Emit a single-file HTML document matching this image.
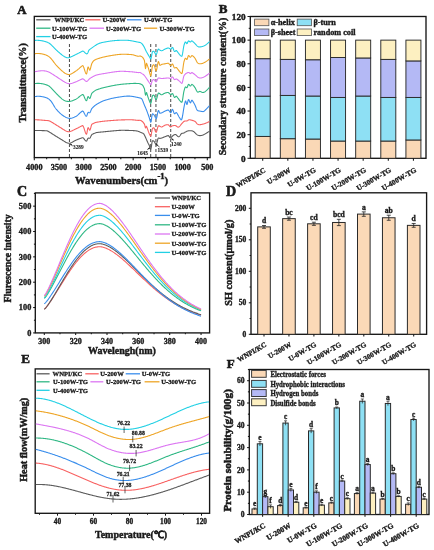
<!DOCTYPE html><html><head><meta charset="utf-8"><style>html,body{margin:0;padding:0;background:#fff;overflow:hidden}svg{display:block;filter:blur(0.4px)}</style></head><body><svg width="434" height="550" viewBox="0 0 434 550" font-family="Liberation Serif" font-weight="bold">
<rect width="434" height="550" fill="#fff"/>
<rect x="34.30" y="16.40" width="175.80" height="141.20" fill="none" stroke="#161616" stroke-width="1.35"/>
<line x1="34.30" y1="157.60" x2="34.30" y2="160.20" stroke="#161616" stroke-width="1.05"/>
<text x="34.30" y="170.00" font-size="8.2" text-anchor="middle" fill="#1a1a1a" stroke="#1a1a1a" stroke-width="0.369">4000</text>
<line x1="46.66" y1="157.60" x2="46.66" y2="159.20" stroke="#161616" stroke-width="1.05"/>
<line x1="59.02" y1="157.60" x2="59.02" y2="160.20" stroke="#161616" stroke-width="1.05"/>
<text x="59.02" y="170.00" font-size="8.2" text-anchor="middle" fill="#1a1a1a" stroke="#1a1a1a" stroke-width="0.369">3500</text>
<line x1="71.37" y1="157.60" x2="71.37" y2="159.20" stroke="#161616" stroke-width="1.05"/>
<line x1="83.73" y1="157.60" x2="83.73" y2="160.20" stroke="#161616" stroke-width="1.05"/>
<text x="83.73" y="170.00" font-size="8.2" text-anchor="middle" fill="#1a1a1a" stroke="#1a1a1a" stroke-width="0.369">3000</text>
<line x1="96.09" y1="157.60" x2="96.09" y2="159.20" stroke="#161616" stroke-width="1.05"/>
<line x1="108.44" y1="157.60" x2="108.44" y2="160.20" stroke="#161616" stroke-width="1.05"/>
<text x="108.44" y="170.00" font-size="8.2" text-anchor="middle" fill="#1a1a1a" stroke="#1a1a1a" stroke-width="0.369">2500</text>
<line x1="120.80" y1="157.60" x2="120.80" y2="159.20" stroke="#161616" stroke-width="1.05"/>
<line x1="133.16" y1="157.60" x2="133.16" y2="160.20" stroke="#161616" stroke-width="1.05"/>
<text x="133.16" y="170.00" font-size="8.2" text-anchor="middle" fill="#1a1a1a" stroke="#1a1a1a" stroke-width="0.369">2000</text>
<line x1="145.52" y1="157.60" x2="145.52" y2="159.20" stroke="#161616" stroke-width="1.05"/>
<line x1="157.88" y1="157.60" x2="157.88" y2="160.20" stroke="#161616" stroke-width="1.05"/>
<text x="157.88" y="170.00" font-size="8.2" text-anchor="middle" fill="#1a1a1a" stroke="#1a1a1a" stroke-width="0.369">1500</text>
<line x1="170.23" y1="157.60" x2="170.23" y2="159.20" stroke="#161616" stroke-width="1.05"/>
<line x1="182.59" y1="157.60" x2="182.59" y2="160.20" stroke="#161616" stroke-width="1.05"/>
<text x="182.59" y="170.00" font-size="8.2" text-anchor="middle" fill="#1a1a1a" stroke="#1a1a1a" stroke-width="0.369">1000</text>
<line x1="194.95" y1="157.60" x2="194.95" y2="159.20" stroke="#161616" stroke-width="1.05"/>
<line x1="207.31" y1="157.60" x2="207.31" y2="160.20" stroke="#161616" stroke-width="1.05"/>
<text x="207.31" y="170.00" font-size="8.2" text-anchor="middle" fill="#1a1a1a" stroke="#1a1a1a" stroke-width="0.369">500</text>
<text x="17.30" y="13.60" font-size="12.8" text-anchor="start" fill="#1a1a1a" stroke="#1a1a1a" stroke-width="0.576">A</text>
<text x="121.60" y="184.00" font-size="10.6" text-anchor="middle" fill="#1a1a1a" stroke="#1a1a1a" stroke-width="0.477">Wavenumbers(cm<tspan dy="-4.6" font-size="8.6">-1</tspan><tspan dy="4.6">)</tspan></text>
<text x="26.50" y="82.90" font-size="10.1" text-anchor="middle" fill="#1a1a1a" stroke="#1a1a1a" stroke-width="0.454" transform="rotate(-90 26.50 82.90)">Transmittnace(%)</text>
<line x1="36.20" y1="19.80" x2="50.50" y2="19.80" stroke="#5c5c5c" stroke-width="1.3"/>
<text x="54.60" y="22.10" font-size="6.6" text-anchor="start" fill="#1a1a1a" stroke="#1a1a1a" stroke-width="0.297">WNPI/KC</text>
<line x1="85.30" y1="19.80" x2="100.50" y2="19.80" stroke="#f86262" stroke-width="1.3"/>
<text x="102.50" y="22.10" font-size="6.6" text-anchor="start" fill="#1a1a1a" stroke="#1a1a1a" stroke-width="0.297">U-200W</text>
<line x1="127.00" y1="19.80" x2="141.50" y2="19.80" stroke="#3a8eec" stroke-width="1.3"/>
<text x="144.00" y="22.10" font-size="6.6" text-anchor="start" fill="#1a1a1a" stroke="#1a1a1a" stroke-width="0.297">U-0W-TG</text>
<line x1="36.20" y1="28.20" x2="50.50" y2="28.20" stroke="#30b885" stroke-width="1.3"/>
<text x="52.10" y="30.50" font-size="6.6" text-anchor="start" fill="#1a1a1a" stroke="#1a1a1a" stroke-width="0.297">U-100W-TG</text>
<line x1="89.50" y1="28.20" x2="104.00" y2="28.20" stroke="#dc76f2" stroke-width="1.3"/>
<text x="106.10" y="30.50" font-size="6.6" text-anchor="start" fill="#1a1a1a" stroke="#1a1a1a" stroke-width="0.297">U-200W-TG</text>
<line x1="144.00" y1="28.20" x2="157.20" y2="28.20" stroke="#eea526" stroke-width="1.3"/>
<text x="159.60" y="30.50" font-size="6.6" text-anchor="start" fill="#1a1a1a" stroke="#1a1a1a" stroke-width="0.297">U-300W-TG</text>
<line x1="36.20" y1="36.60" x2="50.50" y2="36.60" stroke="#22d0e4" stroke-width="1.3"/>
<text x="52.10" y="38.90" font-size="6.6" text-anchor="start" fill="#1a1a1a" stroke="#1a1a1a" stroke-width="0.297">U-400W-TG</text>
<line x1="69.44" y1="44.00" x2="69.44" y2="157.60" stroke="#333" stroke-width="0.9" stroke-dasharray="3,2"/>
<line x1="150.71" y1="44.00" x2="150.71" y2="157.60" stroke="#333" stroke-width="0.9" stroke-dasharray="3,2"/>
<line x1="155.95" y1="44.00" x2="155.95" y2="157.60" stroke="#333" stroke-width="0.9" stroke-dasharray="3,2"/>
<line x1="170.73" y1="44.00" x2="170.73" y2="157.60" stroke="#333" stroke-width="0.9" stroke-dasharray="3,2"/>
<path d="M34.90,130.50 L35.25,130.49 L35.60,130.48 L35.95,130.48 L36.30,130.47 L36.65,130.47 L37.00,130.47 L37.35,130.47 L37.70,130.47 L38.05,130.48 L38.40,130.48 L38.75,130.49 L39.10,130.49 L39.45,130.50 L39.80,130.51 L40.15,130.52 L40.50,130.53 L40.85,130.54 L41.20,130.55 L41.55,130.57 L41.90,130.58 L42.25,130.59 L42.60,130.61 L42.95,130.62 L43.30,130.63 L43.65,130.65 L44.00,130.66 L44.35,130.67 L44.70,130.69 L45.05,130.70 L45.40,130.71 L45.75,130.71 L46.10,130.72 L46.45,130.75 L46.80,130.80 L47.15,130.88 L47.50,131.00 L47.85,131.15 L48.20,131.33 L48.55,131.52 L48.90,131.72 L49.25,131.94 L49.60,132.16 L49.95,132.38 L50.30,132.61 L50.65,132.83 L51.00,133.05 L51.35,133.27 L51.70,133.50 L52.05,133.72 L52.39,133.94 L52.74,134.17 L53.09,134.39 L53.44,134.61 L53.79,134.84 L54.14,135.06 L54.49,135.28 L54.84,135.51 L55.19,135.73 L55.54,135.95 L55.89,136.17 L56.24,136.39 L56.59,136.61 L56.94,136.83 L57.29,137.04 L57.64,137.26 L57.99,137.47 L58.34,137.68 L58.69,137.89 L59.04,138.11 L59.39,138.32 L59.74,138.53 L60.09,138.74 L60.44,138.95 L60.79,139.16 L61.14,139.36 L61.49,139.58 L61.84,139.79 L62.19,140.00 L62.54,140.23 L62.89,140.45 L63.24,140.68 L63.59,140.91 L63.94,141.14 L64.29,141.37 L64.64,141.59 L64.99,141.80 L65.34,142.01 L65.69,142.21 L66.04,142.39 L66.39,142.56 L66.74,142.72 L67.09,142.86 L67.44,142.98 L67.79,143.08 L68.14,143.16 L68.49,143.22 L68.84,143.25 L69.19,143.25 L69.54,143.22 L69.89,143.17 L70.24,143.08 L70.59,142.97 L70.94,142.84 L71.29,142.69 L71.64,142.52 L71.99,142.34 L72.34,142.15 L72.69,141.95 L73.04,141.75 L73.39,141.54 L73.74,141.34 L74.09,141.13 L74.44,140.94 L74.79,140.75 L75.14,140.57 L75.49,140.41 L75.84,140.25 L76.19,140.10 L76.54,139.95 L76.89,139.80 L77.24,139.66 L77.59,139.51 L77.94,139.37 L78.29,139.23 L78.64,139.09 L78.99,138.96 L79.34,138.82 L79.69,138.69 L80.04,138.56 L80.39,138.43 L80.74,138.30 L81.09,138.17 L81.44,138.04 L81.79,137.92 L82.14,137.79 L82.49,137.68 L82.84,137.70 L83.19,137.88 L83.54,138.20 L83.89,138.60 L84.24,139.07 L84.59,139.56 L84.94,140.04 L85.29,140.47 L85.64,140.82 L85.99,141.05 L86.34,141.13 L86.69,140.96 L87.04,140.32 L87.38,139.45 L87.73,138.66 L88.08,138.24 L88.43,138.13 L88.78,138.17 L89.13,138.25 L89.48,138.28 L89.83,138.15 L90.18,137.76 L90.53,137.14 L90.88,136.39 L91.23,135.63 L91.58,134.98 L91.93,134.55 L92.28,134.33 L92.63,134.13 L92.98,133.95 L93.33,133.78 L93.68,133.62 L94.03,133.49 L94.38,133.35 L94.73,133.20 L95.08,133.06 L95.43,132.91 L95.78,132.78 L96.13,132.66 L96.48,132.57 L96.83,132.51 L97.18,132.47 L97.53,132.43 L97.88,132.39 L98.23,132.35 L98.58,132.32 L98.93,132.28 L99.28,132.24 L99.63,132.21 L99.98,132.17 L100.33,132.14 L100.68,132.10 L101.03,132.07 L101.38,132.03 L101.73,132.00 L102.08,131.97 L102.43,131.93 L102.78,131.90 L103.13,131.86 L103.48,131.83 L103.83,131.80 L104.18,131.76 L104.53,131.73 L104.88,131.70 L105.23,131.66 L105.58,131.63 L105.93,131.59 L106.28,131.56 L106.63,131.53 L106.98,131.49 L107.33,131.46 L107.68,131.42 L108.03,131.39 L108.38,131.36 L108.73,131.32 L109.08,131.29 L109.43,131.26 L109.78,131.22 L110.13,131.19 L110.48,131.15 L110.83,131.12 L111.18,131.09 L111.53,131.05 L111.88,131.02 L112.23,130.99 L112.58,130.95 L112.93,130.92 L113.28,130.89 L113.63,130.86 L113.98,130.82 L114.33,130.79 L114.68,130.76 L115.03,130.73 L115.38,130.70 L115.73,130.67 L116.08,130.63 L116.43,130.60 L116.78,130.57 L117.13,130.54 L117.48,130.51 L117.83,130.48 L118.18,130.45 L118.53,130.43 L118.88,130.41 L119.23,130.39 L119.58,130.37 L119.93,130.35 L120.28,130.34 L120.63,130.33 L120.98,130.32 L121.33,130.31 L121.68,130.31 L122.03,130.30 L122.37,130.30 L122.72,130.30 L123.07,130.30 L123.42,130.30 L123.77,130.30 L124.12,130.31 L124.47,130.31 L124.82,130.32 L125.17,130.33 L125.52,130.33 L125.87,130.34 L126.22,130.35 L126.57,130.36 L126.92,130.37 L127.27,130.38 L127.62,130.39 L127.97,130.40 L128.32,130.41 L128.67,130.42 L129.02,130.43 L129.37,130.45 L129.72,130.46 L130.07,130.47 L130.42,130.47 L130.77,130.48 L131.12,130.49 L131.47,130.50 L131.82,130.51 L132.17,130.52 L132.52,130.54 L132.87,130.55 L133.22,130.58 L133.57,130.60 L133.92,130.63 L134.27,130.66 L134.62,130.69 L134.97,130.73 L135.32,130.76 L135.67,130.80 L136.02,130.84 L136.37,130.88 L136.72,130.93 L137.07,131.00 L137.42,131.08 L137.77,131.17 L138.12,131.28 L138.47,131.40 L138.82,131.54 L139.17,131.68 L139.52,131.82 L139.87,131.97 L140.22,132.13 L140.57,132.29 L140.92,132.44 L141.27,132.60 L141.62,132.75 L141.97,132.88 L142.32,133.00 L142.67,133.14 L143.02,133.33 L143.37,133.59 L143.72,133.94 L144.07,134.42 L144.42,135.04 L144.77,135.75 L145.12,136.50 L145.47,137.27 L145.82,138.06 L146.17,138.85 L146.52,139.64 L146.87,140.43 L147.22,141.23 L147.57,142.03 L147.92,142.82 L148.27,143.54 L148.62,144.14 L148.97,144.74 L149.32,145.56 L149.67,146.66 L150.02,147.83 L150.37,148.83 L150.72,149.37 L151.07,148.43 L151.42,146.36 L151.77,143.89 L152.12,141.76 L152.47,140.72 L152.82,140.67 L153.17,140.74 L153.52,140.91 L153.87,141.17 L154.22,141.55 L154.57,142.11 L154.92,142.75 L155.27,143.40 L155.62,143.96 L155.97,144.33 L156.32,144.32 L156.67,143.62 L157.02,142.43 L157.36,141.01 L157.71,139.61 L158.06,138.50 L158.41,137.93 L158.76,137.94 L159.11,138.11 L159.46,138.30 L159.81,138.41 L160.16,138.36 L160.51,138.29 L160.86,138.22 L161.21,138.14 L161.56,138.05 L161.91,137.93 L162.26,137.80 L162.61,137.66 L162.96,137.52 L163.31,137.38 L163.66,137.24 L164.01,137.09 L164.36,136.95 L164.71,136.81 L165.06,136.68 L165.41,136.54 L165.76,136.40 L166.11,136.27 L166.46,136.14 L166.81,136.02 L167.16,135.89 L167.51,135.77 L167.86,135.65 L168.21,135.59 L168.56,135.78 L168.91,136.17 L169.26,136.67 L169.61,137.18 L169.96,137.62 L170.31,137.90 L170.66,137.92 L171.01,137.69 L171.36,137.37 L171.71,136.98 L172.06,136.56 L172.41,136.15 L172.76,135.80 L173.11,135.52 L173.46,135.28 L173.81,135.06 L174.16,134.86 L174.51,134.69 L174.86,134.55 L175.21,134.46 L175.56,134.51 L175.91,134.67 L176.26,134.93 L176.61,135.24 L176.96,135.59 L177.31,135.93 L177.66,136.25 L178.01,136.51 L178.36,136.69 L178.71,136.75 L179.06,136.67 L179.41,136.42 L179.76,136.01 L180.11,135.51 L180.46,134.96 L180.81,134.42 L181.16,133.94 L181.51,133.58 L181.86,133.38 L182.21,133.28 L182.56,133.22 L182.91,133.17 L183.26,133.12 L183.61,133.04 L183.96,132.92 L184.31,132.75 L184.66,132.55 L185.01,132.33 L185.36,132.10 L185.71,131.88 L186.06,131.67 L186.41,131.47 L186.76,131.30 L187.11,131.16 L187.46,131.05 L187.81,130.96 L188.16,130.89 L188.51,130.83 L188.86,130.78 L189.21,130.75 L189.56,130.72 L189.91,130.70 L190.26,130.69 L190.61,130.70 L190.96,130.72 L191.31,130.75 L191.66,130.81 L192.01,130.88 L192.35,130.97 L192.70,131.09 L193.05,131.22 L193.40,131.41 L193.75,131.65 L194.10,131.93 L194.45,132.25 L194.80,132.60 L195.15,132.96 L195.50,133.33 L195.85,133.69 L196.20,134.03 L196.55,134.35 L196.90,134.63 L197.25,134.87 L197.60,135.05 L197.95,135.20 L198.30,135.33 L198.65,135.44 L199.00,135.52 L199.35,135.58 L199.70,135.60 L200.05,135.60 L200.40,135.58 L200.75,135.55 L201.10,135.52 L201.45,135.47 L201.80,135.40 L202.15,135.32 L202.50,135.21 L202.85,135.07 L203.20,134.90 L203.55,134.73 L203.90,134.56 L204.25,134.38 L204.60,134.20 L204.95,134.01 L205.30,133.81 L205.65,133.61 L206.00,133.40 L206.35,133.19 L206.70,132.97 L207.05,132.76 L207.40,132.55 L207.75,132.33 L208.10,132.11 L208.45,131.89 L208.80,131.66 L209.15,131.43 L209.50,131.20" fill="none" stroke="#5c5c5c" stroke-width="1.1" stroke-linejoin="round"/>
<path d="M34.90,119.80 L35.25,119.80 L35.60,119.80 L35.95,119.80 L36.30,119.81 L36.65,119.81 L37.00,119.82 L37.35,119.83 L37.70,119.85 L38.05,119.86 L38.40,119.88 L38.75,119.90 L39.10,119.92 L39.45,119.94 L39.80,119.96 L40.15,119.98 L40.50,120.01 L40.85,120.04 L41.20,120.06 L41.55,120.09 L41.90,120.12 L42.25,120.15 L42.60,120.18 L42.95,120.21 L43.30,120.24 L43.65,120.27 L44.00,120.31 L44.35,120.34 L44.70,120.37 L45.05,120.40 L45.40,120.43 L45.75,120.45 L46.10,120.47 L46.45,120.49 L46.80,120.51 L47.15,120.53 L47.50,120.56 L47.85,120.60 L48.20,120.65 L48.55,120.72 L48.90,120.80 L49.25,120.90 L49.60,121.02 L49.95,121.16 L50.30,121.33 L50.65,121.53 L51.00,121.74 L51.35,121.95 L51.70,122.16 L52.05,122.38 L52.39,122.59 L52.74,122.81 L53.09,123.02 L53.44,123.24 L53.79,123.46 L54.14,123.68 L54.49,123.90 L54.84,124.12 L55.19,124.33 L55.54,124.55 L55.89,124.77 L56.24,124.99 L56.59,125.21 L56.94,125.43 L57.29,125.64 L57.64,125.86 L57.99,126.08 L58.34,126.30 L58.69,126.52 L59.04,126.74 L59.39,126.96 L59.74,127.18 L60.09,127.40 L60.44,127.62 L60.79,127.83 L61.14,128.05 L61.49,128.27 L61.84,128.49 L62.19,128.71 L62.54,128.94 L62.89,129.16 L63.24,129.39 L63.59,129.61 L63.94,129.84 L64.29,130.05 L64.64,130.26 L64.99,130.47 L65.34,130.66 L65.69,130.84 L66.04,131.01 L66.39,131.16 L66.74,131.30 L67.09,131.42 L67.44,131.52 L67.79,131.60 L68.14,131.66 L68.49,131.69 L68.84,131.70 L69.19,131.68 L69.54,131.63 L69.89,131.56 L70.24,131.46 L70.59,131.35 L70.94,131.23 L71.29,131.10 L71.64,130.95 L71.99,130.80 L72.34,130.64 L72.69,130.47 L73.04,130.30 L73.39,130.13 L73.74,129.95 L74.09,129.78 L74.44,129.60 L74.79,129.43 L75.14,129.27 L75.49,129.11 L75.84,128.95 L76.19,128.78 L76.54,128.61 L76.89,128.44 L77.24,128.26 L77.59,128.09 L77.94,127.91 L78.29,127.72 L78.64,127.54 L78.99,127.35 L79.34,127.17 L79.69,126.98 L80.04,126.80 L80.39,126.61 L80.74,126.43 L81.09,126.25 L81.44,126.07 L81.79,125.90 L82.14,125.73 L82.49,125.57 L82.84,125.70 L83.19,126.18 L83.54,126.93 L83.89,127.87 L84.24,128.95 L84.59,130.09 L84.94,131.21 L85.29,132.25 L85.64,133.13 L85.99,133.79 L86.34,134.15 L86.69,133.95 L87.04,132.43 L87.38,130.29 L87.73,128.41 L88.08,127.64 L88.43,127.84 L88.78,128.51 L89.13,129.33 L89.48,129.99 L89.83,130.17 L90.18,129.62 L90.53,128.57 L90.88,127.27 L91.23,125.97 L91.58,124.88 L91.93,124.25 L92.28,124.04 L92.63,123.85 L92.98,123.66 L93.33,123.48 L93.68,123.31 L94.03,123.14 L94.38,122.98 L94.73,122.83 L95.08,122.69 L95.43,122.57 L95.78,122.46 L96.13,122.36 L96.48,122.28 L96.83,122.21 L97.18,122.16 L97.53,122.10 L97.88,122.05 L98.23,121.99 L98.58,121.93 L98.93,121.88 L99.28,121.82 L99.63,121.76 L99.98,121.71 L100.33,121.65 L100.68,121.60 L101.03,121.54 L101.38,121.49 L101.73,121.44 L102.08,121.40 L102.43,121.35 L102.78,121.31 L103.13,121.27 L103.48,121.23 L103.83,121.20 L104.18,121.17 L104.53,121.13 L104.88,121.10 L105.23,121.07 L105.58,121.04 L105.93,121.01 L106.28,120.97 L106.63,120.94 L106.98,120.91 L107.33,120.88 L107.68,120.85 L108.03,120.82 L108.38,120.79 L108.73,120.76 L109.08,120.73 L109.43,120.70 L109.78,120.67 L110.13,120.64 L110.48,120.61 L110.83,120.58 L111.18,120.55 L111.53,120.52 L111.88,120.50 L112.23,120.47 L112.58,120.44 L112.93,120.42 L113.28,120.39 L113.63,120.36 L113.98,120.34 L114.33,120.31 L114.68,120.29 L115.03,120.26 L115.38,120.24 L115.73,120.22 L116.08,120.19 L116.43,120.17 L116.78,120.15 L117.13,120.13 L117.48,120.11 L117.83,120.09 L118.18,120.07 L118.53,120.05 L118.88,120.03 L119.23,120.01 L119.58,120.00 L119.93,119.98 L120.28,119.97 L120.63,119.95 L120.98,119.94 L121.33,119.92 L121.68,119.91 L122.03,119.90 L122.37,119.89 L122.72,119.88 L123.07,119.87 L123.42,119.86 L123.77,119.85 L124.12,119.84 L124.47,119.84 L124.82,119.83 L125.17,119.82 L125.52,119.82 L125.87,119.81 L126.22,119.81 L126.57,119.80 L126.92,119.80 L127.27,119.80 L127.62,119.79 L127.97,119.79 L128.32,119.79 L128.67,119.79 L129.02,119.79 L129.37,119.79 L129.72,119.79 L130.07,119.79 L130.42,119.79 L130.77,119.79 L131.12,119.80 L131.47,119.80 L131.82,119.81 L132.17,119.82 L132.52,119.83 L132.87,119.86 L133.22,119.88 L133.57,119.91 L133.92,119.94 L134.27,119.98 L134.62,120.02 L134.97,120.06 L135.32,120.10 L135.67,120.14 L136.02,120.18 L136.37,120.22 L136.72,120.25 L137.07,120.29 L137.42,120.32 L137.77,120.35 L138.12,120.38 L138.47,120.40 L138.82,120.39 L139.17,120.36 L139.52,120.32 L139.87,120.30 L140.22,120.32 L140.57,120.42 L140.92,120.58 L141.27,120.78 L141.62,121.01 L141.97,121.25 L142.32,121.48 L142.67,121.78 L143.02,122.16 L143.37,122.60 L143.72,123.09 L144.07,123.60 L144.42,124.13 L144.77,125.22 L145.12,126.76 L145.47,127.94 L145.82,127.70 L146.17,126.54 L146.52,126.34 L146.87,127.18 L147.22,128.13 L147.57,129.14 L147.92,130.17 L148.27,131.17 L148.62,132.10 L148.97,132.95 L149.32,133.79 L149.67,134.57 L150.02,135.26 L150.37,135.82 L150.72,136.13 L151.07,135.34 L151.42,133.64 L151.77,131.58 L152.12,129.70 L152.47,128.55 L152.82,128.13 L153.17,127.89 L153.52,127.82 L153.87,127.92 L154.22,128.25 L154.57,128.99 L154.92,129.96 L155.27,130.96 L155.62,131.79 L155.97,132.26 L156.32,132.15 L156.67,131.39 L157.02,130.20 L157.36,128.82 L157.71,127.48 L158.06,126.41 L158.41,125.84 L158.76,125.79 L159.11,125.87 L159.46,126.01 L159.81,126.21 L160.16,126.43 L160.51,126.64 L160.86,126.83 L161.21,126.96 L161.56,127.00 L161.91,126.94 L162.26,126.77 L162.61,126.57 L162.96,126.36 L163.31,126.14 L163.66,125.91 L164.01,125.70 L164.36,125.50 L164.71,125.32 L165.06,125.18 L165.41,125.06 L165.76,124.95 L166.11,124.87 L166.46,124.80 L166.81,124.74 L167.16,124.71 L167.51,124.69 L167.86,124.69 L168.21,124.75 L168.56,124.98 L168.91,125.33 L169.26,125.75 L169.61,126.18 L169.96,126.56 L170.31,126.82 L170.66,126.90 L171.01,126.79 L171.36,126.57 L171.71,126.28 L172.06,126.01 L172.41,125.83 L172.76,125.74 L173.11,125.67 L173.46,125.61 L173.81,125.57 L174.16,125.54 L174.51,125.51 L174.86,125.50 L175.21,125.52 L175.56,125.62 L175.91,125.80 L176.26,126.03 L176.61,126.29 L176.96,126.55 L177.31,126.79 L177.66,126.98 L178.01,127.11 L178.36,127.15 L178.71,127.07 L179.06,126.85 L179.41,126.54 L179.76,126.16 L180.11,125.73 L180.46,125.28 L180.81,124.82 L181.16,124.36 L181.51,123.93 L181.86,123.54 L182.21,123.16 L182.56,122.78 L182.91,122.40 L183.26,122.05 L183.61,121.72 L183.96,121.43 L184.31,121.21 L184.66,121.09 L185.01,121.03 L185.36,121.01 L185.71,121.02 L186.06,121.03 L186.41,121.02 L186.76,120.97 L187.11,120.86 L187.46,120.66 L187.81,120.42 L188.16,120.17 L188.51,119.96 L188.86,119.82 L189.21,119.79 L189.56,119.79 L189.91,119.82 L190.26,119.87 L190.61,119.94 L190.96,120.02 L191.31,120.11 L191.66,120.21 L192.01,120.30 L192.35,120.40 L192.70,120.50 L193.05,120.61 L193.40,120.73 L193.75,120.85 L194.10,120.99 L194.45,121.14 L194.80,121.30 L195.15,121.49 L195.50,121.80 L195.85,122.21 L196.20,122.67 L196.55,123.14 L196.90,123.57 L197.25,123.93 L197.60,124.16 L197.95,124.33 L198.30,124.48 L198.65,124.59 L199.00,124.67 L199.35,124.72 L199.70,124.73 L200.05,124.69 L200.40,124.64 L200.75,124.59 L201.10,124.53 L201.45,124.47 L201.80,124.40 L202.15,124.32 L202.50,124.24 L202.85,124.14 L203.20,124.04 L203.55,123.93 L203.90,123.83 L204.25,123.72 L204.60,123.61 L204.95,123.49 L205.30,123.37 L205.65,123.24 L206.00,123.10 L206.35,122.96 L206.70,122.80 L207.05,122.65 L207.40,122.49 L207.75,122.32 L208.10,122.15 L208.45,121.97 L208.80,121.78 L209.15,121.59 L209.50,121.40" fill="none" stroke="#f86262" stroke-width="1.1" stroke-linejoin="round"/>
<path d="M34.90,96.60 L35.25,96.53 L35.60,96.48 L35.95,96.43 L36.30,96.38 L36.65,96.35 L37.00,96.32 L37.35,96.30 L37.70,96.29 L38.05,96.28 L38.40,96.28 L38.75,96.29 L39.10,96.30 L39.45,96.32 L39.80,96.34 L40.15,96.37 L40.50,96.41 L40.85,96.45 L41.20,96.50 L41.55,96.55 L41.90,96.61 L42.25,96.67 L42.60,96.74 L42.95,96.81 L43.30,96.88 L43.65,96.96 L44.00,97.04 L44.35,97.13 L44.70,97.22 L45.05,97.31 L45.40,97.41 L45.75,97.52 L46.10,97.65 L46.45,97.78 L46.80,97.93 L47.15,98.09 L47.50,98.27 L47.85,98.47 L48.20,98.68 L48.55,98.91 L48.90,99.16 L49.25,99.43 L49.60,99.73 L49.95,100.04 L50.30,100.38 L50.65,100.75 L51.00,101.16 L51.35,101.61 L51.70,102.10 L52.05,102.63 L52.39,103.18 L52.74,103.75 L53.09,104.34 L53.44,104.93 L53.79,105.53 L54.14,106.11 L54.49,106.69 L54.84,107.25 L55.19,107.78 L55.54,108.28 L55.89,108.75 L56.24,109.17 L56.59,109.58 L56.94,109.98 L57.29,110.37 L57.64,110.76 L57.99,111.14 L58.34,111.51 L58.69,111.87 L59.04,112.22 L59.39,112.56 L59.74,112.90 L60.09,113.22 L60.44,113.54 L60.79,113.85 L61.14,114.15 L61.49,114.43 L61.84,114.71 L62.19,114.98 L62.54,115.25 L62.89,115.50 L63.24,115.75 L63.59,115.99 L63.94,116.22 L64.29,116.44 L64.64,116.65 L64.99,116.85 L65.34,117.04 L65.69,117.22 L66.04,117.39 L66.39,117.55 L66.74,117.69 L67.09,117.83 L67.44,117.95 L67.79,118.05 L68.14,118.15 L68.49,118.23 L68.84,118.30 L69.19,118.35 L69.54,118.39 L69.89,118.41 L70.24,118.41 L70.59,118.38 L70.94,118.33 L71.29,118.27 L71.64,118.18 L71.99,118.08 L72.34,117.97 L72.69,117.84 L73.04,117.70 L73.39,117.56 L73.74,117.40 L74.09,117.25 L74.44,117.09 L74.79,116.92 L75.14,116.76 L75.49,116.61 L75.84,116.43 L76.19,116.23 L76.54,116.00 L76.89,115.75 L77.24,115.48 L77.59,115.19 L77.94,114.88 L78.29,114.57 L78.64,114.24 L78.99,113.91 L79.34,113.58 L79.69,113.25 L80.04,112.93 L80.39,112.61 L80.74,112.31 L81.09,112.01 L81.44,111.74 L81.79,111.49 L82.14,111.26 L82.49,111.06 L82.84,111.08 L83.19,111.36 L83.54,111.82 L83.89,112.44 L84.24,113.14 L84.59,113.87 L84.94,114.59 L85.29,115.24 L85.64,115.77 L85.99,116.12 L86.34,116.24 L86.69,116.00 L87.04,115.14 L87.38,113.98 L87.73,112.95 L88.08,112.44 L88.43,112.37 L88.78,112.50 L89.13,112.70 L89.48,112.81 L89.83,112.68 L90.18,112.20 L90.53,111.47 L90.88,110.60 L91.23,109.72 L91.58,108.94 L91.93,108.37 L92.28,108.02 L92.63,107.67 L92.98,107.33 L93.33,106.99 L93.68,106.66 L94.03,106.34 L94.38,106.04 L94.73,105.74 L95.08,105.45 L95.43,105.18 L95.78,104.92 L96.13,104.68 L96.48,104.45 L96.83,104.24 L97.18,104.04 L97.53,103.84 L97.88,103.64 L98.23,103.44 L98.58,103.24 L98.93,103.04 L99.28,102.84 L99.63,102.65 L99.98,102.45 L100.33,102.26 L100.68,102.08 L101.03,101.90 L101.38,101.72 L101.73,101.55 L102.08,101.39 L102.43,101.23 L102.78,101.08 L103.13,100.94 L103.48,100.81 L103.83,100.69 L104.18,100.57 L104.53,100.46 L104.88,100.34 L105.23,100.23 L105.58,100.12 L105.93,100.01 L106.28,99.91 L106.63,99.80 L106.98,99.70 L107.33,99.60 L107.68,99.49 L108.03,99.40 L108.38,99.30 L108.73,99.20 L109.08,99.11 L109.43,99.02 L109.78,98.93 L110.13,98.84 L110.48,98.75 L110.83,98.66 L111.18,98.58 L111.53,98.49 L111.88,98.41 L112.23,98.33 L112.58,98.25 L112.93,98.18 L113.28,98.10 L113.63,98.03 L113.98,97.96 L114.33,97.89 L114.68,97.82 L115.03,97.75 L115.38,97.68 L115.73,97.62 L116.08,97.56 L116.43,97.50 L116.78,97.44 L117.13,97.38 L117.48,97.32 L117.83,97.26 L118.18,97.21 L118.53,97.15 L118.88,97.10 L119.23,97.04 L119.58,96.98 L119.93,96.93 L120.28,96.88 L120.63,96.82 L120.98,96.77 L121.33,96.72 L121.68,96.67 L122.03,96.62 L122.37,96.57 L122.72,96.52 L123.07,96.48 L123.42,96.44 L123.77,96.40 L124.12,96.36 L124.47,96.32 L124.82,96.29 L125.17,96.26 L125.52,96.23 L125.87,96.20 L126.22,96.18 L126.57,96.16 L126.92,96.15 L127.27,96.13 L127.62,96.12 L127.97,96.12 L128.32,96.12 L128.67,96.12 L129.02,96.12 L129.37,96.14 L129.72,96.15 L130.07,96.17 L130.42,96.19 L130.77,96.22 L131.12,96.26 L131.47,96.30 L131.82,96.34 L132.17,96.39 L132.52,96.44 L132.87,96.49 L133.22,96.55 L133.57,96.61 L133.92,96.67 L134.27,96.74 L134.62,96.81 L134.97,96.88 L135.32,96.95 L135.67,97.02 L136.02,97.09 L136.37,97.17 L136.72,97.24 L137.07,97.32 L137.42,97.39 L137.77,97.47 L138.12,97.54 L138.47,97.61 L138.82,97.69 L139.17,97.78 L139.52,97.87 L139.87,97.97 L140.22,98.05 L140.57,98.13 L140.92,98.23 L141.27,98.41 L141.62,98.71 L141.97,99.18 L142.32,99.85 L142.67,100.65 L143.02,101.53 L143.37,102.44 L143.72,103.37 L144.07,104.28 L144.42,105.14 L144.77,105.96 L145.12,106.77 L145.47,107.57 L145.82,108.38 L146.17,109.20 L146.52,110.04 L146.87,110.93 L147.22,111.86 L147.57,112.83 L147.92,113.81 L148.27,114.80 L148.62,115.77 L148.97,116.78 L149.32,117.91 L149.67,119.10 L150.02,120.27 L150.37,121.36 L150.72,122.17 L151.07,121.43 L151.42,119.42 L151.77,116.94 L152.12,114.80 L152.47,113.81 L152.82,113.88 L153.17,114.07 L153.52,114.36 L153.87,114.74 L154.22,115.21 L154.57,115.86 L154.92,116.60 L155.27,117.35 L155.62,118.03 L155.97,118.56 L156.32,118.67 L156.67,117.82 L157.02,116.28 L157.36,114.42 L157.71,112.60 L158.06,111.17 L158.41,110.51 L158.76,110.79 L159.11,111.58 L159.46,112.49 L159.81,113.11 L160.16,113.18 L160.51,113.13 L160.86,113.07 L161.21,112.99 L161.56,112.89 L161.91,112.74 L162.26,112.56 L162.61,112.38 L162.96,112.19 L163.31,112.00 L163.66,111.81 L164.01,111.62 L164.36,111.43 L164.71,111.25 L165.06,111.07 L165.41,110.90 L165.76,110.75 L166.11,110.61 L166.46,110.48 L166.81,110.36 L167.16,110.25 L167.51,110.14 L167.86,110.04 L168.21,109.99 L168.56,110.17 L168.91,110.54 L169.26,111.02 L169.61,111.55 L169.96,112.05 L170.31,112.45 L170.66,112.69 L171.01,112.49 L171.36,111.73 L171.71,110.75 L172.06,109.86 L172.41,109.41 L172.76,109.63 L173.11,110.39 L173.46,111.42 L173.81,112.50 L174.16,113.37 L174.51,113.80 L174.86,113.75 L175.21,113.43 L175.56,113.01 L175.91,112.67 L176.26,112.55 L176.61,112.82 L176.96,113.28 L177.31,113.82 L177.66,114.42 L178.01,115.05 L178.36,115.69 L178.71,116.33 L179.06,116.93 L179.41,117.47 L179.76,118.00 L180.11,118.62 L180.46,119.22 L180.81,119.68 L181.16,119.88 L181.51,119.71 L181.86,119.05 L182.21,117.77 L182.56,115.98 L182.91,113.86 L183.26,111.61 L183.61,109.40 L183.96,107.42 L184.31,105.67 L184.66,103.98 L185.01,102.44 L185.36,101.12 L185.71,101.00 L186.06,102.00 L186.41,103.38 L186.76,104.40 L187.11,104.34 L187.46,103.22 L187.81,101.66 L188.16,100.26 L188.51,99.60 L188.86,99.82 L189.21,100.51 L189.56,101.41 L189.91,102.27 L190.26,102.83 L190.61,102.82 L190.96,102.11 L191.31,101.10 L191.66,100.30 L192.01,100.21 L192.35,100.64 L192.70,101.12 L193.05,101.64 L193.40,102.20 L193.75,102.78 L194.10,103.40 L194.45,104.05 L194.80,104.72 L195.15,105.42 L195.50,106.26 L195.85,107.20 L196.20,108.15 L196.55,109.03 L196.90,109.77 L197.25,110.30 L197.60,110.55 L197.95,110.68 L198.30,110.79 L198.65,110.87 L199.00,110.93 L199.35,110.99 L199.70,111.05 L200.05,111.11 L200.40,111.18 L200.75,111.26 L201.10,111.33 L201.45,111.41 L201.80,111.47 L202.15,111.53 L202.50,111.57 L202.85,111.60 L203.20,111.59 L203.55,111.49 L203.90,111.32 L204.25,111.08 L204.60,110.79 L204.95,110.46 L205.30,110.11 L205.65,109.75 L206.00,109.40 L206.35,109.05 L206.70,108.70 L207.05,108.35 L207.40,107.99 L207.75,107.62 L208.10,107.24 L208.45,106.85 L208.80,106.45 L209.15,106.03 L209.50,105.60" fill="none" stroke="#3a8eec" stroke-width="1.1" stroke-linejoin="round"/>
<path d="M34.90,83.60 L35.25,83.55 L35.60,83.51 L35.95,83.47 L36.30,83.44 L36.65,83.41 L37.00,83.39 L37.35,83.38 L37.70,83.37 L38.05,83.37 L38.40,83.37 L38.75,83.38 L39.10,83.39 L39.45,83.41 L39.80,83.43 L40.15,83.46 L40.50,83.50 L40.85,83.54 L41.20,83.59 L41.55,83.64 L41.90,83.69 L42.25,83.75 L42.60,83.82 L42.95,83.89 L43.30,83.96 L43.65,84.04 L44.00,84.13 L44.35,84.22 L44.70,84.31 L45.05,84.41 L45.40,84.52 L45.75,84.62 L46.10,84.74 L46.45,84.86 L46.80,84.99 L47.15,85.13 L47.50,85.28 L47.85,85.45 L48.20,85.63 L48.55,85.82 L48.90,86.04 L49.25,86.28 L49.60,86.53 L49.95,86.81 L50.30,87.11 L50.65,87.44 L51.00,87.79 L51.35,88.15 L51.70,88.51 L52.05,88.88 L52.39,89.26 L52.74,89.64 L53.09,90.03 L53.44,90.42 L53.79,90.81 L54.14,91.20 L54.49,91.58 L54.84,91.97 L55.19,92.35 L55.54,92.72 L55.89,93.09 L56.24,93.45 L56.59,93.80 L56.94,94.16 L57.29,94.51 L57.64,94.86 L57.99,95.21 L58.34,95.56 L58.69,95.90 L59.04,96.24 L59.39,96.58 L59.74,96.91 L60.09,97.24 L60.44,97.57 L60.79,97.89 L61.14,98.20 L61.49,98.52 L61.84,98.82 L62.19,99.11 L62.54,99.38 L62.89,99.63 L63.24,99.87 L63.59,100.08 L63.94,100.28 L64.29,100.46 L64.64,100.62 L64.99,100.77 L65.34,100.90 L65.69,101.02 L66.04,101.12 L66.39,101.21 L66.74,101.28 L67.09,101.34 L67.44,101.39 L67.79,101.42 L68.14,101.44 L68.49,101.45 L68.84,101.45 L69.19,101.44 L69.54,101.41 L69.89,101.38 L70.24,101.33 L70.59,101.26 L70.94,101.18 L71.29,101.09 L71.64,100.98 L71.99,100.87 L72.34,100.74 L72.69,100.61 L73.04,100.47 L73.39,100.32 L73.74,100.17 L74.09,100.02 L74.44,99.87 L74.79,99.71 L75.14,99.56 L75.49,99.41 L75.84,99.24 L76.19,99.06 L76.54,98.85 L76.89,98.62 L77.24,98.38 L77.59,98.12 L77.94,97.86 L78.29,97.58 L78.64,97.30 L78.99,97.01 L79.34,96.72 L79.69,96.43 L80.04,96.15 L80.39,95.87 L80.74,95.60 L81.09,95.34 L81.44,95.09 L81.79,94.86 L82.14,94.65 L82.49,94.46 L82.84,94.51 L83.19,94.84 L83.54,95.37 L83.89,96.07 L84.24,96.87 L84.59,97.71 L84.94,98.55 L85.29,99.32 L85.64,99.97 L85.99,100.45 L86.34,100.68 L86.69,100.53 L87.04,99.57 L87.38,98.25 L87.73,97.07 L88.08,96.55 L88.43,96.71 L88.78,97.22 L89.13,97.85 L89.48,98.34 L89.83,98.45 L90.18,97.98 L90.53,97.08 L90.88,95.96 L91.23,94.81 L91.58,93.82 L91.93,93.17 L92.28,92.85 L92.63,92.54 L92.98,92.24 L93.33,91.94 L93.68,91.65 L94.03,91.37 L94.38,91.10 L94.73,90.85 L95.08,90.61 L95.43,90.39 L95.78,90.19 L96.13,90.01 L96.48,89.85 L96.83,89.72 L97.18,89.61 L97.53,89.49 L97.88,89.38 L98.23,89.26 L98.58,89.14 L98.93,89.03 L99.28,88.91 L99.63,88.80 L99.98,88.68 L100.33,88.57 L100.68,88.46 L101.03,88.35 L101.38,88.24 L101.73,88.14 L102.08,88.04 L102.43,87.94 L102.78,87.85 L103.13,87.76 L103.48,87.67 L103.83,87.59 L104.18,87.51 L104.53,87.44 L104.88,87.36 L105.23,87.28 L105.58,87.20 L105.93,87.12 L106.28,87.04 L106.63,86.96 L106.98,86.88 L107.33,86.80 L107.68,86.72 L108.03,86.65 L108.38,86.57 L108.73,86.49 L109.08,86.41 L109.43,86.34 L109.78,86.26 L110.13,86.19 L110.48,86.11 L110.83,86.04 L111.18,85.96 L111.53,85.89 L111.88,85.82 L112.23,85.75 L112.58,85.68 L112.93,85.61 L113.28,85.54 L113.63,85.47 L113.98,85.41 L114.33,85.34 L114.68,85.28 L115.03,85.22 L115.38,85.16 L115.73,85.10 L116.08,85.04 L116.43,84.98 L116.78,84.92 L117.13,84.87 L117.48,84.82 L117.83,84.77 L118.18,84.72 L118.53,84.67 L118.88,84.62 L119.23,84.58 L119.58,84.53 L119.93,84.49 L120.28,84.44 L120.63,84.40 L120.98,84.36 L121.33,84.32 L121.68,84.28 L122.03,84.25 L122.37,84.21 L122.72,84.17 L123.07,84.14 L123.42,84.10 L123.77,84.07 L124.12,84.04 L124.47,84.01 L124.82,83.97 L125.17,83.94 L125.52,83.92 L125.87,83.89 L126.22,83.86 L126.57,83.83 L126.92,83.80 L127.27,83.78 L127.62,83.75 L127.97,83.73 L128.32,83.70 L128.67,83.68 L129.02,83.65 L129.37,83.63 L129.72,83.61 L130.07,83.59 L130.42,83.57 L130.77,83.54 L131.12,83.52 L131.47,83.50 L131.82,83.48 L132.17,83.47 L132.52,83.45 L132.87,83.44 L133.22,83.43 L133.57,83.42 L133.92,83.42 L134.27,83.41 L134.62,83.41 L134.97,83.41 L135.32,83.41 L135.67,83.42 L136.02,83.42 L136.37,83.43 L136.72,83.44 L137.07,83.45 L137.42,83.46 L137.77,83.47 L138.12,83.49 L138.47,83.50 L138.82,83.54 L139.17,83.61 L139.52,83.69 L139.87,83.77 L140.22,83.86 L140.57,83.99 L140.92,84.16 L141.27,84.35 L141.62,84.55 L141.97,84.76 L142.32,84.98 L142.67,85.34 L143.02,85.85 L143.37,86.47 L143.72,87.19 L144.07,87.95 L144.42,88.75 L144.77,90.61 L145.12,93.29 L145.47,95.22 L145.82,94.79 L146.17,93.01 L146.52,92.55 L146.87,93.51 L147.22,94.56 L147.57,95.67 L147.92,96.79 L148.27,97.87 L148.62,98.88 L148.97,99.81 L149.32,100.75 L149.67,101.63 L150.02,102.42 L150.37,103.07 L150.72,103.45 L151.07,102.69 L151.42,100.99 L151.77,98.91 L152.12,97.01 L152.47,95.85 L152.82,95.44 L153.17,95.20 L153.52,95.12 L153.87,95.22 L154.22,95.55 L154.57,96.28 L154.92,97.24 L155.27,98.24 L155.62,99.08 L155.97,99.55 L156.32,99.46 L156.67,98.70 L157.02,97.51 L157.36,96.12 L157.71,94.76 L158.06,93.69 L158.41,93.13 L158.76,93.11 L159.11,93.23 L159.46,93.44 L159.81,93.70 L160.16,93.98 L160.51,94.26 L160.86,94.51 L161.21,94.69 L161.56,94.77 L161.91,94.73 L162.26,94.58 L162.61,94.39 L162.96,94.19 L163.31,93.98 L163.66,93.77 L164.01,93.57 L164.36,93.38 L164.71,93.22 L165.06,93.08 L165.41,92.96 L165.76,92.85 L166.11,92.75 L166.46,92.67 L166.81,92.61 L167.16,92.55 L167.51,92.52 L167.86,92.50 L168.21,92.53 L168.56,92.69 L168.91,92.95 L169.26,93.28 L169.61,93.63 L169.96,93.98 L170.31,94.28 L170.66,94.48 L171.01,94.50 L171.36,94.28 L171.71,93.97 L172.06,93.69 L172.41,93.58 L172.76,93.82 L173.11,94.47 L173.46,95.34 L173.81,96.25 L174.16,97.00 L174.51,97.40 L174.86,97.38 L175.21,97.06 L175.56,96.65 L175.91,96.29 L176.26,96.16 L176.61,96.42 L176.96,96.82 L177.31,97.26 L177.66,97.72 L178.01,98.20 L178.36,98.69 L178.71,99.17 L179.06,99.64 L179.41,100.09 L179.76,100.52 L180.11,100.96 L180.46,101.38 L180.81,101.75 L181.16,102.05 L181.51,102.24 L181.86,102.28 L182.21,101.50 L182.56,99.82 L182.91,97.57 L183.26,95.13 L183.61,92.84 L183.96,91.06 L184.31,89.78 L184.66,88.60 L185.01,87.64 L185.36,87.03 L185.71,86.92 L186.06,87.17 L186.41,87.52 L186.76,87.71 L187.11,87.47 L187.46,86.72 L187.81,85.75 L188.16,84.87 L188.51,84.40 L188.86,84.43 L189.21,84.76 L189.56,85.23 L189.91,85.68 L190.26,85.97 L190.61,85.95 L190.96,85.54 L191.31,84.97 L191.66,84.50 L192.01,84.40 L192.35,84.61 L192.70,84.87 L193.05,85.18 L193.40,85.54 L193.75,85.94 L194.10,86.38 L194.45,86.84 L194.80,87.32 L195.15,87.84 L195.50,88.47 L195.85,89.18 L196.20,89.93 L196.55,90.65 L196.90,91.28 L197.25,91.77 L197.60,92.06 L197.95,92.15 L198.30,92.08 L198.65,91.92 L199.00,91.71 L199.35,91.52 L199.70,91.40 L200.05,91.41 L200.40,91.51 L200.75,91.66 L201.10,91.84 L201.45,92.03 L201.80,92.21 L202.15,92.36 L202.50,92.47 L202.85,92.51 L203.20,92.47 L203.55,92.39 L203.90,92.27 L204.25,92.12 L204.60,91.93 L204.95,91.71 L205.30,91.47 L205.65,91.19 L206.00,90.90 L206.35,90.59 L206.70,90.26 L207.05,89.93 L207.40,89.58 L207.75,89.21 L208.10,88.83 L208.45,88.43 L208.80,88.01 L209.15,87.56 L209.50,87.10" fill="none" stroke="#30b885" stroke-width="1.1" stroke-linejoin="round"/>
<path d="M34.90,71.70 L35.25,71.63 L35.60,71.57 L35.95,71.50 L36.30,71.43 L36.65,71.37 L37.00,71.31 L37.35,71.25 L37.70,71.19 L38.05,71.14 L38.40,71.08 L38.75,71.03 L39.10,70.99 L39.45,70.95 L39.80,70.91 L40.15,70.87 L40.50,70.84 L40.85,70.82 L41.20,70.79 L41.55,70.78 L41.90,70.77 L42.25,70.76 L42.60,70.76 L42.95,70.77 L43.30,70.78 L43.65,70.81 L44.00,70.83 L44.35,70.87 L44.70,70.91 L45.05,70.96 L45.40,71.02 L45.75,71.08 L46.10,71.16 L46.45,71.24 L46.80,71.33 L47.15,71.44 L47.50,71.55 L47.85,71.67 L48.20,71.80 L48.55,71.94 L48.90,72.10 L49.25,72.26 L49.60,72.43 L49.95,72.62 L50.30,72.82 L50.65,73.03 L51.00,73.24 L51.35,73.46 L51.70,73.68 L52.05,73.90 L52.39,74.12 L52.74,74.34 L53.09,74.56 L53.44,74.78 L53.79,75.01 L54.14,75.23 L54.49,75.46 L54.84,75.68 L55.19,75.91 L55.54,76.14 L55.89,76.37 L56.24,76.59 L56.59,76.82 L56.94,77.05 L57.29,77.28 L57.64,77.52 L57.99,77.75 L58.34,77.98 L58.69,78.21 L59.04,78.45 L59.39,78.68 L59.74,78.91 L60.09,79.14 L60.44,79.37 L60.79,79.60 L61.14,79.83 L61.49,80.06 L61.84,80.29 L62.19,80.52 L62.54,80.75 L62.89,80.97 L63.24,81.19 L63.59,81.41 L63.94,81.63 L64.29,81.83 L64.64,82.03 L64.99,82.23 L65.34,82.41 L65.69,82.59 L66.04,82.76 L66.39,82.91 L66.74,83.06 L67.09,83.19 L67.44,83.31 L67.79,83.42 L68.14,83.51 L68.49,83.58 L68.84,83.64 L69.19,83.68 L69.54,83.70 L69.89,83.70 L70.24,83.68 L70.59,83.64 L70.94,83.58 L71.29,83.51 L71.64,83.42 L71.99,83.32 L72.34,83.21 L72.69,83.09 L73.04,82.96 L73.39,82.82 L73.74,82.69 L74.09,82.55 L74.44,82.41 L74.79,82.27 L75.14,82.13 L75.49,82.00 L75.84,81.87 L76.19,81.73 L76.54,81.59 L76.89,81.43 L77.24,81.28 L77.59,81.11 L77.94,80.94 L78.29,80.77 L78.64,80.60 L78.99,80.43 L79.34,80.26 L79.69,80.08 L80.04,79.91 L80.39,79.75 L80.74,79.59 L81.09,79.43 L81.44,79.28 L81.79,79.13 L82.14,79.00 L82.49,78.87 L82.84,78.85 L83.19,78.95 L83.54,79.15 L83.89,79.42 L84.24,79.74 L84.59,80.09 L84.94,80.44 L85.29,80.77 L85.64,81.05 L85.99,81.27 L86.34,81.40 L86.69,81.41 L87.04,81.28 L87.38,81.04 L87.73,80.72 L88.08,80.35 L88.43,79.95 L88.78,79.55 L89.13,79.16 L89.48,78.80 L89.83,78.51 L90.18,78.29 L90.53,78.07 L90.88,77.86 L91.23,77.64 L91.58,77.43 L91.93,77.22 L92.28,77.01 L92.63,76.81 L92.98,76.62 L93.33,76.43 L93.68,76.25 L94.03,76.08 L94.38,75.92 L94.73,75.75 L95.08,75.58 L95.43,75.42 L95.78,75.27 L96.13,75.13 L96.48,75.01 L96.83,74.92 L97.18,74.84 L97.53,74.76 L97.88,74.68 L98.23,74.61 L98.58,74.54 L98.93,74.47 L99.28,74.40 L99.63,74.33 L99.98,74.26 L100.33,74.20 L100.68,74.14 L101.03,74.07 L101.38,74.01 L101.73,73.95 L102.08,73.89 L102.43,73.83 L102.78,73.77 L103.13,73.71 L103.48,73.65 L103.83,73.59 L104.18,73.54 L104.53,73.48 L104.88,73.42 L105.23,73.36 L105.58,73.30 L105.93,73.24 L106.28,73.18 L106.63,73.12 L106.98,73.06 L107.33,73.00 L107.68,72.94 L108.03,72.88 L108.38,72.82 L108.73,72.76 L109.08,72.70 L109.43,72.65 L109.78,72.59 L110.13,72.53 L110.48,72.48 L110.83,72.42 L111.18,72.36 L111.53,72.31 L111.88,72.25 L112.23,72.20 L112.58,72.15 L112.93,72.10 L113.28,72.04 L113.63,71.99 L113.98,71.95 L114.33,71.90 L114.68,71.85 L115.03,71.80 L115.38,71.76 L115.73,71.71 L116.08,71.67 L116.43,71.63 L116.78,71.59 L117.13,71.55 L117.48,71.51 L117.83,71.48 L118.18,71.44 L118.53,71.42 L118.88,71.39 L119.23,71.37 L119.58,71.35 L119.93,71.33 L120.28,71.32 L120.63,71.31 L120.98,71.30 L121.33,71.30 L121.68,71.29 L122.03,71.29 L122.37,71.29 L122.72,71.30 L123.07,71.30 L123.42,71.31 L123.77,71.32 L124.12,71.33 L124.47,71.35 L124.82,71.36 L125.17,71.38 L125.52,71.40 L125.87,71.42 L126.22,71.44 L126.57,71.46 L126.92,71.48 L127.27,71.50 L127.62,71.52 L127.97,71.55 L128.32,71.57 L128.67,71.60 L129.02,71.62 L129.37,71.65 L129.72,71.67 L130.07,71.70 L130.42,71.72 L130.77,71.75 L131.12,71.77 L131.47,71.80 L131.82,71.82 L132.17,71.85 L132.52,71.89 L132.87,71.92 L133.22,71.96 L133.57,72.00 L133.92,72.04 L134.27,72.09 L134.62,72.13 L134.97,72.18 L135.32,72.23 L135.67,72.27 L136.02,72.32 L136.37,72.37 L136.72,72.41 L137.07,72.46 L137.42,72.50 L137.77,72.54 L138.12,72.57 L138.47,72.60 L138.82,72.58 L139.17,72.52 L139.52,72.47 L139.87,72.47 L140.22,72.57 L140.57,72.72 L140.92,72.92 L141.27,73.15 L141.62,73.39 L141.97,73.64 L142.32,73.88 L142.67,74.10 L143.02,74.31 L143.37,74.54 L143.72,74.81 L144.07,75.13 L144.42,75.52 L144.77,75.98 L145.12,76.46 L145.47,76.96 L145.82,77.48 L146.17,78.00 L146.52,78.53 L146.87,79.05 L147.22,79.57 L147.57,80.10 L147.92,80.63 L148.27,81.15 L148.62,81.68 L148.97,82.20 L149.32,82.72 L149.67,83.23 L150.02,83.72 L150.37,84.20 L150.72,84.59 L151.07,84.25 L151.42,83.27 L151.77,82.02 L152.12,80.86 L152.47,80.13 L152.82,79.86 L153.17,79.67 L153.52,79.57 L153.87,79.57 L154.22,79.71 L154.57,80.09 L154.92,80.59 L155.27,81.12 L155.62,81.56 L155.97,81.79 L156.32,81.69 L156.67,81.23 L157.02,80.52 L157.36,79.71 L157.71,78.93 L158.06,78.32 L158.41,78.01 L158.76,78.01 L159.11,78.05 L159.46,78.11 L159.81,78.18 L160.16,78.26 L160.51,78.33 L160.86,78.41 L161.21,78.46 L161.56,78.50 L161.91,78.50 L162.26,78.48 L162.61,78.46 L162.96,78.43 L163.31,78.40 L163.66,78.37 L164.01,78.34 L164.36,78.30 L164.71,78.27 L165.06,78.23 L165.41,78.20 L165.76,78.16 L166.11,78.13 L166.46,78.10 L166.81,78.07 L167.16,78.04 L167.51,78.02 L167.86,78.01 L168.21,78.00 L168.56,78.04 L168.91,78.10 L169.26,78.19 L169.61,78.28 L169.96,78.38 L170.31,78.45 L170.66,78.50 L171.01,78.39 L171.36,78.03 L171.71,77.57 L172.06,77.15 L172.41,76.91 L172.76,77.02 L173.11,77.47 L173.46,78.12 L173.81,78.79 L174.16,79.34 L174.51,79.60 L174.86,79.57 L175.21,79.39 L175.56,79.16 L175.91,78.97 L176.26,78.92 L176.61,79.07 L176.96,79.29 L177.31,79.53 L177.66,79.78 L178.01,80.04 L178.36,80.31 L178.71,80.58 L179.06,80.86 L179.41,81.13 L179.76,81.42 L180.11,81.77 L180.46,82.15 L180.81,82.54 L181.16,82.90 L181.51,83.21 L181.86,83.42 L182.21,82.96 L182.56,81.77 L182.91,80.16 L183.26,78.44 L183.61,76.91 L183.96,75.88 L184.31,75.31 L184.66,74.80 L185.01,74.37 L185.36,74.06 L185.71,73.80 L186.06,73.55 L186.41,73.32 L186.76,73.11 L187.11,72.93 L187.46,72.77 L187.81,72.64 L188.16,72.55 L188.51,72.50 L188.86,72.57 L189.21,72.78 L189.56,73.07 L189.91,73.35 L190.26,73.55 L190.61,73.58 L190.96,73.30 L191.31,72.88 L191.66,72.53 L192.01,72.50 L192.35,72.71 L192.70,72.94 L193.05,73.18 L193.40,73.43 L193.75,73.69 L194.10,73.97 L194.45,74.25 L194.80,74.54 L195.15,74.83 L195.50,75.14 L195.85,75.45 L196.20,75.77 L196.55,76.09 L196.90,76.40 L197.25,76.70 L197.60,76.98 L197.95,77.23 L198.30,77.45 L198.65,77.63 L199.00,77.78 L199.35,77.89 L199.70,77.96 L200.05,78.00 L200.40,78.01 L200.75,78.00 L201.10,77.96 L201.45,77.90 L201.80,77.82 L202.15,77.72 L202.50,77.60 L202.85,77.46 L203.20,77.31 L203.55,77.15 L203.90,76.99 L204.25,76.82 L204.60,76.64 L204.95,76.45 L205.30,76.25 L205.65,76.03 L206.00,75.80 L206.35,75.56 L206.70,75.31 L207.05,75.05 L207.40,74.78 L207.75,74.51 L208.10,74.23 L208.45,73.93 L208.80,73.63 L209.15,73.32 L209.50,73.00" fill="none" stroke="#dc76f2" stroke-width="1.1" stroke-linejoin="round"/>
<path d="M34.90,53.70 L35.25,53.65 L35.60,53.61 L35.95,53.57 L36.30,53.54 L36.65,53.51 L37.00,53.50 L37.35,53.48 L37.70,53.48 L38.05,53.48 L38.40,53.49 L38.75,53.50 L39.10,53.52 L39.45,53.55 L39.80,53.58 L40.15,53.62 L40.50,53.66 L40.85,53.71 L41.20,53.77 L41.55,53.83 L41.90,53.89 L42.25,53.96 L42.60,54.04 L42.95,54.12 L43.30,54.21 L43.65,54.30 L44.00,54.40 L44.35,54.50 L44.70,54.60 L45.05,54.72 L45.40,54.83 L45.75,54.96 L46.10,55.09 L46.45,55.23 L46.80,55.39 L47.15,55.55 L47.50,55.73 L47.85,55.93 L48.20,56.14 L48.55,56.36 L48.90,56.61 L49.25,56.87 L49.60,57.16 L49.95,57.46 L50.30,57.79 L50.65,58.15 L51.00,58.53 L51.35,58.93 L51.70,59.35 L52.05,59.78 L52.39,60.23 L52.74,60.69 L53.09,61.16 L53.44,61.63 L53.79,62.10 L54.14,62.56 L54.49,63.03 L54.84,63.48 L55.19,63.93 L55.54,64.35 L55.89,64.77 L56.24,65.16 L56.59,65.54 L56.94,65.92 L57.29,66.30 L57.64,66.67 L57.99,67.03 L58.34,67.39 L58.69,67.75 L59.04,68.10 L59.39,68.44 L59.74,68.78 L60.09,69.12 L60.44,69.45 L60.79,69.77 L61.14,70.10 L61.49,70.41 L61.84,70.73 L62.19,71.03 L62.54,71.34 L62.89,71.63 L63.24,71.91 L63.59,72.19 L63.94,72.45 L64.29,72.70 L64.64,72.94 L64.99,73.17 L65.34,73.38 L65.69,73.58 L66.04,73.75 L66.39,73.92 L66.74,74.06 L67.09,74.18 L67.44,74.29 L67.79,74.37 L68.14,74.43 L68.49,74.47 L68.84,74.48 L69.19,74.47 L69.54,74.43 L69.89,74.36 L70.24,74.27 L70.59,74.16 L70.94,74.02 L71.29,73.87 L71.64,73.69 L71.99,73.51 L72.34,73.31 L72.69,73.10 L73.04,72.88 L73.39,72.66 L73.74,72.43 L74.09,72.20 L74.44,71.97 L74.79,71.75 L75.14,71.52 L75.49,71.31 L75.84,71.09 L76.19,70.85 L76.54,70.60 L76.89,70.33 L77.24,70.05 L77.59,69.76 L77.94,69.47 L78.29,69.16 L78.64,68.86 L78.99,68.54 L79.34,68.23 L79.69,67.92 L80.04,67.61 L80.39,67.30 L80.74,67.00 L81.09,66.71 L81.44,66.42 L81.79,66.15 L82.14,65.89 L82.49,65.65 L82.84,65.72 L83.19,66.15 L83.54,66.87 L83.89,67.79 L84.24,68.86 L84.59,69.98 L84.94,71.10 L85.29,72.13 L85.64,73.00 L85.99,73.64 L86.34,73.97 L86.69,73.72 L87.04,72.11 L87.38,69.85 L87.73,67.87 L88.08,67.04 L88.43,67.30 L88.78,68.14 L89.13,69.15 L89.48,69.94 L89.83,70.13 L90.18,69.44 L90.53,68.27 L90.88,66.89 L91.23,65.49 L91.58,64.23 L91.93,63.32 L92.28,62.73 L92.63,62.15 L92.98,61.61 L93.33,61.13 L93.68,60.75 L94.03,60.48 L94.38,60.27 L94.73,60.06 L95.08,59.85 L95.43,59.66 L95.78,59.47 L96.13,59.30 L96.48,59.15 L96.83,59.02 L97.18,58.91 L97.53,58.80 L97.88,58.69 L98.23,58.58 L98.58,58.47 L98.93,58.36 L99.28,58.25 L99.63,58.14 L99.98,58.03 L100.33,57.92 L100.68,57.82 L101.03,57.72 L101.38,57.62 L101.73,57.52 L102.08,57.43 L102.43,57.33 L102.78,57.24 L103.13,57.16 L103.48,57.07 L103.83,56.99 L104.18,56.92 L104.53,56.84 L104.88,56.76 L105.23,56.69 L105.58,56.61 L105.93,56.54 L106.28,56.46 L106.63,56.39 L106.98,56.32 L107.33,56.25 L107.68,56.18 L108.03,56.11 L108.38,56.04 L108.73,55.98 L109.08,55.91 L109.43,55.85 L109.78,55.78 L110.13,55.72 L110.48,55.66 L110.83,55.59 L111.18,55.53 L111.53,55.47 L111.88,55.42 L112.23,55.36 L112.58,55.30 L112.93,55.25 L113.28,55.19 L113.63,55.14 L113.98,55.09 L114.33,55.03 L114.68,54.98 L115.03,54.93 L115.38,54.88 L115.73,54.84 L116.08,54.79 L116.43,54.74 L116.78,54.70 L117.13,54.66 L117.48,54.61 L117.83,54.57 L118.18,54.54 L118.53,54.50 L118.88,54.47 L119.23,54.44 L119.58,54.41 L119.93,54.39 L120.28,54.36 L120.63,54.34 L120.98,54.33 L121.33,54.31 L121.68,54.30 L122.03,54.29 L122.37,54.28 L122.72,54.27 L123.07,54.27 L123.42,54.27 L123.77,54.27 L124.12,54.27 L124.47,54.27 L124.82,54.28 L125.17,54.28 L125.52,54.29 L125.87,54.30 L126.22,54.31 L126.57,54.32 L126.92,54.34 L127.27,54.35 L127.62,54.37 L127.97,54.38 L128.32,54.40 L128.67,54.42 L129.02,54.44 L129.37,54.46 L129.72,54.48 L130.07,54.50 L130.42,54.53 L130.77,54.55 L131.12,54.57 L131.47,54.60 L131.82,54.63 L132.17,54.68 L132.52,54.74 L132.87,54.81 L133.22,54.89 L133.57,54.98 L133.92,55.08 L134.27,55.19 L134.62,55.30 L134.97,55.41 L135.32,55.52 L135.67,55.63 L136.02,55.74 L136.37,55.85 L136.72,55.95 L137.07,56.04 L137.42,56.12 L137.77,56.20 L138.12,56.26 L138.47,56.31 L138.82,56.28 L139.17,56.19 L139.52,56.08 L139.87,56.01 L140.22,56.01 L140.57,56.10 L140.92,56.25 L141.27,56.44 L141.62,56.65 L141.97,56.86 L142.32,57.08 L142.67,57.41 L143.02,57.88 L143.37,58.46 L143.72,59.11 L144.07,59.82 L144.42,60.54 L144.77,62.81 L145.12,66.27 L145.47,68.62 L145.82,67.53 L146.17,64.43 L146.52,63.24 L146.87,64.07 L147.22,64.95 L147.57,65.89 L147.92,66.87 L148.27,67.89 L148.62,68.95 L148.97,70.09 L149.32,71.41 L149.67,72.77 L150.02,74.08 L150.37,75.20 L150.72,75.94 L151.07,75.08 L151.42,72.92 L151.77,70.20 L152.12,67.67 L152.47,66.08 L152.82,65.44 L153.17,65.01 L153.52,64.80 L153.87,64.83 L154.22,65.19 L154.57,66.13 L154.92,67.43 L155.27,68.82 L155.62,70.02 L155.97,70.78 L156.32,70.76 L156.67,69.69 L157.02,67.92 L157.36,65.83 L157.71,63.83 L158.06,62.28 L158.41,61.59 L158.76,62.02 L159.11,63.16 L159.46,64.44 L159.81,65.30 L160.16,65.33 L160.51,65.13 L160.86,64.89 L161.21,64.66 L161.56,64.45 L161.91,64.32 L162.26,64.26 L162.61,64.20 L162.96,64.14 L163.31,64.08 L163.66,64.03 L164.01,63.97 L164.36,63.91 L164.71,63.85 L165.06,63.79 L165.41,63.72 L165.76,63.65 L166.11,63.58 L166.46,63.51 L166.81,63.44 L167.16,63.36 L167.51,63.29 L167.86,63.23 L168.21,63.20 L168.56,63.36 L168.91,63.66 L169.26,64.05 L169.61,64.48 L169.96,64.90 L170.31,65.25 L170.66,65.48 L171.01,65.45 L171.36,65.09 L171.71,64.59 L172.06,64.16 L172.41,63.98 L172.76,64.25 L173.11,64.94 L173.46,65.85 L173.81,66.80 L174.16,67.58 L174.51,68.01 L174.86,68.04 L175.21,67.87 L175.56,67.62 L175.91,67.43 L176.26,67.43 L176.61,67.72 L176.96,68.13 L177.31,68.56 L177.66,69.00 L178.01,69.47 L178.36,69.93 L178.71,70.39 L179.06,70.85 L179.41,71.29 L179.76,71.71 L180.11,72.14 L180.46,72.54 L180.81,72.91 L181.16,73.22 L181.51,73.47 L181.86,73.60 L182.21,72.82 L182.56,71.02 L182.91,68.60 L183.26,65.98 L183.61,63.56 L183.96,61.76 L184.31,60.56 L184.66,59.53 L185.01,58.73 L185.36,58.25 L185.71,58.29 L186.06,58.69 L186.41,59.18 L186.76,59.47 L187.11,59.27 L187.46,58.40 L187.81,57.22 L188.16,56.14 L188.51,55.60 L188.86,55.65 L189.21,55.99 L189.56,56.46 L189.91,56.92 L190.26,57.19 L190.61,57.14 L190.96,56.74 L191.31,56.19 L191.66,55.73 L192.01,55.60 L192.35,55.73 L192.70,55.91 L193.05,56.15 L193.40,56.44 L193.75,56.77 L194.10,57.15 L194.45,57.57 L194.80,58.03 L195.15,58.53 L195.50,59.14 L195.85,59.82 L196.20,60.53 L196.55,61.23 L196.90,61.87 L197.25,62.41 L197.60,62.80 L197.95,63.10 L198.30,63.35 L198.65,63.54 L199.00,63.68 L199.35,63.77 L199.70,63.80 L200.05,63.80 L200.40,63.77 L200.75,63.74 L201.10,63.70 L201.45,63.65 L201.80,63.58 L202.15,63.50 L202.50,63.39 L202.85,63.26 L203.20,63.11 L203.55,62.95 L203.90,62.79 L204.25,62.61 L204.60,62.43 L204.95,62.24 L205.30,62.04 L205.65,61.83 L206.00,61.60 L206.35,61.36 L206.70,61.12 L207.05,60.87 L207.40,60.61 L207.75,60.35 L208.10,60.07 L208.45,59.79 L208.80,59.50 L209.15,59.21 L209.50,58.90" fill="none" stroke="#eea526" stroke-width="1.1" stroke-linejoin="round"/>
<path d="M34.90,40.40 L35.25,40.37 L35.60,40.35 L35.95,40.33 L36.30,40.32 L36.65,40.31 L37.00,40.31 L37.35,40.31 L37.70,40.32 L38.05,40.34 L38.40,40.35 L38.75,40.38 L39.10,40.40 L39.45,40.43 L39.80,40.47 L40.15,40.51 L40.50,40.55 L40.85,40.60 L41.20,40.66 L41.55,40.72 L41.90,40.78 L42.25,40.84 L42.60,40.91 L42.95,40.99 L43.30,41.07 L43.65,41.15 L44.00,41.23 L44.35,41.32 L44.70,41.42 L45.05,41.51 L45.40,41.61 L45.75,41.72 L46.10,41.83 L46.45,41.94 L46.80,42.07 L47.15,42.20 L47.50,42.35 L47.85,42.50 L48.20,42.67 L48.55,42.86 L48.90,43.06 L49.25,43.27 L49.60,43.51 L49.95,43.76 L50.30,44.04 L50.65,44.34 L51.00,44.66 L51.35,44.98 L51.70,45.32 L52.05,45.67 L52.39,46.02 L52.74,46.38 L53.09,46.74 L53.44,47.11 L53.79,47.47 L54.14,47.84 L54.49,48.20 L54.84,48.56 L55.19,48.92 L55.54,49.27 L55.89,49.60 L56.24,49.94 L56.59,50.26 L56.94,50.59 L57.29,50.91 L57.64,51.23 L57.99,51.54 L58.34,51.85 L58.69,52.16 L59.04,52.47 L59.39,52.78 L59.74,53.08 L60.09,53.37 L60.44,53.67 L60.79,53.96 L61.14,54.25 L61.49,54.53 L61.84,54.81 L62.19,55.09 L62.54,55.36 L62.89,55.62 L63.24,55.87 L63.59,56.11 L63.94,56.33 L64.29,56.55 L64.64,56.75 L64.99,56.94 L65.34,57.10 L65.69,57.26 L66.04,57.39 L66.39,57.50 L66.74,57.60 L67.09,57.67 L67.44,57.72 L67.79,57.74 L68.14,57.74 L68.49,57.71 L68.84,57.66 L69.19,57.58 L69.54,57.46 L69.89,57.32 L70.24,57.18 L70.59,57.02 L70.94,56.87 L71.29,56.71 L71.64,56.55 L71.99,56.39 L72.34,56.23 L72.69,56.06 L73.04,55.90 L73.39,55.73 L73.74,55.56 L74.09,55.39 L74.44,55.22 L74.79,55.05 L75.14,54.88 L75.49,54.71 L75.84,54.54 L76.19,54.36 L76.54,54.19 L76.89,54.01 L77.24,53.84 L77.59,53.66 L77.94,53.48 L78.29,53.30 L78.64,53.12 L78.99,52.94 L79.34,52.75 L79.69,52.57 L80.04,52.39 L80.39,52.21 L80.74,52.03 L81.09,51.86 L81.44,51.68 L81.79,51.50 L82.14,51.33 L82.49,51.16 L82.84,51.10 L83.19,51.18 L83.54,51.36 L83.89,51.62 L84.24,51.94 L84.59,52.30 L84.94,52.67 L85.29,53.02 L85.64,53.34 L85.99,53.60 L86.34,53.78 L86.69,53.85 L87.04,53.78 L87.38,53.53 L87.73,52.97 L88.08,52.19 L88.43,51.34 L88.78,50.55 L89.13,49.97 L89.48,49.66 L89.83,49.40 L90.18,49.13 L90.53,48.87 L90.88,48.61 L91.23,48.35 L91.58,48.10 L91.93,47.84 L92.28,47.59 L92.63,47.34 L92.98,47.10 L93.33,46.85 L93.68,46.61 L94.03,46.38 L94.38,46.14 L94.73,45.90 L95.08,45.66 L95.43,45.43 L95.78,45.19 L96.13,44.97 L96.48,44.75 L96.83,44.54 L97.18,44.34 L97.53,44.16 L97.88,43.98 L98.23,43.82 L98.58,43.67 L98.93,43.52 L99.28,43.39 L99.63,43.26 L99.98,43.14 L100.33,43.03 L100.68,42.93 L101.03,42.83 L101.38,42.74 L101.73,42.65 L102.08,42.56 L102.43,42.48 L102.78,42.41 L103.13,42.33 L103.48,42.26 L103.83,42.19 L104.18,42.13 L104.53,42.06 L104.88,41.99 L105.23,41.92 L105.58,41.86 L105.93,41.80 L106.28,41.73 L106.63,41.67 L106.98,41.61 L107.33,41.55 L107.68,41.49 L108.03,41.43 L108.38,41.38 L108.73,41.32 L109.08,41.27 L109.43,41.22 L109.78,41.17 L110.13,41.12 L110.48,41.07 L110.83,41.02 L111.18,40.97 L111.53,40.93 L111.88,40.89 L112.23,40.84 L112.58,40.80 L112.93,40.76 L113.28,40.73 L113.63,40.69 L113.98,40.66 L114.33,40.62 L114.68,40.59 L115.03,40.56 L115.38,40.54 L115.73,40.51 L116.08,40.49 L116.43,40.46 L116.78,40.44 L117.13,40.42 L117.48,40.41 L117.83,40.39 L118.18,40.37 L118.53,40.36 L118.88,40.34 L119.23,40.33 L119.58,40.31 L119.93,40.30 L120.28,40.28 L120.63,40.27 L120.98,40.26 L121.33,40.24 L121.68,40.23 L122.03,40.22 L122.37,40.22 L122.72,40.21 L123.07,40.20 L123.42,40.20 L123.77,40.20 L124.12,40.19 L124.47,40.20 L124.82,40.20 L125.17,40.20 L125.52,40.21 L125.87,40.22 L126.22,40.23 L126.57,40.25 L126.92,40.27 L127.27,40.29 L127.62,40.31 L127.97,40.34 L128.32,40.37 L128.67,40.40 L129.02,40.44 L129.37,40.48 L129.72,40.52 L130.07,40.57 L130.42,40.62 L130.77,40.67 L131.12,40.73 L131.47,40.79 L131.82,40.86 L132.17,40.93 L132.52,41.00 L132.87,41.07 L133.22,41.14 L133.57,41.21 L133.92,41.28 L134.27,41.35 L134.62,41.42 L134.97,41.49 L135.32,41.57 L135.67,41.64 L136.02,41.71 L136.37,41.79 L136.72,41.86 L137.07,41.93 L137.42,42.00 L137.77,42.07 L138.12,42.14 L138.47,42.21 L138.82,42.28 L139.17,42.35 L139.52,42.41 L139.87,42.47 L140.22,42.55 L140.57,42.68 L140.92,42.87 L141.27,43.11 L141.62,43.40 L141.97,43.74 L142.32,44.14 L142.67,44.59 L143.02,45.10 L143.37,45.65 L143.72,46.24 L144.07,46.87 L144.42,47.54 L144.77,48.24 L145.12,48.98 L145.47,49.74 L145.82,50.48 L146.17,51.19 L146.52,51.83 L146.87,52.44 L147.22,53.04 L147.57,53.65 L147.92,54.25 L148.27,54.85 L148.62,55.46 L148.97,56.06 L149.32,56.67 L149.67,57.28 L150.02,57.89 L150.37,58.50 L150.72,59.01 L151.07,58.39 L151.42,56.79 L151.77,54.79 L152.12,52.95 L152.47,51.85 L152.82,51.48 L153.17,51.27 L153.52,51.22 L153.87,51.34 L154.22,51.70 L154.57,52.28 L154.92,52.96 L155.27,53.62 L155.62,54.16 L155.97,54.47 L156.32,54.38 L156.67,53.71 L157.02,52.67 L157.36,51.47 L157.71,50.32 L158.06,49.46 L158.41,49.09 L158.76,49.25 L159.11,49.53 L159.46,49.85 L159.81,50.11 L160.16,50.26 L160.51,50.41 L160.86,50.57 L161.21,50.69 L161.56,50.75 L161.91,50.72 L162.26,50.60 L162.61,50.44 L162.96,50.26 L163.31,50.06 L163.66,49.84 L164.01,49.63 L164.36,49.43 L164.71,49.24 L165.06,49.07 L165.41,48.92 L165.76,48.77 L166.11,48.63 L166.46,48.50 L166.81,48.38 L167.16,48.26 L167.51,48.14 L167.86,48.04 L168.21,47.97 L168.56,48.01 L168.91,48.15 L169.26,48.35 L169.61,48.58 L169.96,48.81 L170.31,48.99 L170.66,49.09 L171.01,48.99 L171.36,48.60 L171.71,48.09 L172.06,47.63 L172.41,47.40 L172.76,47.60 L173.11,48.29 L173.46,49.25 L173.81,50.25 L174.16,51.08 L174.51,51.50 L174.86,51.50 L175.21,51.25 L175.56,50.92 L175.91,50.64 L176.26,50.56 L176.61,50.81 L176.96,51.19 L177.31,51.62 L177.66,52.07 L178.01,52.55 L178.36,53.03 L178.71,53.50 L179.06,53.96 L179.41,54.39 L179.76,54.80 L180.11,55.20 L180.46,55.58 L180.81,55.89 L181.16,56.12 L181.51,56.22 L181.86,56.17 L182.21,55.35 L182.56,53.71 L182.91,51.57 L183.26,49.27 L183.61,47.12 L183.96,45.45 L184.31,44.27 L184.66,43.22 L185.01,42.41 L185.36,41.96 L185.71,42.07 L186.06,42.59 L186.41,43.20 L186.76,43.61 L187.11,43.50 L187.46,42.87 L187.81,42.02 L188.16,41.26 L188.51,40.90 L188.86,40.95 L189.21,41.19 L189.56,41.50 L189.91,41.80 L190.26,41.99 L190.61,41.96 L190.96,41.64 L191.31,41.21 L191.66,40.89 L192.01,40.90 L192.35,41.16 L192.70,41.44 L193.05,41.73 L193.40,42.04 L193.75,42.37 L194.10,42.70 L194.45,43.05 L194.80,43.40 L195.15,43.76 L195.50,44.14 L195.85,44.55 L196.20,44.95 L196.55,45.35 L196.90,45.73 L197.25,46.08 L197.60,46.38 L197.95,46.61 L198.30,46.77 L198.65,46.87 L199.00,46.92 L199.35,46.93 L199.70,46.92 L200.05,46.90 L200.40,46.87 L200.75,46.83 L201.10,46.78 L201.45,46.72 L201.80,46.65 L202.15,46.57 L202.50,46.47 L202.85,46.35 L203.20,46.22 L203.55,46.08 L203.90,45.92 L204.25,45.76 L204.60,45.58 L204.95,45.38 L205.30,45.17 L205.65,44.94 L206.00,44.70 L206.35,44.44 L206.70,44.16 L207.05,43.87 L207.40,43.56 L207.75,43.24 L208.10,42.90 L208.45,42.54 L208.80,42.18 L209.15,41.80 L209.50,41.40" fill="none" stroke="#22d0e4" stroke-width="1.1" stroke-linejoin="round"/>
<line x1="70.00" y1="143.80" x2="72.80" y2="146.00" stroke="#222" stroke-width="0.7"/>
<path d="M70.00,143.80 L71.02,145.74 L72.13,144.33Z" fill="#222"/>
<text x="73.00" y="148.60" font-size="5.3" text-anchor="start" fill="#1a1a1a" stroke="#1a1a1a" stroke-width="0.1">3289</text>
<line x1="150.10" y1="147.70" x2="147.20" y2="149.60" stroke="#222" stroke-width="0.7"/>
<path d="M150.10,147.70 L147.93,148.04 L148.92,149.55Z" fill="#222"/>
<text x="142.60" y="154.80" font-size="5.3" text-anchor="middle" fill="#1a1a1a" stroke="#1a1a1a" stroke-width="0.1">1645</text>
<line x1="156.00" y1="144.20" x2="159.60" y2="147.00" stroke="#222" stroke-width="0.7"/>
<path d="M156.00,144.20 L157.03,146.14 L158.13,144.72Z" fill="#222"/>
<text x="162.80" y="151.90" font-size="5.3" text-anchor="middle" fill="#1a1a1a" stroke="#1a1a1a" stroke-width="0.1">1539</text>
<line x1="171.30" y1="138.50" x2="174.00" y2="140.40" stroke="#222" stroke-width="0.7"/>
<path d="M171.30,138.50 L172.42,140.39 L173.45,138.91Z" fill="#222"/>
<text x="176.30" y="145.50" font-size="5.3" text-anchor="middle" fill="#1a1a1a" stroke="#1a1a1a" stroke-width="0.1">1240</text>
<rect x="250.30" y="16.50" width="175.70" height="141.80" fill="none" stroke="#161616" stroke-width="1.35"/>
<line x1="250.30" y1="158.30" x2="247.50" y2="158.30" stroke="#161616" stroke-width="1.05"/>
<text x="245.60" y="161.50" font-size="9.2" text-anchor="end" fill="#1a1a1a" stroke="#1a1a1a" stroke-width="0.414">0</text>
<line x1="250.30" y1="146.48" x2="248.70" y2="146.48" stroke="#161616" stroke-width="1.05"/>
<line x1="250.30" y1="134.67" x2="247.50" y2="134.67" stroke="#161616" stroke-width="1.05"/>
<text x="245.60" y="137.87" font-size="9.2" text-anchor="end" fill="#1a1a1a" stroke="#1a1a1a" stroke-width="0.414">20</text>
<line x1="250.30" y1="122.85" x2="248.70" y2="122.85" stroke="#161616" stroke-width="1.05"/>
<line x1="250.30" y1="111.03" x2="247.50" y2="111.03" stroke="#161616" stroke-width="1.05"/>
<text x="245.60" y="114.23" font-size="9.2" text-anchor="end" fill="#1a1a1a" stroke="#1a1a1a" stroke-width="0.414">40</text>
<line x1="250.30" y1="99.22" x2="248.70" y2="99.22" stroke="#161616" stroke-width="1.05"/>
<line x1="250.30" y1="87.40" x2="247.50" y2="87.40" stroke="#161616" stroke-width="1.05"/>
<text x="245.60" y="90.60" font-size="9.2" text-anchor="end" fill="#1a1a1a" stroke="#1a1a1a" stroke-width="0.414">60</text>
<line x1="250.30" y1="75.58" x2="248.70" y2="75.58" stroke="#161616" stroke-width="1.05"/>
<line x1="250.30" y1="63.77" x2="247.50" y2="63.77" stroke="#161616" stroke-width="1.05"/>
<text x="245.60" y="66.97" font-size="9.2" text-anchor="end" fill="#1a1a1a" stroke="#1a1a1a" stroke-width="0.414">80</text>
<line x1="250.30" y1="51.95" x2="248.70" y2="51.95" stroke="#161616" stroke-width="1.05"/>
<line x1="250.30" y1="40.13" x2="247.50" y2="40.13" stroke="#161616" stroke-width="1.05"/>
<text x="245.60" y="43.33" font-size="9.2" text-anchor="end" fill="#1a1a1a" stroke="#1a1a1a" stroke-width="0.414">100</text>
<line x1="250.30" y1="28.32" x2="248.70" y2="28.32" stroke="#161616" stroke-width="1.05"/>
<line x1="250.30" y1="16.50" x2="247.50" y2="16.50" stroke="#161616" stroke-width="1.05"/>
<text x="245.60" y="19.70" font-size="9.2" text-anchor="end" fill="#1a1a1a" stroke="#1a1a1a" stroke-width="0.414">120</text>
<text x="226.50" y="86.40" font-size="10.0" text-anchor="middle" fill="#1a1a1a" stroke="#1a1a1a" stroke-width="0.45" transform="rotate(-90 226.50 86.40)">Secondary structure content(%)</text>
<text x="218.70" y="13.20" font-size="13" text-anchor="start" fill="#1a1a1a" stroke="#1a1a1a" stroke-width="0.585">B</text>
<rect x="255.20" y="136.44" width="15" height="21.86" fill="#fad8b6" stroke="#2a2a2a" stroke-width="0.95"/>
<rect x="255.20" y="96.14" width="15" height="40.29" fill="#8ee0f4" stroke="#2a2a2a" stroke-width="0.95"/>
<rect x="255.20" y="58.69" width="15" height="37.46" fill="#b4b9f5" stroke="#2a2a2a" stroke-width="0.95"/>
<rect x="255.20" y="40.13" width="15" height="18.55" fill="#fdf0c1" stroke="#2a2a2a" stroke-width="0.95"/>
<line x1="262.70" y1="158.30" x2="262.70" y2="160.80" stroke="#161616" stroke-width="1.05"/>
<text x="266.20" y="171.50" font-size="7.3" text-anchor="end" fill="#1a1a1a" stroke="#1a1a1a" stroke-width="0.328" transform="rotate(-30 266.20 171.50)">WNPI/KC</text>
<rect x="280.32" y="138.68" width="15" height="19.62" fill="#fad8b6" stroke="#2a2a2a" stroke-width="0.95"/>
<rect x="280.32" y="95.44" width="15" height="43.25" fill="#8ee0f4" stroke="#2a2a2a" stroke-width="0.95"/>
<rect x="280.32" y="59.39" width="15" height="36.04" fill="#b4b9f5" stroke="#2a2a2a" stroke-width="0.95"/>
<rect x="280.32" y="40.13" width="15" height="19.26" fill="#fdf0c1" stroke="#2a2a2a" stroke-width="0.95"/>
<line x1="287.82" y1="158.30" x2="287.82" y2="160.80" stroke="#161616" stroke-width="1.05"/>
<text x="291.32" y="171.50" font-size="7.3" text-anchor="end" fill="#1a1a1a" stroke="#1a1a1a" stroke-width="0.328" transform="rotate(-30 291.32 171.50)">U-200W</text>
<rect x="305.44" y="139.04" width="15" height="19.26" fill="#fad8b6" stroke="#2a2a2a" stroke-width="0.95"/>
<rect x="305.44" y="96.03" width="15" height="43.01" fill="#8ee0f4" stroke="#2a2a2a" stroke-width="0.95"/>
<rect x="305.44" y="59.75" width="15" height="36.28" fill="#b4b9f5" stroke="#2a2a2a" stroke-width="0.95"/>
<rect x="305.44" y="40.13" width="15" height="19.62" fill="#fdf0c1" stroke="#2a2a2a" stroke-width="0.95"/>
<line x1="312.94" y1="158.30" x2="312.94" y2="160.80" stroke="#161616" stroke-width="1.05"/>
<text x="316.44" y="171.50" font-size="7.3" text-anchor="end" fill="#1a1a1a" stroke="#1a1a1a" stroke-width="0.328" transform="rotate(-30 316.44 171.50)">U-0W-TG</text>
<rect x="330.56" y="141.05" width="15" height="17.25" fill="#fad8b6" stroke="#2a2a2a" stroke-width="0.95"/>
<rect x="330.56" y="97.44" width="15" height="43.60" fill="#8ee0f4" stroke="#2a2a2a" stroke-width="0.95"/>
<rect x="330.56" y="57.50" width="15" height="39.94" fill="#b4b9f5" stroke="#2a2a2a" stroke-width="0.95"/>
<rect x="330.56" y="40.13" width="15" height="17.37" fill="#fdf0c1" stroke="#2a2a2a" stroke-width="0.95"/>
<line x1="338.06" y1="158.30" x2="338.06" y2="160.80" stroke="#161616" stroke-width="1.05"/>
<text x="341.56" y="171.50" font-size="7.3" text-anchor="end" fill="#1a1a1a" stroke="#1a1a1a" stroke-width="0.328" transform="rotate(-30 341.56 171.50)">U-100W-TG</text>
<rect x="355.68" y="141.05" width="15" height="17.25" fill="#fad8b6" stroke="#2a2a2a" stroke-width="0.95"/>
<rect x="355.68" y="96.03" width="15" height="45.02" fill="#8ee0f4" stroke="#2a2a2a" stroke-width="0.95"/>
<rect x="355.68" y="57.98" width="15" height="38.05" fill="#b4b9f5" stroke="#2a2a2a" stroke-width="0.95"/>
<rect x="355.68" y="40.13" width="15" height="17.84" fill="#fdf0c1" stroke="#2a2a2a" stroke-width="0.95"/>
<line x1="363.18" y1="158.30" x2="363.18" y2="160.80" stroke="#161616" stroke-width="1.05"/>
<text x="366.68" y="171.50" font-size="7.3" text-anchor="end" fill="#1a1a1a" stroke="#1a1a1a" stroke-width="0.328" transform="rotate(-30 366.68 171.50)">U-200W-TG</text>
<rect x="380.80" y="141.05" width="15" height="17.25" fill="#fad8b6" stroke="#2a2a2a" stroke-width="0.95"/>
<rect x="380.80" y="97.44" width="15" height="43.60" fill="#8ee0f4" stroke="#2a2a2a" stroke-width="0.95"/>
<rect x="380.80" y="59.39" width="15" height="38.05" fill="#b4b9f5" stroke="#2a2a2a" stroke-width="0.95"/>
<rect x="380.80" y="40.13" width="15" height="19.26" fill="#fdf0c1" stroke="#2a2a2a" stroke-width="0.95"/>
<line x1="388.30" y1="158.30" x2="388.30" y2="160.80" stroke="#161616" stroke-width="1.05"/>
<text x="391.80" y="171.50" font-size="7.3" text-anchor="end" fill="#1a1a1a" stroke="#1a1a1a" stroke-width="0.328" transform="rotate(-30 391.80 171.50)">U-300W-TG</text>
<rect x="405.92" y="139.98" width="15" height="18.32" fill="#fad8b6" stroke="#2a2a2a" stroke-width="0.95"/>
<rect x="405.92" y="97.44" width="15" height="42.54" fill="#8ee0f4" stroke="#2a2a2a" stroke-width="0.95"/>
<rect x="405.92" y="60.93" width="15" height="36.51" fill="#b4b9f5" stroke="#2a2a2a" stroke-width="0.95"/>
<rect x="405.92" y="40.13" width="15" height="20.80" fill="#fdf0c1" stroke="#2a2a2a" stroke-width="0.95"/>
<line x1="413.42" y1="158.30" x2="413.42" y2="160.80" stroke="#161616" stroke-width="1.05"/>
<text x="416.92" y="171.50" font-size="7.3" text-anchor="end" fill="#1a1a1a" stroke="#1a1a1a" stroke-width="0.328" transform="rotate(-30 416.92 171.50)">U-400W-TG</text>
<rect x="254.6" y="19.1" width="14.3" height="6.6" fill="#fad8b6" stroke="#555" stroke-width="0.8"/>
<text x="270.70" y="24.90" font-size="8.2" text-anchor="start" fill="#1a1a1a" stroke="#1a1a1a" stroke-width="0.369">α-helix</text>
<rect x="297.2" y="19.1" width="14.3" height="6.6" fill="#8ee0f4" stroke="#555" stroke-width="0.8"/>
<text x="313.40" y="24.90" font-size="8.2" text-anchor="start" fill="#1a1a1a" stroke="#1a1a1a" stroke-width="0.369">β-turn</text>
<rect x="254.6" y="29.0" width="14.3" height="6.6" fill="#b4b9f5" stroke="#555" stroke-width="0.8"/>
<text x="270.70" y="34.80" font-size="8.2" text-anchor="start" fill="#1a1a1a" stroke="#1a1a1a" stroke-width="0.369">β-sheet</text>
<rect x="297.2" y="29.0" width="14.3" height="6.6" fill="#fdf0c1" stroke="#555" stroke-width="0.8"/>
<text x="313.40" y="34.80" font-size="8.2" text-anchor="start" fill="#1a1a1a" stroke="#1a1a1a" stroke-width="0.369">random coil</text>
<rect x="35.30" y="192.90" width="174.30" height="140.00" fill="none" stroke="#161616" stroke-width="1.35"/>
<line x1="35.30" y1="332.90" x2="33.10" y2="332.90" stroke="#161616" stroke-width="1.05"/>
<text x="31.30" y="335.80" font-size="8.3" text-anchor="end" fill="#1a1a1a" stroke="#1a1a1a" stroke-width="0.373">0</text>
<line x1="35.30" y1="320.22" x2="33.90" y2="320.22" stroke="#161616" stroke-width="1.05"/>
<line x1="35.30" y1="307.55" x2="33.10" y2="307.55" stroke="#161616" stroke-width="1.05"/>
<text x="31.30" y="310.45" font-size="8.3" text-anchor="end" fill="#1a1a1a" stroke="#1a1a1a" stroke-width="0.373">100</text>
<line x1="35.30" y1="294.88" x2="33.90" y2="294.88" stroke="#161616" stroke-width="1.05"/>
<line x1="35.30" y1="282.20" x2="33.10" y2="282.20" stroke="#161616" stroke-width="1.05"/>
<text x="31.30" y="285.10" font-size="8.3" text-anchor="end" fill="#1a1a1a" stroke="#1a1a1a" stroke-width="0.373">200</text>
<line x1="35.30" y1="269.52" x2="33.90" y2="269.52" stroke="#161616" stroke-width="1.05"/>
<line x1="35.30" y1="256.85" x2="33.10" y2="256.85" stroke="#161616" stroke-width="1.05"/>
<text x="31.30" y="259.75" font-size="8.3" text-anchor="end" fill="#1a1a1a" stroke="#1a1a1a" stroke-width="0.373">300</text>
<line x1="35.30" y1="244.17" x2="33.90" y2="244.17" stroke="#161616" stroke-width="1.05"/>
<line x1="35.30" y1="231.50" x2="33.10" y2="231.50" stroke="#161616" stroke-width="1.05"/>
<text x="31.30" y="234.40" font-size="8.3" text-anchor="end" fill="#1a1a1a" stroke="#1a1a1a" stroke-width="0.373">400</text>
<line x1="35.30" y1="218.82" x2="33.90" y2="218.82" stroke="#161616" stroke-width="1.05"/>
<line x1="35.30" y1="206.15" x2="33.10" y2="206.15" stroke="#161616" stroke-width="1.05"/>
<text x="31.30" y="209.05" font-size="8.3" text-anchor="end" fill="#1a1a1a" stroke="#1a1a1a" stroke-width="0.373">500</text>
<line x1="35.30" y1="193.47" x2="33.90" y2="193.47" stroke="#161616" stroke-width="1.05"/>
<line x1="44.30" y1="332.90" x2="44.30" y2="335.10" stroke="#161616" stroke-width="1.05"/>
<text x="44.30" y="343.90" font-size="8.0" text-anchor="middle" fill="#1a1a1a" stroke="#1a1a1a" stroke-width="0.36">300</text>
<line x1="59.97" y1="332.90" x2="59.97" y2="334.30" stroke="#161616" stroke-width="1.05"/>
<line x1="75.65" y1="332.90" x2="75.65" y2="335.10" stroke="#161616" stroke-width="1.05"/>
<text x="75.65" y="343.90" font-size="8.0" text-anchor="middle" fill="#1a1a1a" stroke="#1a1a1a" stroke-width="0.36">320</text>
<line x1="91.32" y1="332.90" x2="91.32" y2="334.30" stroke="#161616" stroke-width="1.05"/>
<line x1="107.00" y1="332.90" x2="107.00" y2="335.10" stroke="#161616" stroke-width="1.05"/>
<text x="107.00" y="343.90" font-size="8.0" text-anchor="middle" fill="#1a1a1a" stroke="#1a1a1a" stroke-width="0.36">340</text>
<line x1="122.67" y1="332.90" x2="122.67" y2="334.30" stroke="#161616" stroke-width="1.05"/>
<line x1="138.35" y1="332.90" x2="138.35" y2="335.10" stroke="#161616" stroke-width="1.05"/>
<text x="138.35" y="343.90" font-size="8.0" text-anchor="middle" fill="#1a1a1a" stroke="#1a1a1a" stroke-width="0.36">360</text>
<line x1="154.02" y1="332.90" x2="154.02" y2="334.30" stroke="#161616" stroke-width="1.05"/>
<line x1="169.70" y1="332.90" x2="169.70" y2="335.10" stroke="#161616" stroke-width="1.05"/>
<text x="169.70" y="343.90" font-size="8.0" text-anchor="middle" fill="#1a1a1a" stroke="#1a1a1a" stroke-width="0.36">380</text>
<line x1="185.38" y1="332.90" x2="185.38" y2="334.30" stroke="#161616" stroke-width="1.05"/>
<line x1="201.05" y1="332.90" x2="201.05" y2="335.10" stroke="#161616" stroke-width="1.05"/>
<text x="201.05" y="343.90" font-size="8.0" text-anchor="middle" fill="#1a1a1a" stroke="#1a1a1a" stroke-width="0.36">400</text>
<text x="17.00" y="195.60" font-size="14" text-anchor="start" fill="#1a1a1a" stroke="#1a1a1a" stroke-width="0.63">C</text>
<text x="122.00" y="354.00" font-size="10.0" text-anchor="middle" fill="#1a1a1a" stroke="#1a1a1a" stroke-width="0.45">Wavelengh(nm)</text>
<text x="10.90" y="258.40" font-size="9.9" text-anchor="middle" fill="#1a1a1a" stroke="#1a1a1a" stroke-width="0.446" transform="rotate(-90 10.90 258.40)">Flurescence intensity</text>
<path d="M44.30,309.07 L45.08,308.42 L45.87,307.58 L46.65,306.65 L47.43,305.66 L48.22,304.61 L49.00,303.53 L49.79,302.41 L50.57,301.26 L51.35,300.09 L52.14,298.90 L52.92,297.69 L53.70,296.47 L54.49,295.23 L55.27,293.98 L56.06,292.73 L56.84,291.47 L57.62,290.20 L58.41,288.93 L59.19,287.66 L59.97,286.39 L60.76,285.12 L61.54,283.86 L62.33,282.60 L63.11,281.34 L63.89,280.09 L64.68,278.85 L65.46,277.62 L66.25,276.40 L67.03,275.19 L67.81,274.00 L68.60,272.82 L69.38,271.65 L70.16,270.50 L70.95,269.37 L71.73,268.26 L72.51,267.16 L73.30,266.09 L74.08,265.04 L74.87,264.01 L75.65,263.00 L76.43,262.01 L77.22,261.05 L78.00,260.12 L78.78,259.21 L79.57,258.33 L80.35,257.48 L81.14,256.65 L81.92,255.85 L82.70,255.09 L83.49,254.35 L84.27,253.65 L85.05,252.97 L85.84,252.33 L86.62,251.72 L87.41,251.15 L88.19,250.60 L88.97,250.09 L89.76,249.62 L90.54,249.18 L91.32,248.78 L92.11,248.41 L92.89,248.07 L93.68,247.78 L94.46,247.51 L95.24,247.29 L96.03,247.10 L96.81,246.95 L97.59,246.84 L98.38,246.76 L99.16,246.72 L99.95,246.72 L100.73,246.78 L101.51,246.90 L102.30,247.05 L103.08,247.24 L103.86,247.46 L104.65,247.71 L105.43,247.99 L106.22,248.30 L107.00,248.63 L107.78,248.99 L108.57,249.38 L109.35,249.78 L110.13,250.21 L110.92,250.66 L111.70,251.13 L112.49,251.62 L113.27,252.13 L114.05,252.65 L114.84,253.19 L115.62,253.75 L116.40,254.32 L117.19,254.91 L117.97,255.51 L118.76,256.13 L119.54,256.75 L120.32,257.39 L121.11,258.04 L121.89,258.70 L122.67,259.37 L123.46,260.05 L124.24,260.74 L125.03,261.44 L125.81,262.14 L126.59,262.85 L127.38,263.57 L128.16,264.29 L128.94,265.02 L129.73,265.75 L130.51,266.49 L131.30,267.23 L132.08,267.98 L132.86,268.72 L133.65,269.47 L134.43,270.22 L135.21,270.98 L136.00,271.73 L136.78,272.48 L137.57,273.24 L138.35,273.99 L139.13,274.74 L139.92,275.50 L140.70,276.25 L141.48,277.00 L142.27,277.74 L143.05,278.49 L143.84,279.23 L144.62,279.96 L145.40,280.70 L146.19,281.43 L146.97,282.16 L147.75,282.88 L148.54,283.59 L149.32,284.31 L150.11,285.01 L150.89,285.72 L151.67,286.41 L152.46,287.10 L153.24,287.79 L154.02,288.47 L154.81,289.14 L155.59,289.80 L156.38,290.46 L157.16,291.11 L157.94,291.76 L158.73,292.39 L159.51,293.02 L160.29,293.65 L161.08,294.26 L161.86,294.87 L162.65,295.47 L163.43,296.06 L164.21,296.64 L165.00,297.22 L165.78,297.79 L166.56,298.35 L167.35,298.90 L168.13,299.44 L168.92,299.98 L169.70,300.51 L170.48,301.03 L171.27,301.54 L172.05,302.04 L172.83,302.53 L173.62,303.02 L174.40,303.50 L175.19,303.96 L175.97,304.43 L176.75,304.88 L177.54,305.32 L178.32,305.76 L179.10,306.19 L179.89,306.61 L180.67,307.02 L181.46,307.43 L182.24,307.82 L183.02,308.21 L183.81,308.59 L184.59,308.96 L185.38,309.33 L186.16,309.69 L186.94,310.04 L187.73,310.38 L188.51,310.72 L189.29,311.04 L190.08,311.37 L190.86,311.68 L191.64,311.99 L192.43,312.29 L193.21,312.58 L194.00,312.87 L194.78,313.15 L195.56,313.42 L196.35,313.69 L197.13,313.95 L197.91,314.20 L198.70,314.45 L199.48,314.69 L200.27,314.93 L201.05,315.15" fill="none" stroke="#f86262" stroke-width="1.1" stroke-linejoin="round"/>
<path d="M44.30,309.32 L45.08,308.64 L45.87,307.76 L46.65,306.78 L47.43,305.73 L48.22,304.63 L49.00,303.49 L49.79,302.31 L50.57,301.10 L51.35,299.87 L52.14,298.62 L52.92,297.34 L53.70,296.05 L54.49,294.75 L55.27,293.44 L56.06,292.12 L56.84,290.79 L57.62,289.46 L58.41,288.12 L59.19,286.78 L59.97,285.45 L60.76,284.11 L61.54,282.78 L62.33,281.45 L63.11,280.13 L63.89,278.82 L64.68,277.51 L65.46,276.21 L66.25,274.93 L67.03,273.66 L67.81,272.40 L68.60,271.16 L69.38,269.93 L70.16,268.72 L70.95,267.53 L71.73,266.36 L72.51,265.20 L73.30,264.07 L74.08,262.96 L74.87,261.88 L75.65,260.82 L76.43,259.78 L77.22,258.77 L78.00,257.79 L78.78,256.83 L79.57,255.90 L80.35,255.00 L81.14,254.13 L81.92,253.30 L82.70,252.49 L83.49,251.71 L84.27,250.97 L85.05,250.26 L85.84,249.59 L86.62,248.94 L87.41,248.34 L88.19,247.77 L88.97,247.23 L89.76,246.73 L90.54,246.27 L91.32,245.84 L92.11,245.45 L92.89,245.10 L93.68,244.79 L94.46,244.52 L95.24,244.28 L96.03,244.08 L96.81,243.92 L97.59,243.80 L98.38,243.72 L99.16,243.68 L99.95,243.68 L100.73,243.74 L101.51,243.86 L102.30,244.02 L103.08,244.21 L103.86,244.44 L104.65,244.70 L105.43,245.00 L106.22,245.32 L107.00,245.66 L107.78,246.04 L108.57,246.43 L109.35,246.86 L110.13,247.30 L110.92,247.77 L111.70,248.25 L112.49,248.76 L113.27,249.29 L114.05,249.83 L114.84,250.39 L115.62,250.97 L116.40,251.56 L117.19,252.17 L117.97,252.80 L118.76,253.43 L119.54,254.08 L120.32,254.74 L121.11,255.42 L121.89,256.10 L122.67,256.80 L123.46,257.50 L124.24,258.22 L125.03,258.94 L125.81,259.67 L126.59,260.41 L127.38,261.15 L128.16,261.90 L128.94,262.66 L129.73,263.42 L130.51,264.18 L131.30,264.95 L132.08,265.72 L132.86,266.50 L133.65,267.27 L134.43,268.05 L135.21,268.83 L136.00,269.61 L136.78,270.40 L137.57,271.18 L138.35,271.96 L139.13,272.74 L139.92,273.52 L140.70,274.30 L141.48,275.08 L142.27,275.85 L143.05,276.62 L143.84,277.39 L144.62,278.15 L145.40,278.92 L146.19,279.67 L146.97,280.43 L147.75,281.17 L148.54,281.92 L149.32,282.66 L150.11,283.39 L150.89,284.12 L151.67,284.84 L152.46,285.56 L153.24,286.27 L154.02,286.97 L154.81,287.67 L155.59,288.36 L156.38,289.04 L157.16,289.71 L157.94,290.38 L158.73,291.04 L159.51,291.70 L160.29,292.34 L161.08,292.98 L161.86,293.61 L162.65,294.23 L163.43,294.85 L164.21,295.45 L165.00,296.05 L165.78,296.64 L166.56,297.22 L167.35,297.79 L168.13,298.35 L168.92,298.91 L169.70,299.46 L170.48,299.99 L171.27,300.52 L172.05,301.05 L172.83,301.56 L173.62,302.06 L174.40,302.56 L175.19,303.04 L175.97,303.52 L176.75,303.99 L177.54,304.45 L178.32,304.90 L179.10,305.35 L179.89,305.79 L180.67,306.21 L181.46,306.63 L182.24,307.04 L183.02,307.45 L183.81,307.84 L184.59,308.23 L185.38,308.61 L186.16,308.98 L186.94,309.34 L187.73,309.70 L188.51,310.05 L189.29,310.39 L190.08,310.72 L190.86,311.04 L191.64,311.36 L192.43,311.67 L193.21,311.98 L194.00,312.27 L194.78,312.56 L195.56,312.85 L196.35,313.12 L197.13,313.39 L197.91,313.66 L198.70,313.91 L199.48,314.17 L200.27,314.41 L201.05,314.65" fill="none" stroke="#5c5c5c" stroke-width="1.1" stroke-linejoin="round"/>
<path d="M44.30,303.75 L45.08,303.10 L45.87,302.27 L46.65,301.34 L47.43,300.35 L48.22,299.31 L49.00,298.22 L49.79,297.11 L50.57,295.97 L51.35,294.80 L52.14,293.62 L52.92,292.41 L53.70,291.19 L54.49,289.96 L55.27,288.72 L56.06,287.47 L56.84,286.22 L57.62,284.96 L58.41,283.69 L59.19,282.43 L59.97,281.16 L60.76,279.90 L61.54,278.64 L62.33,277.38 L63.11,276.13 L63.89,274.89 L64.68,273.65 L65.46,272.43 L66.25,271.21 L67.03,270.01 L67.81,268.82 L68.60,267.64 L69.38,266.48 L70.16,265.34 L70.95,264.21 L71.73,263.10 L72.51,262.01 L73.30,260.94 L74.08,259.89 L74.87,258.87 L75.65,257.86 L76.43,256.88 L77.22,255.92 L78.00,254.99 L78.78,254.09 L79.57,253.21 L80.35,252.36 L81.14,251.54 L81.92,250.75 L82.70,249.98 L83.49,249.25 L84.27,248.55 L85.05,247.88 L85.84,247.24 L86.62,246.63 L87.41,246.06 L88.19,245.52 L88.97,245.01 L89.76,244.54 L90.54,244.10 L91.32,243.70 L92.11,243.33 L92.89,243.00 L93.68,242.70 L94.46,242.44 L95.24,242.22 L96.03,242.03 L96.81,241.88 L97.59,241.76 L98.38,241.69 L99.16,241.65 L99.95,241.65 L100.73,241.72 L101.51,241.84 L102.30,242.01 L103.08,242.21 L103.86,242.45 L104.65,242.73 L105.43,243.03 L106.22,243.37 L107.00,243.74 L107.78,244.13 L108.57,244.54 L109.35,244.99 L110.13,245.45 L110.92,245.94 L111.70,246.45 L112.49,246.99 L113.27,247.54 L114.05,248.11 L114.84,248.70 L115.62,249.31 L116.40,249.93 L117.19,250.57 L117.97,251.22 L118.76,251.89 L119.54,252.57 L120.32,253.27 L121.11,253.98 L121.89,254.70 L122.67,255.43 L123.46,256.17 L124.24,256.92 L125.03,257.67 L125.81,258.44 L126.59,259.21 L127.38,260.00 L128.16,260.78 L128.94,261.58 L129.73,262.37 L130.51,263.18 L131.30,263.98 L132.08,264.80 L132.86,265.61 L133.65,266.43 L134.43,267.24 L135.21,268.06 L136.00,268.88 L136.78,269.70 L137.57,270.53 L138.35,271.35 L139.13,272.17 L139.92,272.99 L140.70,273.80 L141.48,274.62 L142.27,275.43 L143.05,276.24 L143.84,277.05 L144.62,277.85 L145.40,278.65 L146.19,279.45 L146.97,280.24 L147.75,281.02 L148.54,281.80 L149.32,282.58 L150.11,283.35 L150.89,284.11 L151.67,284.87 L152.46,285.62 L153.24,286.37 L154.02,287.11 L154.81,287.84 L155.59,288.56 L156.38,289.28 L157.16,289.99 L157.94,290.69 L158.73,291.38 L159.51,292.07 L160.29,292.75 L161.08,293.42 L161.86,294.08 L162.65,294.73 L163.43,295.38 L164.21,296.01 L165.00,296.64 L165.78,297.26 L166.56,297.87 L167.35,298.47 L168.13,299.06 L168.92,299.64 L169.70,300.22 L170.48,300.78 L171.27,301.34 L172.05,301.89 L172.83,302.42 L173.62,302.95 L174.40,303.47 L175.19,303.98 L175.97,304.49 L176.75,304.98 L177.54,305.46 L178.32,305.94 L179.10,306.41 L179.89,306.86 L180.67,307.31 L181.46,307.75 L182.24,308.18 L183.02,308.61 L183.81,309.02 L184.59,309.43 L185.38,309.83 L186.16,310.22 L186.94,310.60 L187.73,310.97 L188.51,311.34 L189.29,311.69 L190.08,312.04 L190.86,312.38 L191.64,312.72 L192.43,313.05 L193.21,313.36 L194.00,313.68 L194.78,313.98 L195.56,314.28 L196.35,314.57 L197.13,314.85 L197.91,315.13 L198.70,315.40 L199.48,315.66 L200.27,315.92 L201.05,316.17" fill="none" stroke="#3a8eec" stroke-width="1.1" stroke-linejoin="round"/>
<path d="M44.30,298.42 L45.08,297.65 L45.87,296.64 L46.65,295.52 L47.43,294.33 L48.22,293.08 L49.00,291.77 L49.79,290.43 L50.57,289.06 L51.35,287.65 L52.14,286.23 L52.92,284.78 L53.70,283.31 L54.49,281.83 L55.27,280.33 L56.06,278.83 L56.84,277.31 L57.62,275.80 L58.41,274.28 L59.19,272.75 L59.97,271.23 L60.76,269.71 L61.54,268.19 L62.33,266.68 L63.11,265.17 L63.89,263.67 L64.68,262.19 L65.46,260.71 L66.25,259.25 L67.03,257.80 L67.81,256.37 L68.60,254.95 L69.38,253.55 L70.16,252.18 L70.95,250.82 L71.73,249.48 L72.51,248.17 L73.30,246.88 L74.08,245.62 L74.87,244.38 L75.65,243.17 L76.43,241.99 L77.22,240.84 L78.00,239.72 L78.78,238.63 L79.57,237.58 L80.35,236.55 L81.14,235.56 L81.92,234.61 L82.70,233.69 L83.49,232.81 L84.27,231.96 L85.05,231.15 L85.84,230.38 L86.62,229.65 L87.41,228.96 L88.19,228.31 L88.97,227.70 L89.76,227.13 L90.54,226.60 L91.32,226.12 L92.11,225.68 L92.89,225.28 L93.68,224.92 L94.46,224.61 L95.24,224.34 L96.03,224.11 L96.81,223.93 L97.59,223.79 L98.38,223.70 L99.16,223.65 L99.95,223.65 L100.73,223.74 L101.51,223.88 L102.30,224.07 L103.08,224.31 L103.86,224.59 L104.65,224.91 L105.43,225.27 L106.22,225.67 L107.00,226.09 L107.78,226.55 L108.57,227.04 L109.35,227.56 L110.13,228.10 L110.92,228.68 L111.70,229.27 L112.49,229.90 L113.27,230.54 L114.05,231.21 L114.84,231.90 L115.62,232.61 L116.40,233.34 L117.19,234.09 L117.97,234.85 L118.76,235.64 L119.54,236.44 L120.32,237.25 L121.11,238.08 L121.89,238.92 L122.67,239.77 L123.46,240.64 L124.24,241.52 L125.03,242.40 L125.81,243.30 L126.59,244.21 L127.38,245.12 L128.16,246.04 L128.94,246.97 L129.73,247.90 L130.51,248.84 L131.30,249.79 L132.08,250.74 L132.86,251.69 L133.65,252.64 L134.43,253.60 L135.21,254.56 L136.00,255.52 L136.78,256.48 L137.57,257.44 L138.35,258.40 L139.13,259.36 L139.92,260.32 L140.70,261.27 L141.48,262.23 L142.27,263.18 L143.05,264.13 L143.84,265.07 L144.62,266.01 L145.40,266.95 L146.19,267.88 L146.97,268.80 L147.75,269.72 L148.54,270.64 L149.32,271.54 L150.11,272.44 L150.89,273.34 L151.67,274.23 L152.46,275.10 L153.24,275.98 L154.02,276.84 L154.81,277.70 L155.59,278.54 L156.38,279.38 L157.16,280.21 L157.94,281.03 L158.73,281.85 L159.51,282.65 L160.29,283.44 L161.08,284.23 L161.86,285.00 L162.65,285.76 L163.43,286.52 L164.21,287.26 L165.00,288.00 L165.78,288.72 L166.56,289.43 L167.35,290.14 L168.13,290.83 L168.92,291.51 L169.70,292.18 L170.48,292.84 L171.27,293.49 L172.05,294.13 L172.83,294.76 L173.62,295.38 L174.40,295.99 L175.19,296.59 L175.97,297.18 L176.75,297.75 L177.54,298.32 L178.32,298.88 L179.10,299.42 L179.89,299.96 L180.67,300.48 L181.46,301.00 L182.24,301.50 L183.02,302.00 L183.81,302.48 L184.59,302.96 L185.38,303.42 L186.16,303.88 L186.94,304.33 L187.73,304.76 L188.51,305.19 L189.29,305.61 L190.08,306.02 L190.86,306.42 L191.64,306.81 L192.43,307.19 L193.21,307.56 L194.00,307.93 L194.78,308.29 L195.56,308.63 L196.35,308.97 L197.13,309.31 L197.91,309.63 L198.70,309.94 L199.48,310.25 L200.27,310.55 L201.05,310.85" fill="none" stroke="#30b885" stroke-width="1.1" stroke-linejoin="round"/>
<path d="M44.30,297.92 L45.08,297.06 L45.87,295.94 L46.65,294.71 L47.43,293.39 L48.22,292.01 L49.00,290.57 L49.79,289.09 L50.57,287.57 L51.35,286.02 L52.14,284.44 L52.92,282.84 L53.70,281.21 L54.49,279.58 L55.27,277.92 L56.06,276.26 L56.84,274.59 L57.62,272.91 L58.41,271.23 L59.19,269.55 L59.97,267.86 L60.76,266.18 L61.54,264.51 L62.33,262.83 L63.11,261.17 L63.89,259.52 L64.68,257.87 L65.46,256.24 L66.25,254.63 L67.03,253.02 L67.81,251.44 L68.60,249.88 L69.38,248.33 L70.16,246.81 L70.95,245.31 L71.73,243.83 L72.51,242.38 L73.30,240.96 L74.08,239.56 L74.87,238.20 L75.65,236.86 L76.43,235.56 L77.22,234.28 L78.00,233.05 L78.78,231.84 L79.57,230.67 L80.35,229.54 L81.14,228.45 L81.92,227.39 L82.70,226.38 L83.49,225.40 L84.27,224.47 L85.05,223.58 L85.84,222.72 L86.62,221.92 L87.41,221.15 L88.19,220.43 L88.97,219.76 L89.76,219.13 L90.54,218.55 L91.32,218.01 L92.11,217.52 L92.89,217.08 L93.68,216.69 L94.46,216.34 L95.24,216.04 L96.03,215.79 L96.81,215.59 L97.59,215.44 L98.38,215.34 L99.16,215.28 L99.95,215.29 L100.73,215.38 L101.51,215.53 L102.30,215.74 L103.08,216.01 L103.86,216.31 L104.65,216.66 L105.43,217.05 L106.22,217.48 L107.00,217.94 L107.78,218.44 L108.57,218.97 L109.35,219.53 L110.13,220.13 L110.92,220.75 L111.70,221.40 L112.49,222.08 L113.27,222.78 L114.05,223.51 L114.84,224.26 L115.62,225.03 L116.40,225.82 L117.19,226.63 L117.97,227.47 L118.76,228.32 L119.54,229.19 L120.32,230.07 L121.11,230.97 L121.89,231.89 L122.67,232.81 L123.46,233.76 L124.24,234.71 L125.03,235.67 L125.81,236.65 L126.59,237.63 L127.38,238.63 L128.16,239.63 L128.94,240.64 L129.73,241.65 L130.51,242.67 L131.30,243.70 L132.08,244.73 L132.86,245.77 L133.65,246.81 L134.43,247.85 L135.21,248.89 L136.00,249.93 L136.78,250.98 L137.57,252.02 L138.35,253.07 L139.13,254.11 L139.92,255.15 L140.70,256.19 L141.48,257.23 L142.27,258.26 L143.05,259.29 L143.84,260.32 L144.62,261.34 L145.40,262.36 L146.19,263.37 L146.97,264.37 L147.75,265.37 L148.54,266.37 L149.32,267.35 L150.11,268.33 L150.89,269.31 L151.67,270.27 L152.46,271.23 L153.24,272.18 L154.02,273.11 L154.81,274.05 L155.59,274.97 L156.38,275.88 L157.16,276.78 L157.94,277.67 L158.73,278.56 L159.51,279.43 L160.29,280.29 L161.08,281.14 L161.86,281.99 L162.65,282.82 L163.43,283.64 L164.21,284.44 L165.00,285.24 L165.78,286.03 L166.56,286.80 L167.35,287.57 L168.13,288.32 L168.92,289.06 L169.70,289.79 L170.48,290.51 L171.27,291.22 L172.05,291.92 L172.83,292.60 L173.62,293.27 L174.40,293.93 L175.19,294.58 L175.97,295.22 L176.75,295.85 L177.54,296.47 L178.32,297.07 L179.10,297.66 L179.89,298.25 L180.67,298.82 L181.46,299.38 L182.24,299.93 L183.02,300.47 L183.81,300.99 L184.59,301.51 L185.38,302.02 L186.16,302.51 L186.94,303.00 L187.73,303.47 L188.51,303.94 L189.29,304.39 L190.08,304.84 L190.86,305.27 L191.64,305.70 L192.43,306.11 L193.21,306.52 L194.00,306.91 L194.78,307.30 L195.56,307.68 L196.35,308.05 L197.13,308.41 L197.91,308.76 L198.70,309.11 L199.48,309.44 L200.27,309.77 L201.05,310.08" fill="none" stroke="#22d0e4" stroke-width="1.1" stroke-linejoin="round"/>
<path d="M44.30,296.40 L45.08,295.48 L45.87,294.29 L46.65,292.97 L47.43,291.56 L48.22,290.09 L49.00,288.55 L49.79,286.97 L50.57,285.35 L51.35,283.69 L52.14,282.01 L52.92,280.30 L53.70,278.57 L54.49,276.82 L55.27,275.05 L56.06,273.28 L56.84,271.49 L57.62,269.70 L58.41,267.91 L59.19,266.11 L59.97,264.31 L60.76,262.52 L61.54,260.73 L62.33,258.95 L63.11,257.17 L63.89,255.40 L64.68,253.65 L65.46,251.91 L66.25,250.18 L67.03,248.47 L67.81,246.78 L68.60,245.11 L69.38,243.46 L70.16,241.84 L70.95,240.24 L71.73,238.66 L72.51,237.11 L73.30,235.59 L74.08,234.10 L74.87,232.64 L75.65,231.22 L76.43,229.83 L77.22,228.47 L78.00,227.15 L78.78,225.86 L79.57,224.61 L80.35,223.41 L81.14,222.24 L81.92,221.11 L82.70,220.03 L83.49,218.99 L84.27,217.99 L85.05,217.04 L85.84,216.13 L86.62,215.27 L87.41,214.45 L88.19,213.68 L88.97,212.97 L89.76,212.29 L90.54,211.67 L91.32,211.10 L92.11,210.58 L92.89,210.11 L93.68,209.69 L94.46,209.32 L95.24,209.00 L96.03,208.73 L96.81,208.52 L97.59,208.36 L98.38,208.25 L99.16,208.19 L99.95,208.19 L100.73,208.29 L101.51,208.45 L102.30,208.68 L103.08,208.96 L103.86,209.29 L104.65,209.66 L105.43,210.08 L106.22,210.53 L107.00,211.03 L107.78,211.56 L108.57,212.13 L109.35,212.73 L110.13,213.37 L110.92,214.03 L111.70,214.73 L112.49,215.45 L113.27,216.20 L114.05,216.98 L114.84,217.78 L115.62,218.61 L116.40,219.46 L117.19,220.33 L117.97,221.22 L118.76,222.13 L119.54,223.06 L120.32,224.00 L121.11,224.96 L121.89,225.94 L122.67,226.94 L123.46,227.94 L124.24,228.96 L125.03,229.99 L125.81,231.04 L126.59,232.09 L127.38,233.15 L128.16,234.22 L128.94,235.30 L129.73,236.39 L130.51,237.48 L131.30,238.58 L132.08,239.68 L132.86,240.79 L133.65,241.90 L134.43,243.01 L135.21,244.13 L136.00,245.24 L136.78,246.36 L137.57,247.48 L138.35,248.60 L139.13,249.71 L139.92,250.82 L140.70,251.94 L141.48,253.05 L142.27,254.15 L143.05,255.25 L143.84,256.35 L144.62,257.44 L145.40,258.53 L146.19,259.61 L146.97,260.69 L147.75,261.76 L148.54,262.82 L149.32,263.88 L150.11,264.92 L150.89,265.96 L151.67,267.00 L152.46,268.02 L153.24,269.03 L154.02,270.04 L154.81,271.03 L155.59,272.02 L156.38,272.99 L157.16,273.96 L157.94,274.91 L158.73,275.86 L159.51,276.79 L160.29,277.71 L161.08,278.62 L161.86,279.52 L162.65,280.41 L163.43,281.29 L164.21,282.16 L165.00,283.01 L165.78,283.85 L166.56,284.68 L167.35,285.50 L168.13,286.30 L168.92,287.10 L169.70,287.88 L170.48,288.64 L171.27,289.40 L172.05,290.15 L172.83,290.88 L173.62,291.60 L174.40,292.30 L175.19,293.00 L175.97,293.68 L176.75,294.35 L177.54,295.01 L178.32,295.66 L179.10,296.29 L179.89,296.92 L180.67,297.53 L181.46,298.13 L182.24,298.71 L183.02,299.29 L183.81,299.85 L184.59,300.41 L185.38,300.95 L186.16,301.48 L186.94,302.00 L187.73,302.51 L188.51,303.00 L189.29,303.49 L190.08,303.96 L190.86,304.43 L191.64,304.88 L192.43,305.33 L193.21,305.76 L194.00,306.19 L194.78,306.60 L195.56,307.01 L196.35,307.40 L197.13,307.79 L197.91,308.16 L198.70,308.53 L199.48,308.89 L200.27,309.24 L201.05,309.58" fill="none" stroke="#eea526" stroke-width="1.1" stroke-linejoin="round"/>
<path d="M44.30,295.64 L45.08,294.68 L45.87,293.43 L46.65,292.05 L47.43,290.58 L48.22,289.04 L49.00,287.43 L49.79,285.78 L50.57,284.08 L51.35,282.35 L52.14,280.59 L52.92,278.80 L53.70,276.99 L54.49,275.16 L55.27,273.31 L56.06,271.46 L56.84,269.59 L57.62,267.72 L58.41,265.84 L59.19,263.96 L59.97,262.08 L60.76,260.20 L61.54,258.33 L62.33,256.46 L63.11,254.61 L63.89,252.76 L64.68,250.92 L65.46,249.10 L66.25,247.30 L67.03,245.51 L67.81,243.74 L68.60,241.99 L69.38,240.27 L70.16,238.57 L70.95,236.89 L71.73,235.25 L72.51,233.63 L73.30,232.04 L74.08,230.48 L74.87,228.95 L75.65,227.46 L76.43,226.00 L77.22,224.58 L78.00,223.20 L78.78,221.86 L79.57,220.55 L80.35,219.29 L81.14,218.07 L81.92,216.89 L82.70,215.76 L83.49,214.67 L84.27,213.62 L85.05,212.63 L85.84,211.68 L86.62,210.78 L87.41,209.92 L88.19,209.12 L88.97,208.37 L89.76,207.67 L90.54,207.02 L91.32,206.42 L92.11,205.87 L92.89,205.38 L93.68,204.94 L94.46,204.55 L95.24,204.22 L96.03,203.94 L96.81,203.72 L97.59,203.55 L98.38,203.43 L99.16,203.37 L99.95,203.37 L100.73,203.48 L101.51,203.65 L102.30,203.88 L103.08,204.17 L103.86,204.52 L104.65,204.91 L105.43,205.34 L106.22,205.82 L107.00,206.33 L107.78,206.89 L108.57,207.48 L109.35,208.11 L110.13,208.77 L110.92,209.47 L111.70,210.19 L112.49,210.94 L113.27,211.73 L114.05,212.54 L114.84,213.37 L115.62,214.23 L116.40,215.12 L117.19,216.03 L117.97,216.95 L118.76,217.90 L119.54,218.87 L120.32,219.86 L121.11,220.86 L121.89,221.88 L122.67,222.92 L123.46,223.97 L124.24,225.03 L125.03,226.10 L125.81,227.19 L126.59,228.29 L127.38,229.40 L128.16,230.51 L128.94,231.64 L129.73,232.77 L130.51,233.91 L131.30,235.05 L132.08,236.20 L132.86,237.36 L133.65,238.52 L134.43,239.68 L135.21,240.84 L136.00,242.00 L136.78,243.17 L137.57,244.33 L138.35,245.50 L139.13,246.66 L139.92,247.82 L140.70,248.98 L141.48,250.14 L142.27,251.29 L143.05,252.44 L143.84,253.58 L144.62,254.72 L145.40,255.86 L146.19,256.98 L146.97,258.10 L147.75,259.22 L148.54,260.33 L149.32,261.43 L150.11,262.52 L150.89,263.60 L151.67,264.68 L152.46,265.75 L153.24,266.80 L154.02,267.85 L154.81,268.89 L155.59,269.91 L156.38,270.93 L157.16,271.94 L157.94,272.93 L158.73,273.92 L159.51,274.89 L160.29,275.85 L161.08,276.80 L161.86,277.74 L162.65,278.67 L163.43,279.58 L164.21,280.48 L165.00,281.37 L165.78,282.25 L166.56,283.11 L167.35,283.97 L168.13,284.81 L168.92,285.63 L169.70,286.45 L170.48,287.25 L171.27,288.04 L172.05,288.81 L172.83,289.58 L173.62,290.33 L174.40,291.06 L175.19,291.79 L175.97,292.50 L176.75,293.20 L177.54,293.89 L178.32,294.56 L179.10,295.22 L179.89,295.87 L180.67,296.51 L181.46,297.13 L182.24,297.75 L183.02,298.35 L183.81,298.93 L184.59,299.51 L185.38,300.07 L186.16,300.63 L186.94,301.17 L187.73,301.70 L188.51,302.22 L189.29,302.72 L190.08,303.22 L190.86,303.70 L191.64,304.18 L192.43,304.64 L193.21,305.09 L194.00,305.54 L194.78,305.97 L195.56,306.39 L196.35,306.80 L197.13,307.20 L197.91,307.60 L198.70,307.98 L199.48,308.35 L200.27,308.72 L201.05,309.07" fill="none" stroke="#dc76f2" stroke-width="1.1" stroke-linejoin="round"/>
<line x1="154.90" y1="198.00" x2="170.00" y2="198.00" stroke="#5c5c5c" stroke-width="1.3"/>
<text x="171.40" y="200.30" font-size="6.6" text-anchor="start" fill="#1a1a1a" stroke="#1a1a1a" stroke-width="0.297">WNPI/KC</text>
<line x1="154.90" y1="206.70" x2="170.00" y2="206.70" stroke="#f86262" stroke-width="1.3"/>
<text x="171.40" y="209.00" font-size="6.6" text-anchor="start" fill="#1a1a1a" stroke="#1a1a1a" stroke-width="0.297">U-200W</text>
<line x1="154.90" y1="215.40" x2="170.00" y2="215.40" stroke="#3a8eec" stroke-width="1.3"/>
<text x="171.40" y="217.70" font-size="6.6" text-anchor="start" fill="#1a1a1a" stroke="#1a1a1a" stroke-width="0.297">U-0W-TG</text>
<line x1="154.90" y1="224.80" x2="170.00" y2="224.80" stroke="#30b885" stroke-width="1.3"/>
<text x="171.40" y="227.10" font-size="6.6" text-anchor="start" fill="#1a1a1a" stroke="#1a1a1a" stroke-width="0.297">U-100W-TG</text>
<line x1="154.90" y1="234.00" x2="170.00" y2="234.00" stroke="#dc76f2" stroke-width="1.3"/>
<text x="171.40" y="236.30" font-size="6.6" text-anchor="start" fill="#1a1a1a" stroke="#1a1a1a" stroke-width="0.297">U-200W-TG</text>
<line x1="154.90" y1="243.20" x2="170.00" y2="243.20" stroke="#eea526" stroke-width="1.3"/>
<text x="171.40" y="245.50" font-size="6.6" text-anchor="start" fill="#1a1a1a" stroke="#1a1a1a" stroke-width="0.297">U-300W-TG</text>
<line x1="154.90" y1="252.40" x2="170.00" y2="252.40" stroke="#22d0e4" stroke-width="1.3"/>
<text x="171.40" y="254.70" font-size="6.6" text-anchor="start" fill="#1a1a1a" stroke="#1a1a1a" stroke-width="0.297">U-400W-TG</text>
<rect x="251.00" y="192.80" width="175.60" height="141.50" fill="none" stroke="#161616" stroke-width="1.35"/>
<line x1="251.00" y1="334.30" x2="248.80" y2="334.30" stroke="#161616" stroke-width="1.05"/>
<text x="246.30" y="336.90" font-size="7.5" text-anchor="end" fill="#1a1a1a" stroke="#1a1a1a" stroke-width="0.337">0</text>
<line x1="251.00" y1="318.55" x2="249.60" y2="318.55" stroke="#161616" stroke-width="1.05"/>
<line x1="251.00" y1="302.80" x2="248.80" y2="302.80" stroke="#161616" stroke-width="1.05"/>
<text x="246.30" y="305.40" font-size="7.5" text-anchor="end" fill="#1a1a1a" stroke="#1a1a1a" stroke-width="0.337">50</text>
<line x1="251.00" y1="287.05" x2="249.60" y2="287.05" stroke="#161616" stroke-width="1.05"/>
<line x1="251.00" y1="271.30" x2="248.80" y2="271.30" stroke="#161616" stroke-width="1.05"/>
<text x="246.30" y="273.90" font-size="7.5" text-anchor="end" fill="#1a1a1a" stroke="#1a1a1a" stroke-width="0.337">100</text>
<line x1="251.00" y1="255.55" x2="249.60" y2="255.55" stroke="#161616" stroke-width="1.05"/>
<line x1="251.00" y1="239.80" x2="248.80" y2="239.80" stroke="#161616" stroke-width="1.05"/>
<text x="246.30" y="242.40" font-size="7.5" text-anchor="end" fill="#1a1a1a" stroke="#1a1a1a" stroke-width="0.337">150</text>
<line x1="251.00" y1="224.05" x2="249.60" y2="224.05" stroke="#161616" stroke-width="1.05"/>
<line x1="251.00" y1="208.30" x2="248.80" y2="208.30" stroke="#161616" stroke-width="1.05"/>
<text x="246.30" y="210.90" font-size="7.5" text-anchor="end" fill="#1a1a1a" stroke="#1a1a1a" stroke-width="0.337">200</text>
<text x="231.80" y="262.70" font-size="10.3" text-anchor="middle" fill="#1a1a1a" stroke="#1a1a1a" stroke-width="0.464" transform="rotate(-90 231.80 262.70)">SH content(μmol/g)</text>
<text x="226.00" y="195.50" font-size="14" text-anchor="start" fill="#1a1a1a" stroke="#1a1a1a" stroke-width="0.63">D</text>
<rect x="257.70" y="226.88" width="12.6" height="107.42" fill="#fbd9b7" stroke="#2a2a2a" stroke-width="1.0"/>
<line x1="264.00" y1="225.50" x2="264.00" y2="228.27" stroke="#222" stroke-width="0.8"/>
<line x1="262.00" y1="225.50" x2="266.00" y2="225.50" stroke="#222" stroke-width="0.8"/>
<line x1="262.00" y1="228.27" x2="266.00" y2="228.27" stroke="#222" stroke-width="0.8"/>
<text x="264.00" y="223.30" font-size="7.6" text-anchor="middle" fill="#1a1a1a" stroke="#1a1a1a" stroke-width="0.342">d</text>
<line x1="264.00" y1="334.30" x2="264.00" y2="336.50" stroke="#161616" stroke-width="1.05"/>
<text x="267.00" y="346.00" font-size="7.2" text-anchor="end" fill="#1a1a1a" stroke="#1a1a1a" stroke-width="0.324" transform="rotate(-30 267.00 346.00)">WNPI/KC</text>
<rect x="282.65" y="218.63" width="12.6" height="115.67" fill="#fbd9b7" stroke="#2a2a2a" stroke-width="1.0"/>
<line x1="288.95" y1="217.06" x2="288.95" y2="220.21" stroke="#222" stroke-width="0.8"/>
<line x1="286.95" y1="217.06" x2="290.95" y2="217.06" stroke="#222" stroke-width="0.8"/>
<line x1="286.95" y1="220.21" x2="290.95" y2="220.21" stroke="#222" stroke-width="0.8"/>
<text x="288.95" y="214.86" font-size="7.6" text-anchor="middle" fill="#1a1a1a" stroke="#1a1a1a" stroke-width="0.342">bc</text>
<line x1="288.95" y1="334.30" x2="288.95" y2="336.50" stroke="#161616" stroke-width="1.05"/>
<text x="291.95" y="346.00" font-size="7.2" text-anchor="end" fill="#1a1a1a" stroke="#1a1a1a" stroke-width="0.324" transform="rotate(-30 291.95 346.00)">U-200W</text>
<rect x="307.60" y="223.80" width="12.6" height="110.50" fill="#fbd9b7" stroke="#2a2a2a" stroke-width="1.0"/>
<line x1="313.90" y1="222.22" x2="313.90" y2="225.37" stroke="#222" stroke-width="0.8"/>
<line x1="311.90" y1="222.22" x2="315.90" y2="222.22" stroke="#222" stroke-width="0.8"/>
<line x1="311.90" y1="225.37" x2="315.90" y2="225.37" stroke="#222" stroke-width="0.8"/>
<text x="313.90" y="220.02" font-size="7.6" text-anchor="middle" fill="#1a1a1a" stroke="#1a1a1a" stroke-width="0.342">cd</text>
<line x1="313.90" y1="334.30" x2="313.90" y2="336.50" stroke="#161616" stroke-width="1.05"/>
<text x="316.90" y="346.00" font-size="7.2" text-anchor="end" fill="#1a1a1a" stroke="#1a1a1a" stroke-width="0.324" transform="rotate(-30 316.90 346.00)">U-0W-TG</text>
<rect x="332.55" y="222.48" width="12.6" height="111.82" fill="#fbd9b7" stroke="#2a2a2a" stroke-width="1.0"/>
<line x1="338.85" y1="219.33" x2="338.85" y2="225.62" stroke="#222" stroke-width="0.8"/>
<line x1="336.85" y1="219.33" x2="340.85" y2="219.33" stroke="#222" stroke-width="0.8"/>
<line x1="336.85" y1="225.62" x2="340.85" y2="225.62" stroke="#222" stroke-width="0.8"/>
<text x="338.85" y="217.13" font-size="7.6" text-anchor="middle" fill="#1a1a1a" stroke="#1a1a1a" stroke-width="0.342">bcd</text>
<line x1="338.85" y1="334.30" x2="338.85" y2="336.50" stroke="#161616" stroke-width="1.05"/>
<text x="341.85" y="346.00" font-size="7.2" text-anchor="end" fill="#1a1a1a" stroke="#1a1a1a" stroke-width="0.324" transform="rotate(-30 341.85 346.00)">U-100W-TG</text>
<rect x="357.50" y="214.10" width="12.6" height="120.20" fill="#fbd9b7" stroke="#2a2a2a" stroke-width="1.0"/>
<line x1="363.80" y1="211.89" x2="363.80" y2="216.30" stroke="#222" stroke-width="0.8"/>
<line x1="361.80" y1="211.89" x2="365.80" y2="211.89" stroke="#222" stroke-width="0.8"/>
<line x1="361.80" y1="216.30" x2="365.80" y2="216.30" stroke="#222" stroke-width="0.8"/>
<text x="363.80" y="209.69" font-size="7.6" text-anchor="middle" fill="#1a1a1a" stroke="#1a1a1a" stroke-width="0.342">a</text>
<line x1="363.80" y1="334.30" x2="363.80" y2="336.50" stroke="#161616" stroke-width="1.05"/>
<text x="366.80" y="346.00" font-size="7.2" text-anchor="end" fill="#1a1a1a" stroke="#1a1a1a" stroke-width="0.324" transform="rotate(-30 366.80 346.00)">U-200W-TG</text>
<rect x="382.45" y="217.75" width="12.6" height="116.55" fill="#fbd9b7" stroke="#2a2a2a" stroke-width="1.0"/>
<line x1="388.75" y1="215.23" x2="388.75" y2="220.27" stroke="#222" stroke-width="0.8"/>
<line x1="386.75" y1="215.23" x2="390.75" y2="215.23" stroke="#222" stroke-width="0.8"/>
<line x1="386.75" y1="220.27" x2="390.75" y2="220.27" stroke="#222" stroke-width="0.8"/>
<text x="388.75" y="213.03" font-size="7.6" text-anchor="middle" fill="#1a1a1a" stroke="#1a1a1a" stroke-width="0.342">ab</text>
<line x1="388.75" y1="334.30" x2="388.75" y2="336.50" stroke="#161616" stroke-width="1.05"/>
<text x="391.75" y="346.00" font-size="7.2" text-anchor="end" fill="#1a1a1a" stroke="#1a1a1a" stroke-width="0.324" transform="rotate(-30 391.75 346.00)">U-300W-TG</text>
<rect x="407.40" y="225.37" width="12.6" height="108.93" fill="#fbd9b7" stroke="#2a2a2a" stroke-width="1.0"/>
<line x1="413.70" y1="223.48" x2="413.70" y2="227.26" stroke="#222" stroke-width="0.8"/>
<line x1="411.70" y1="223.48" x2="415.70" y2="223.48" stroke="#222" stroke-width="0.8"/>
<line x1="411.70" y1="227.26" x2="415.70" y2="227.26" stroke="#222" stroke-width="0.8"/>
<text x="413.70" y="221.28" font-size="7.6" text-anchor="middle" fill="#1a1a1a" stroke="#1a1a1a" stroke-width="0.342">d</text>
<line x1="413.70" y1="334.30" x2="413.70" y2="336.50" stroke="#161616" stroke-width="1.05"/>
<text x="416.70" y="346.00" font-size="7.2" text-anchor="end" fill="#1a1a1a" stroke="#1a1a1a" stroke-width="0.324" transform="rotate(-30 416.70 346.00)">U-400W-TG</text>
<rect x="35.20" y="368.90" width="174.40" height="144.40" fill="none" stroke="#161616" stroke-width="1.35"/>
<line x1="39.50" y1="513.30" x2="39.50" y2="514.80" stroke="#161616" stroke-width="1.05"/>
<line x1="57.50" y1="513.30" x2="57.50" y2="515.70" stroke="#161616" stroke-width="1.05"/>
<text x="57.50" y="523.60" font-size="7.4" text-anchor="middle" fill="#1a1a1a" stroke="#1a1a1a" stroke-width="0.333">40</text>
<line x1="75.50" y1="513.30" x2="75.50" y2="514.80" stroke="#161616" stroke-width="1.05"/>
<line x1="93.50" y1="513.30" x2="93.50" y2="515.70" stroke="#161616" stroke-width="1.05"/>
<text x="93.50" y="523.60" font-size="7.4" text-anchor="middle" fill="#1a1a1a" stroke="#1a1a1a" stroke-width="0.333">60</text>
<line x1="111.50" y1="513.30" x2="111.50" y2="514.80" stroke="#161616" stroke-width="1.05"/>
<line x1="129.50" y1="513.30" x2="129.50" y2="515.70" stroke="#161616" stroke-width="1.05"/>
<text x="129.50" y="523.60" font-size="7.4" text-anchor="middle" fill="#1a1a1a" stroke="#1a1a1a" stroke-width="0.333">80</text>
<line x1="147.50" y1="513.30" x2="147.50" y2="514.80" stroke="#161616" stroke-width="1.05"/>
<line x1="165.50" y1="513.30" x2="165.50" y2="515.70" stroke="#161616" stroke-width="1.05"/>
<text x="165.50" y="523.60" font-size="7.4" text-anchor="middle" fill="#1a1a1a" stroke="#1a1a1a" stroke-width="0.333">100</text>
<line x1="183.50" y1="513.30" x2="183.50" y2="514.80" stroke="#161616" stroke-width="1.05"/>
<line x1="201.50" y1="513.30" x2="201.50" y2="515.70" stroke="#161616" stroke-width="1.05"/>
<text x="201.50" y="523.60" font-size="7.4" text-anchor="middle" fill="#1a1a1a" stroke="#1a1a1a" stroke-width="0.333">120</text>
<text x="21.30" y="362.90" font-size="13" text-anchor="start" fill="#1a1a1a" stroke="#1a1a1a" stroke-width="0.585">E</text>
<text x="131.00" y="537.70" font-size="10.0" text-anchor="middle" fill="#1a1a1a" stroke="#1a1a1a" stroke-width="0.45">Temperature(℃)</text>
<text x="26.60" y="439.80" font-size="10.2" text-anchor="middle" fill="#1a1a1a" stroke="#1a1a1a" stroke-width="0.459" transform="rotate(-90 26.60 439.80)">Heat flow(mW/mg)</text>
<path d="M35.80,484.60 L36.38,484.57 L36.96,484.55 L37.54,484.53 L38.12,484.51 L38.70,484.51 L39.28,484.50 L39.85,484.50 L40.43,484.51 L41.01,484.52 L41.59,484.53 L42.17,484.55 L42.75,484.58 L43.33,484.60 L43.91,484.64 L44.49,484.67 L45.07,484.71 L45.65,484.76 L46.23,484.80 L46.81,484.86 L47.39,484.91 L47.96,484.97 L48.54,485.03 L49.12,485.10 L49.70,485.17 L50.28,485.24 L50.86,485.32 L51.44,485.40 L52.02,485.48 L52.60,485.57 L53.18,485.66 L53.76,485.75 L54.34,485.85 L54.92,485.95 L55.49,486.05 L56.07,486.15 L56.65,486.26 L57.23,486.37 L57.81,486.48 L58.39,486.59 L58.97,486.71 L59.55,486.83 L60.13,486.95 L60.71,487.08 L61.29,487.20 L61.87,487.33 L62.45,487.46 L63.03,487.59 L63.60,487.73 L64.18,487.86 L64.76,488.00 L65.34,488.14 L65.92,488.28 L66.50,488.42 L67.08,488.57 L67.66,488.71 L68.24,488.86 L68.82,489.01 L69.40,489.16 L69.98,489.31 L70.56,489.46 L71.14,489.61 L71.71,489.77 L72.29,489.92 L72.87,490.08 L73.45,490.23 L74.03,490.39 L74.61,490.55 L75.19,490.71 L75.77,490.86 L76.35,491.02 L76.93,491.18 L77.51,491.34 L78.09,491.50 L78.67,491.66 L79.24,491.82 L79.82,491.98 L80.40,492.14 L80.98,492.30 L81.56,492.46 L82.14,492.62 L82.72,492.78 L83.30,492.94 L83.88,493.10 L84.46,493.26 L85.04,493.42 L85.62,493.57 L86.20,493.73 L86.78,493.89 L87.35,494.04 L87.93,494.19 L88.51,494.35 L89.09,494.50 L89.67,494.65 L90.25,494.80 L90.83,494.95 L91.41,495.09 L91.99,495.24 L92.57,495.38 L93.15,495.53 L93.73,495.67 L94.31,495.81 L94.88,495.94 L95.46,496.08 L96.04,496.21 L96.62,496.35 L97.20,496.48 L97.78,496.61 L98.36,496.73 L98.94,496.86 L99.52,496.98 L100.10,497.10 L100.68,497.21 L101.26,497.33 L101.84,497.44 L102.42,497.55 L102.99,497.66 L103.57,497.76 L104.15,497.86 L104.73,497.96 L105.31,498.06 L105.89,498.15 L106.47,498.24 L107.05,498.32 L107.63,498.41 L108.21,498.49 L108.79,498.56 L109.37,498.64 L109.95,498.71 L110.53,498.77 L111.10,498.84 L111.68,498.90 L112.26,498.95 L112.84,499.00 L113.42,499.05 L114.00,499.10 L114.58,499.14 L115.16,499.17 L115.74,499.21 L116.32,499.23 L116.90,499.26 L117.48,499.28 L118.06,499.30 L118.63,499.31 L119.21,499.32 L119.79,499.33 L120.37,499.34 L120.95,499.34 L121.53,499.33 L122.11,499.32 L122.69,499.31 L123.27,499.30 L123.85,499.28 L124.43,499.26 L125.01,499.24 L125.59,499.21 L126.17,499.18 L126.74,499.15 L127.32,499.11 L127.90,499.07 L128.48,499.03 L129.06,498.98 L129.64,498.93 L130.22,498.88 L130.80,498.83 L131.38,498.77 L131.96,498.71 L132.54,498.64 L133.12,498.58 L133.70,498.51 L134.27,498.43 L134.85,498.36 L135.43,498.28 L136.01,498.20 L136.59,498.11 L137.17,498.03 L137.75,497.94 L138.33,497.85 L138.91,497.75 L139.49,497.65 L140.07,497.55 L140.65,497.45 L141.23,497.34 L141.81,497.24 L142.38,497.13 L142.96,497.01 L143.54,496.90 L144.12,496.78 L144.70,496.66 L145.28,496.54 L145.86,496.42 L146.44,496.29 L147.02,496.16 L147.60,496.03 L148.18,495.89 L148.76,495.76 L149.34,495.62 L149.92,495.48 L150.49,495.34 L151.07,495.20 L151.65,495.05 L152.23,494.90 L152.81,494.75 L153.39,494.60 L153.97,494.44 L154.55,494.29 L155.13,494.13 L155.71,493.97 L156.29,493.81 L156.87,493.65 L157.45,493.48 L158.02,493.32 L158.60,493.15 L159.18,492.98 L159.76,492.80 L160.34,492.63 L160.92,492.46 L161.50,492.28 L162.08,492.10 L162.66,491.92 L163.24,491.74 L163.82,491.56 L164.40,491.37 L164.98,491.19 L165.56,491.00 L166.13,490.81 L166.71,490.63 L167.29,490.43 L167.87,490.24 L168.45,490.05 L169.03,489.86 L169.61,489.66 L170.19,489.46 L170.77,489.27 L171.35,489.07 L171.93,488.87 L172.51,488.67 L173.09,488.46 L173.66,488.26 L174.24,488.06 L174.82,487.85 L175.40,487.65 L175.98,487.44 L176.56,487.23 L177.14,487.02 L177.72,486.81 L178.30,486.60 L178.88,486.39 L179.46,486.18 L180.04,485.97 L180.62,485.76 L181.20,485.54 L181.77,485.33 L182.35,485.12 L182.93,484.90 L183.51,484.69 L184.09,484.47 L184.67,484.25 L185.25,484.04 L185.83,483.82 L186.41,483.60 L186.99,483.38 L187.57,483.16 L188.15,482.95 L188.73,482.73 L189.31,482.51 L189.88,482.29 L190.46,482.07 L191.04,481.85 L191.62,481.63 L192.20,481.41 L192.78,481.19 L193.36,480.97 L193.94,480.75 L194.52,480.53 L195.10,480.31 L195.68,480.09 L196.26,479.87 L196.84,479.65 L197.41,479.43 L197.99,479.21 L198.57,478.99 L199.15,478.77 L199.73,478.56 L200.31,478.34 L200.89,478.12 L201.47,477.90 L202.05,477.68 L202.63,477.47 L203.21,477.25 L203.79,477.04 L204.37,476.82 L204.95,476.61 L205.52,476.39 L206.10,476.18 L206.68,475.96 L207.26,475.75 L207.84,475.54 L208.42,475.33 L209.00,475.12" fill="none" stroke="#5c5c5c" stroke-width="1.1" stroke-linejoin="round"/>
<line x1="113.00" y1="496.10" x2="113.00" y2="502.50" stroke="#222" stroke-width="0.7"/>
<path d="M35.80,463.06 L36.38,463.10 L36.96,463.14 L37.54,463.19 L38.12,463.25 L38.70,463.31 L39.28,463.37 L39.85,463.45 L40.43,463.52 L41.01,463.60 L41.59,463.69 L42.17,463.78 L42.75,463.88 L43.33,463.98 L43.91,464.09 L44.49,464.20 L45.07,464.31 L45.65,464.44 L46.23,464.56 L46.81,464.69 L47.39,464.83 L47.96,464.96 L48.54,465.11 L49.12,465.25 L49.70,465.40 L50.28,465.56 L50.86,465.72 L51.44,465.88 L52.02,466.05 L52.60,466.22 L53.18,466.39 L53.76,466.57 L54.34,466.75 L54.92,466.94 L55.49,467.12 L56.07,467.31 L56.65,467.51 L57.23,467.70 L57.81,467.91 L58.39,468.11 L58.97,468.31 L59.55,468.52 L60.13,468.73 L60.71,468.95 L61.29,469.16 L61.87,469.38 L62.45,469.60 L63.03,469.83 L63.60,470.05 L64.18,470.28 L64.76,470.51 L65.34,470.74 L65.92,470.98 L66.50,471.21 L67.08,471.45 L67.66,471.69 L68.24,471.93 L68.82,472.17 L69.40,472.42 L69.98,472.66 L70.56,472.91 L71.14,473.16 L71.71,473.41 L72.29,473.66 L72.87,473.91 L73.45,474.16 L74.03,474.41 L74.61,474.67 L75.19,474.92 L75.77,475.17 L76.35,475.43 L76.93,475.69 L77.51,475.94 L78.09,476.20 L78.67,476.45 L79.24,476.71 L79.82,476.97 L80.40,477.22 L80.98,477.48 L81.56,477.74 L82.14,477.99 L82.72,478.25 L83.30,478.51 L83.88,478.76 L84.46,479.01 L85.04,479.27 L85.62,479.52 L86.20,479.77 L86.78,480.03 L87.35,480.28 L87.93,480.52 L88.51,480.77 L89.09,481.02 L89.67,481.27 L90.25,481.51 L90.83,481.75 L91.41,481.99 L91.99,482.23 L92.57,482.47 L93.15,482.71 L93.73,482.94 L94.31,483.18 L94.88,483.41 L95.46,483.63 L96.04,483.86 L96.62,484.08 L97.20,484.30 L97.78,484.52 L98.36,484.74 L98.94,484.95 L99.52,485.16 L100.10,485.36 L100.68,485.57 L101.26,485.77 L101.84,485.96 L102.42,486.16 L102.99,486.35 L103.57,486.53 L104.15,486.71 L104.73,486.89 L105.31,487.07 L105.89,487.24 L106.47,487.40 L107.05,487.56 L107.63,487.72 L108.21,487.87 L108.79,488.02 L109.37,488.17 L109.95,488.31 L110.53,488.45 L111.10,488.58 L111.68,488.71 L112.26,488.83 L112.84,488.95 L113.42,489.06 L114.00,489.17 L114.58,489.27 L115.16,489.37 L115.74,489.47 L116.32,489.56 L116.90,489.65 L117.48,489.73 L118.06,489.80 L118.63,489.87 L119.21,489.94 L119.79,490.00 L120.37,490.05 L120.95,490.10 L121.53,490.15 L122.11,490.19 L122.69,490.23 L123.27,490.25 L123.85,490.28 L124.43,490.30 L125.01,490.31 L125.59,490.32 L126.17,490.32 L126.74,490.32 L127.32,490.31 L127.90,490.30 L128.48,490.28 L129.06,490.25 L129.64,490.23 L130.22,490.19 L130.80,490.15 L131.38,490.11 L131.96,490.06 L132.54,490.01 L133.12,489.95 L133.70,489.89 L134.27,489.83 L134.85,489.76 L135.43,489.68 L136.01,489.60 L136.59,489.52 L137.17,489.43 L137.75,489.34 L138.33,489.25 L138.91,489.15 L139.49,489.05 L140.07,488.94 L140.65,488.83 L141.23,488.72 L141.81,488.60 L142.38,488.48 L142.96,488.35 L143.54,488.23 L144.12,488.10 L144.70,487.96 L145.28,487.82 L145.86,487.68 L146.44,487.54 L147.02,487.40 L147.60,487.25 L148.18,487.10 L148.76,486.94 L149.34,486.78 L149.92,486.62 L150.49,486.46 L151.07,486.30 L151.65,486.13 L152.23,485.96 L152.81,485.79 L153.39,485.62 L153.97,485.44 L154.55,485.27 L155.13,485.09 L155.71,484.90 L156.29,484.72 L156.87,484.54 L157.45,484.35 L158.02,484.16 L158.60,483.97 L159.18,483.78 L159.76,483.59 L160.34,483.40 L160.92,483.20 L161.50,483.00 L162.08,482.81 L162.66,482.61 L163.24,482.41 L163.82,482.21 L164.40,482.01 L164.98,481.81 L165.56,481.60 L166.13,481.40 L166.71,481.20 L167.29,480.99 L167.87,480.79 L168.45,480.58 L169.03,480.38 L169.61,480.17 L170.19,479.97 L170.77,479.76 L171.35,479.56 L171.93,479.35 L172.51,479.15 L173.09,478.94 L173.66,478.74 L174.24,478.53 L174.82,478.33 L175.40,478.12 L175.98,477.92 L176.56,477.72 L177.14,477.51 L177.72,477.31 L178.30,477.11 L178.88,476.91 L179.46,476.71 L180.04,476.52 L180.62,476.32 L181.20,476.12 L181.77,475.93 L182.35,475.74 L182.93,475.54 L183.51,475.35 L184.09,475.16 L184.67,474.98 L185.25,474.79 L185.83,474.61 L186.41,474.42 L186.99,474.24 L187.57,474.06 L188.15,473.89 L188.73,473.71 L189.31,473.54 L189.88,473.37 L190.46,473.20 L191.04,473.03 L191.62,472.87 L192.20,472.70 L192.78,472.54 L193.36,472.39 L193.94,472.23 L194.52,472.08 L195.10,471.93 L195.68,471.78 L196.26,471.64 L196.84,471.50 L197.41,471.36 L197.99,471.22 L198.57,471.09 L199.15,470.96 L199.73,470.84 L200.31,470.71 L200.89,470.60 L201.47,470.48 L202.05,470.37 L202.63,470.26 L203.21,470.15 L203.79,470.05 L204.37,469.95 L204.95,469.86 L205.52,469.77 L206.10,469.68 L206.68,469.60 L207.26,469.52 L207.84,469.45 L208.42,469.38 L209.00,469.31" fill="none" stroke="#f86262" stroke-width="1.1" stroke-linejoin="round"/>
<line x1="125.00" y1="486.90" x2="125.00" y2="493.30" stroke="#222" stroke-width="0.7"/>
<path d="M35.80,449.34 L36.38,449.49 L36.96,449.63 L37.54,449.78 L38.12,449.93 L38.70,450.08 L39.28,450.23 L39.85,450.39 L40.43,450.54 L41.01,450.70 L41.59,450.86 L42.17,451.02 L42.75,451.19 L43.33,451.35 L43.91,451.52 L44.49,451.69 L45.07,451.86 L45.65,452.03 L46.23,452.20 L46.81,452.38 L47.39,452.55 L47.96,452.73 L48.54,452.91 L49.12,453.09 L49.70,453.28 L50.28,453.46 L50.86,453.65 L51.44,453.84 L52.02,454.03 L52.60,454.22 L53.18,454.41 L53.76,454.60 L54.34,454.80 L54.92,455.00 L55.49,455.20 L56.07,455.40 L56.65,455.60 L57.23,455.81 L57.81,456.01 L58.39,456.22 L58.97,456.43 L59.55,456.64 L60.13,456.85 L60.71,457.06 L61.29,457.28 L61.87,457.49 L62.45,457.71 L63.03,457.93 L63.60,458.15 L64.18,458.37 L64.76,458.60 L65.34,458.82 L65.92,459.05 L66.50,459.28 L67.08,459.51 L67.66,459.74 L68.24,459.97 L68.82,460.21 L69.40,460.44 L69.98,460.68 L70.56,460.92 L71.14,461.16 L71.71,461.40 L72.29,461.64 L72.87,461.89 L73.45,462.13 L74.03,462.38 L74.61,462.63 L75.19,462.88 L75.77,463.13 L76.35,463.38 L76.93,463.63 L77.51,463.89 L78.09,464.15 L78.67,464.40 L79.24,464.66 L79.82,464.92 L80.40,465.19 L80.98,465.45 L81.56,465.71 L82.14,465.98 L82.72,466.25 L83.30,466.51 L83.88,466.78 L84.46,467.05 L85.04,467.33 L85.62,467.60 L86.20,467.87 L86.78,468.15 L87.35,468.43 L87.93,468.71 L88.51,468.99 L89.09,469.27 L89.67,469.55 L90.25,469.83 L90.83,470.12 L91.41,470.40 L91.99,470.69 L92.57,470.97 L93.15,471.26 L93.73,471.55 L94.31,471.83 L94.88,472.12 L95.46,472.40 L96.04,472.68 L96.62,472.96 L97.20,473.24 L97.78,473.51 L98.36,473.79 L98.94,474.06 L99.52,474.33 L100.10,474.59 L100.68,474.85 L101.26,475.11 L101.84,475.36 L102.42,475.61 L102.99,475.85 L103.57,476.09 L104.15,476.32 L104.73,476.55 L105.31,476.77 L105.89,476.99 L106.47,477.20 L107.05,477.40 L107.63,477.60 L108.21,477.79 L108.79,477.97 L109.37,478.15 L109.95,478.33 L110.53,478.49 L111.10,478.65 L111.68,478.81 L112.26,478.96 L112.84,479.10 L113.42,479.23 L114.00,479.36 L114.58,479.48 L115.16,479.60 L115.74,479.71 L116.32,479.81 L116.90,479.91 L117.48,480.00 L118.06,480.08 L118.63,480.16 L119.21,480.23 L119.79,480.29 L120.37,480.35 L120.95,480.39 L121.53,480.44 L122.11,480.47 L122.69,480.50 L123.27,480.52 L123.85,480.53 L124.43,480.54 L125.01,480.54 L125.59,480.53 L126.17,480.52 L126.74,480.50 L127.32,480.47 L127.90,480.44 L128.48,480.40 L129.06,480.35 L129.64,480.30 L130.22,480.24 L130.80,480.18 L131.38,480.11 L131.96,480.03 L132.54,479.95 L133.12,479.86 L133.70,479.77 L134.27,479.67 L134.85,479.57 L135.43,479.46 L136.01,479.34 L136.59,479.22 L137.17,479.10 L137.75,478.97 L138.33,478.83 L138.91,478.70 L139.49,478.55 L140.07,478.40 L140.65,478.25 L141.23,478.09 L141.81,477.93 L142.38,477.76 L142.96,477.59 L143.54,477.42 L144.12,477.24 L144.70,477.06 L145.28,476.87 L145.86,476.68 L146.44,476.49 L147.02,476.29 L147.60,476.09 L148.18,475.89 L148.76,475.68 L149.34,475.47 L149.92,475.25 L150.49,475.04 L151.07,474.82 L151.65,474.60 L152.23,474.37 L152.81,474.14 L153.39,473.91 L153.97,473.68 L154.55,473.44 L155.13,473.21 L155.71,472.97 L156.29,472.72 L156.87,472.48 L157.45,472.23 L158.02,471.98 L158.60,471.73 L159.18,471.48 L159.76,471.23 L160.34,470.97 L160.92,470.72 L161.50,470.46 L162.08,470.20 L162.66,469.94 L163.24,469.68 L163.82,469.42 L164.40,469.16 L164.98,468.89 L165.56,468.63 L166.13,468.36 L166.71,468.10 L167.29,467.83 L167.87,467.56 L168.45,467.29 L169.03,467.03 L169.61,466.76 L170.19,466.49 L170.77,466.22 L171.35,465.96 L171.93,465.69 L172.51,465.42 L173.09,465.16 L173.66,464.89 L174.24,464.62 L174.82,464.36 L175.40,464.10 L175.98,463.83 L176.56,463.57 L177.14,463.31 L177.72,463.05 L178.30,462.79 L178.88,462.53 L179.46,462.28 L180.04,462.02 L180.62,461.77 L181.20,461.52 L181.77,461.27 L182.35,461.02 L182.93,460.77 L183.51,460.53 L184.09,460.28 L184.67,460.04 L185.25,459.81 L185.83,459.57 L186.41,459.34 L186.99,459.11 L187.57,458.88 L188.15,458.65 L188.73,458.43 L189.31,458.21 L189.88,457.99 L190.46,457.78 L191.04,457.57 L191.62,457.36 L192.20,457.15 L192.78,456.95 L193.36,456.76 L193.94,456.56 L194.52,456.37 L195.10,456.19 L195.68,456.00 L196.26,455.82 L196.84,455.65 L197.41,455.48 L197.99,455.31 L198.57,455.15 L199.15,454.99 L199.73,454.84 L200.31,454.69 L200.89,454.54 L201.47,454.40 L202.05,454.27 L202.63,454.14 L203.21,454.01 L203.79,453.89 L204.37,453.78 L204.95,453.67 L205.52,453.56 L206.10,453.46 L206.68,453.37 L207.26,453.28 L207.84,453.20 L208.42,453.12 L209.00,453.05" fill="none" stroke="#3a8eec" stroke-width="1.1" stroke-linejoin="round"/>
<line x1="123.20" y1="476.80" x2="123.20" y2="483.20" stroke="#222" stroke-width="0.7"/>
<path d="M35.80,438.07 L36.38,438.07 L36.96,438.07 L37.54,438.07 L38.12,438.08 L38.70,438.09 L39.28,438.11 L39.85,438.14 L40.43,438.16 L41.01,438.20 L41.59,438.23 L42.17,438.28 L42.75,438.32 L43.33,438.37 L43.91,438.43 L44.49,438.49 L45.07,438.56 L45.65,438.62 L46.23,438.70 L46.81,438.78 L47.39,438.86 L47.96,438.95 L48.54,439.04 L49.12,439.13 L49.70,439.23 L50.28,439.33 L50.86,439.44 L51.44,439.55 L52.02,439.67 L52.60,439.79 L53.18,439.91 L53.76,440.04 L54.34,440.18 L54.92,440.31 L55.49,440.45 L56.07,440.60 L56.65,440.74 L57.23,440.89 L57.81,441.05 L58.39,441.21 L58.97,441.37 L59.55,441.54 L60.13,441.71 L60.71,441.88 L61.29,442.06 L61.87,442.24 L62.45,442.43 L63.03,442.61 L63.60,442.81 L64.18,443.00 L64.76,443.20 L65.34,443.40 L65.92,443.61 L66.50,443.82 L67.08,444.03 L67.66,444.24 L68.24,444.46 L68.82,444.68 L69.40,444.91 L69.98,445.14 L70.56,445.37 L71.14,445.60 L71.71,445.84 L72.29,446.08 L72.87,446.32 L73.45,446.57 L74.03,446.82 L74.61,447.07 L75.19,447.33 L75.77,447.58 L76.35,447.85 L76.93,448.11 L77.51,448.38 L78.09,448.64 L78.67,448.92 L79.24,449.19 L79.82,449.47 L80.40,449.75 L80.98,450.03 L81.56,450.32 L82.14,450.60 L82.72,450.89 L83.30,451.18 L83.88,451.48 L84.46,451.78 L85.04,452.08 L85.62,452.38 L86.20,452.68 L86.78,452.99 L87.35,453.30 L87.93,453.61 L88.51,453.92 L89.09,454.24 L89.67,454.55 L90.25,454.87 L90.83,455.20 L91.41,455.52 L91.99,455.84 L92.57,456.17 L93.15,456.49 L93.73,456.82 L94.31,457.15 L94.88,457.47 L95.46,457.80 L96.04,458.12 L96.62,458.45 L97.20,458.77 L97.78,459.09 L98.36,459.41 L98.94,459.72 L99.52,460.03 L100.10,460.34 L100.68,460.65 L101.26,460.95 L101.84,461.25 L102.42,461.54 L102.99,461.83 L103.57,462.12 L104.15,462.39 L104.73,462.67 L105.31,462.93 L105.89,463.19 L106.47,463.45 L107.05,463.70 L107.63,463.94 L108.21,464.18 L108.79,464.41 L109.37,464.63 L109.95,464.85 L110.53,465.06 L111.10,465.27 L111.68,465.46 L112.26,465.66 L112.84,465.84 L113.42,466.02 L114.00,466.19 L114.58,466.36 L115.16,466.52 L115.74,466.67 L116.32,466.81 L116.90,466.95 L117.48,467.08 L118.06,467.21 L118.63,467.32 L119.21,467.43 L119.79,467.54 L120.37,467.63 L120.95,467.72 L121.53,467.80 L122.11,467.88 L122.69,467.94 L123.27,468.00 L123.85,468.06 L124.43,468.10 L125.01,468.14 L125.59,468.17 L126.17,468.19 L126.74,468.20 L127.32,468.21 L127.90,468.21 L128.48,468.20 L129.06,468.18 L129.64,468.16 L130.22,468.13 L130.80,468.09 L131.38,468.04 L131.96,467.98 L132.54,467.92 L133.12,467.85 L133.70,467.78 L134.27,467.69 L134.85,467.60 L135.43,467.50 L136.01,467.40 L136.59,467.29 L137.17,467.18 L137.75,467.05 L138.33,466.93 L138.91,466.79 L139.49,466.66 L140.07,466.51 L140.65,466.36 L141.23,466.21 L141.81,466.05 L142.38,465.88 L142.96,465.72 L143.54,465.54 L144.12,465.36 L144.70,465.18 L145.28,465.00 L145.86,464.81 L146.44,464.61 L147.02,464.42 L147.60,464.21 L148.18,464.01 L148.76,463.80 L149.34,463.59 L149.92,463.38 L150.49,463.16 L151.07,462.95 L151.65,462.72 L152.23,462.50 L152.81,462.28 L153.39,462.05 L153.97,461.82 L154.55,461.59 L155.13,461.36 L155.71,461.12 L156.29,460.89 L156.87,460.65 L157.45,460.41 L158.02,460.18 L158.60,459.94 L159.18,459.70 L159.76,459.46 L160.34,459.22 L160.92,458.98 L161.50,458.74 L162.08,458.50 L162.66,458.26 L163.24,458.02 L163.82,457.78 L164.40,457.55 L164.98,457.31 L165.56,457.07 L166.13,456.84 L166.71,456.61 L167.29,456.38 L167.87,456.15 L168.45,455.92 L169.03,455.69 L169.61,455.47 L170.19,455.25 L170.77,455.03 L171.35,454.81 L171.93,454.60 L172.51,454.39 L173.09,454.18 L173.66,453.97 L174.24,453.76 L174.82,453.56 L175.40,453.36 L175.98,453.16 L176.56,452.96 L177.14,452.76 L177.72,452.56 L178.30,452.37 L178.88,452.17 L179.46,451.98 L180.04,451.79 L180.62,451.60 L181.20,451.41 L181.77,451.22 L182.35,451.03 L182.93,450.84 L183.51,450.66 L184.09,450.47 L184.67,450.29 L185.25,450.10 L185.83,449.92 L186.41,449.73 L186.99,449.55 L187.57,449.37 L188.15,449.18 L188.73,449.00 L189.31,448.81 L189.88,448.63 L190.46,448.44 L191.04,448.26 L191.62,448.07 L192.20,447.89 L192.78,447.70 L193.36,447.52 L193.94,447.33 L194.52,447.14 L195.10,446.95 L195.68,446.76 L196.26,446.57 L196.84,446.38 L197.41,446.18 L197.99,445.99 L198.57,445.79 L199.15,445.59 L199.73,445.39 L200.31,445.19 L200.89,444.99 L201.47,444.79 L202.05,444.58 L202.63,444.37 L203.21,444.16 L203.79,443.95 L204.37,443.74 L204.95,443.52 L205.52,443.30 L206.10,443.08 L206.68,442.86 L207.26,442.63 L207.84,442.40 L208.42,442.17 L209.00,441.94" fill="none" stroke="#30b885" stroke-width="1.1" stroke-linejoin="round"/>
<line x1="129.60" y1="464.80" x2="129.60" y2="471.20" stroke="#222" stroke-width="0.7"/>
<path d="M35.80,423.87 L36.38,423.98 L36.96,424.09 L37.54,424.19 L38.12,424.30 L38.70,424.40 L39.28,424.51 L39.85,424.61 L40.43,424.72 L41.01,424.82 L41.59,424.93 L42.17,425.03 L42.75,425.14 L43.33,425.25 L43.91,425.35 L44.49,425.46 L45.07,425.57 L45.65,425.68 L46.23,425.78 L46.81,425.89 L47.39,426.00 L47.96,426.11 L48.54,426.23 L49.12,426.34 L49.70,426.45 L50.28,426.57 L50.86,426.68 L51.44,426.80 L52.02,426.91 L52.60,427.03 L53.18,427.15 L53.76,427.27 L54.34,427.40 L54.92,427.52 L55.49,427.64 L56.07,427.77 L56.65,427.90 L57.23,428.03 L57.81,428.16 L58.39,428.29 L58.97,428.42 L59.55,428.56 L60.13,428.69 L60.71,428.83 L61.29,428.97 L61.87,429.12 L62.45,429.26 L63.03,429.41 L63.60,429.56 L64.18,429.71 L64.76,429.86 L65.34,430.02 L65.92,430.17 L66.50,430.33 L67.08,430.50 L67.66,430.66 L68.24,430.83 L68.82,431.00 L69.40,431.17 L69.98,431.34 L70.56,431.52 L71.14,431.70 L71.71,431.88 L72.29,432.07 L72.87,432.25 L73.45,432.44 L74.03,432.64 L74.61,432.84 L75.19,433.03 L75.77,433.24 L76.35,433.44 L76.93,433.65 L77.51,433.86 L78.09,434.08 L78.67,434.30 L79.24,434.52 L79.82,434.75 L80.40,434.98 L80.98,435.21 L81.56,435.44 L82.14,435.68 L82.72,435.93 L83.30,436.17 L83.88,436.42 L84.46,436.68 L85.04,436.94 L85.62,437.20 L86.20,437.47 L86.78,437.74 L87.35,438.01 L87.93,438.29 L88.51,438.57 L89.09,438.86 L89.67,439.15 L90.25,439.44 L90.83,439.74 L91.41,440.05 L91.99,440.35 L92.57,440.66 L93.15,440.97 L93.73,441.29 L94.31,441.60 L94.88,441.92 L95.46,442.24 L96.04,442.55 L96.62,442.87 L97.20,443.19 L97.78,443.51 L98.36,443.83 L98.94,444.14 L99.52,444.45 L100.10,444.76 L100.68,445.07 L101.26,445.38 L101.84,445.68 L102.42,445.98 L102.99,446.27 L103.57,446.56 L104.15,446.84 L104.73,447.12 L105.31,447.39 L105.89,447.66 L106.47,447.92 L107.05,448.18 L107.63,448.42 L108.21,448.67 L108.79,448.90 L109.37,449.14 L109.95,449.36 L110.53,449.58 L111.10,449.79 L111.68,450.00 L112.26,450.20 L112.84,450.40 L113.42,450.59 L114.00,450.77 L114.58,450.95 L115.16,451.12 L115.74,451.28 L116.32,451.44 L116.90,451.60 L117.48,451.74 L118.06,451.88 L118.63,452.02 L119.21,452.15 L119.79,452.27 L120.37,452.38 L120.95,452.49 L121.53,452.60 L122.11,452.70 L122.69,452.79 L123.27,452.87 L123.85,452.95 L124.43,453.02 L125.01,453.09 L125.59,453.15 L126.17,453.20 L126.74,453.25 L127.32,453.29 L127.90,453.33 L128.48,453.36 L129.06,453.38 L129.64,453.39 L130.22,453.40 L130.80,453.41 L131.38,453.40 L131.96,453.39 L132.54,453.38 L133.12,453.35 L133.70,453.33 L134.27,453.29 L134.85,453.25 L135.43,453.20 L136.01,453.14 L136.59,453.08 L137.17,453.02 L137.75,452.94 L138.33,452.86 L138.91,452.78 L139.49,452.68 L140.07,452.59 L140.65,452.49 L141.23,452.38 L141.81,452.27 L142.38,452.15 L142.96,452.03 L143.54,451.90 L144.12,451.77 L144.70,451.64 L145.28,451.50 L145.86,451.36 L146.44,451.21 L147.02,451.07 L147.60,450.91 L148.18,450.76 L148.76,450.60 L149.34,450.44 L149.92,450.28 L150.49,450.12 L151.07,449.95 L151.65,449.78 L152.23,449.61 L152.81,449.44 L153.39,449.27 L153.97,449.09 L154.55,448.92 L155.13,448.74 L155.71,448.56 L156.29,448.39 L156.87,448.21 L157.45,448.03 L158.02,447.86 L158.60,447.68 L159.18,447.50 L159.76,447.33 L160.34,447.15 L160.92,446.98 L161.50,446.80 L162.08,446.63 L162.66,446.46 L163.24,446.29 L163.82,446.13 L164.40,445.96 L164.98,445.80 L165.56,445.64 L166.13,445.48 L166.71,445.33 L167.29,445.18 L167.87,445.03 L168.45,444.88 L169.03,444.74 L169.61,444.60 L170.19,444.47 L170.77,444.34 L171.35,444.21 L171.93,444.09 L172.51,443.97 L173.09,443.85 L173.66,443.74 L174.24,443.63 L174.82,443.52 L175.40,443.41 L175.98,443.31 L176.56,443.20 L177.14,443.10 L177.72,443.00 L178.30,442.90 L178.88,442.81 L179.46,442.71 L180.04,442.61 L180.62,442.52 L181.20,442.42 L181.77,442.32 L182.35,442.23 L182.93,442.13 L183.51,442.03 L184.09,441.93 L184.67,441.83 L185.25,441.73 L185.83,441.63 L186.41,441.53 L186.99,441.42 L187.57,441.31 L188.15,441.20 L188.73,441.09 L189.31,440.97 L189.88,440.85 L190.46,440.73 L191.04,440.60 L191.62,440.47 L192.20,440.34 L192.78,440.20 L193.36,440.06 L193.94,439.91 L194.52,439.76 L195.10,439.61 L195.68,439.44 L196.26,439.28 L196.84,439.11 L197.41,438.93 L197.99,438.74 L198.57,438.56 L199.15,438.36 L199.73,438.16 L200.31,437.95 L200.89,437.73 L201.47,437.51 L202.05,437.28 L202.63,437.04 L203.21,436.79 L203.79,436.54 L204.37,436.27 L204.95,436.00 L205.52,435.72 L206.10,435.43 L206.68,435.13 L207.26,434.83 L207.84,434.51 L208.42,434.18 L209.00,433.85" fill="none" stroke="#dc76f2" stroke-width="1.1" stroke-linejoin="round"/>
<line x1="136.10" y1="450.00" x2="136.10" y2="456.40" stroke="#222" stroke-width="0.7"/>
<path d="M35.80,410.77 L36.38,410.85 L36.96,410.93 L37.54,411.00 L38.12,411.09 L38.70,411.17 L39.28,411.25 L39.85,411.34 L40.43,411.43 L41.01,411.52 L41.59,411.61 L42.17,411.71 L42.75,411.81 L43.33,411.90 L43.91,412.01 L44.49,412.11 L45.07,412.21 L45.65,412.32 L46.23,412.43 L46.81,412.54 L47.39,412.66 L47.96,412.77 L48.54,412.89 L49.12,413.01 L49.70,413.13 L50.28,413.26 L50.86,413.38 L51.44,413.51 L52.02,413.64 L52.60,413.78 L53.18,413.91 L53.76,414.05 L54.34,414.19 L54.92,414.33 L55.49,414.47 L56.07,414.62 L56.65,414.77 L57.23,414.92 L57.81,415.07 L58.39,415.22 L58.97,415.38 L59.55,415.54 L60.13,415.70 L60.71,415.86 L61.29,416.03 L61.87,416.19 L62.45,416.36 L63.03,416.54 L63.60,416.71 L64.18,416.89 L64.76,417.06 L65.34,417.25 L65.92,417.43 L66.50,417.61 L67.08,417.80 L67.66,417.99 L68.24,418.18 L68.82,418.37 L69.40,418.57 L69.98,418.77 L70.56,418.97 L71.14,419.17 L71.71,419.38 L72.29,419.58 L72.87,419.79 L73.45,420.01 L74.03,420.22 L74.61,420.44 L75.19,420.65 L75.77,420.88 L76.35,421.10 L76.93,421.32 L77.51,421.55 L78.09,421.78 L78.67,422.01 L79.24,422.25 L79.82,422.49 L80.40,422.72 L80.98,422.97 L81.56,423.21 L82.14,423.46 L82.72,423.70 L83.30,423.95 L83.88,424.21 L84.46,424.46 L85.04,424.72 L85.62,424.98 L86.20,425.24 L86.78,425.51 L87.35,425.77 L87.93,426.04 L88.51,426.31 L89.09,426.59 L89.67,426.86 L90.25,427.14 L90.83,427.42 L91.41,427.71 L91.99,427.99 L92.57,428.28 L93.15,428.56 L93.73,428.85 L94.31,429.14 L94.88,429.43 L95.46,429.72 L96.04,430.01 L96.62,430.29 L97.20,430.58 L97.78,430.86 L98.36,431.15 L98.94,431.43 L99.52,431.71 L100.10,431.99 L100.68,432.26 L101.26,432.54 L101.84,432.80 L102.42,433.07 L102.99,433.33 L103.57,433.59 L104.15,433.84 L104.73,434.09 L105.31,434.33 L105.89,434.57 L106.47,434.81 L107.05,435.03 L107.63,435.26 L108.21,435.48 L108.79,435.69 L109.37,435.90 L109.95,436.10 L110.53,436.30 L111.10,436.49 L111.68,436.68 L112.26,436.86 L112.84,437.03 L113.42,437.20 L114.00,437.37 L114.58,437.52 L115.16,437.68 L115.74,437.82 L116.32,437.97 L116.90,438.10 L117.48,438.23 L118.06,438.35 L118.63,438.47 L119.21,438.58 L119.79,438.69 L120.37,438.79 L120.95,438.88 L121.53,438.97 L122.11,439.05 L122.69,439.12 L123.27,439.19 L123.85,439.25 L124.43,439.30 L125.01,439.35 L125.59,439.39 L126.17,439.43 L126.74,439.46 L127.32,439.48 L127.90,439.49 L128.48,439.50 L129.06,439.50 L129.64,439.50 L130.22,439.48 L130.80,439.46 L131.38,439.44 L131.96,439.40 L132.54,439.36 L133.12,439.31 L133.70,439.26 L134.27,439.20 L134.85,439.13 L135.43,439.05 L136.01,438.97 L136.59,438.88 L137.17,438.78 L137.75,438.68 L138.33,438.58 L138.91,438.46 L139.49,438.34 L140.07,438.22 L140.65,438.09 L141.23,437.96 L141.81,437.82 L142.38,437.67 L142.96,437.52 L143.54,437.37 L144.12,437.21 L144.70,437.05 L145.28,436.88 L145.86,436.71 L146.44,436.53 L147.02,436.36 L147.60,436.17 L148.18,435.99 L148.76,435.80 L149.34,435.61 L149.92,435.41 L150.49,435.21 L151.07,435.01 L151.65,434.81 L152.23,434.60 L152.81,434.40 L153.39,434.19 L153.97,433.97 L154.55,433.76 L155.13,433.55 L155.71,433.33 L156.29,433.11 L156.87,432.89 L157.45,432.67 L158.02,432.45 L158.60,432.23 L159.18,432.00 L159.76,431.78 L160.34,431.56 L160.92,431.33 L161.50,431.11 L162.08,430.89 L162.66,430.66 L163.24,430.44 L163.82,430.22 L164.40,430.00 L164.98,429.77 L165.56,429.55 L166.13,429.34 L166.71,429.12 L167.29,428.90 L167.87,428.69 L168.45,428.48 L169.03,428.27 L169.61,428.06 L170.19,427.85 L170.77,427.65 L171.35,427.44 L171.93,427.24 L172.51,427.05 L173.09,426.85 L173.66,426.66 L174.24,426.47 L174.82,426.28 L175.40,426.09 L175.98,425.90 L176.56,425.72 L177.14,425.54 L177.72,425.35 L178.30,425.18 L178.88,425.00 L179.46,424.82 L180.04,424.65 L180.62,424.47 L181.20,424.30 L181.77,424.13 L182.35,423.96 L182.93,423.79 L183.51,423.63 L184.09,423.46 L184.67,423.30 L185.25,423.13 L185.83,422.97 L186.41,422.81 L186.99,422.65 L187.57,422.49 L188.15,422.33 L188.73,422.17 L189.31,422.01 L189.88,421.85 L190.46,421.69 L191.04,421.54 L191.62,421.38 L192.20,421.22 L192.78,421.07 L193.36,420.91 L193.94,420.76 L194.52,420.60 L195.10,420.45 L195.68,420.29 L196.26,420.14 L196.84,419.98 L197.41,419.83 L197.99,419.68 L198.57,419.52 L199.15,419.36 L199.73,419.21 L200.31,419.05 L200.89,418.90 L201.47,418.74 L202.05,418.58 L202.63,418.42 L203.21,418.27 L203.79,418.11 L204.37,417.95 L204.95,417.79 L205.52,417.63 L206.10,417.46 L206.68,417.30 L207.26,417.14 L207.84,416.97 L208.42,416.81 L209.00,416.64" fill="none" stroke="#eea526" stroke-width="1.1" stroke-linejoin="round"/>
<line x1="132.80" y1="435.90" x2="132.80" y2="442.30" stroke="#222" stroke-width="0.7"/>
<path d="M35.80,398.19 L36.38,398.20 L36.96,398.22 L37.54,398.25 L38.12,398.29 L38.70,398.33 L39.28,398.38 L39.85,398.44 L40.43,398.50 L41.01,398.58 L41.59,398.65 L42.17,398.74 L42.75,398.83 L43.33,398.93 L43.91,399.03 L44.49,399.14 L45.07,399.25 L45.65,399.38 L46.23,399.50 L46.81,399.64 L47.39,399.78 L47.96,399.92 L48.54,400.07 L49.12,400.22 L49.70,400.38 L50.28,400.55 L50.86,400.72 L51.44,400.90 L52.02,401.08 L52.60,401.26 L53.18,401.45 L53.76,401.65 L54.34,401.85 L54.92,402.05 L55.49,402.26 L56.07,402.47 L56.65,402.69 L57.23,402.91 L57.81,403.13 L58.39,403.36 L58.97,403.59 L59.55,403.82 L60.13,404.06 L60.71,404.30 L61.29,404.55 L61.87,404.80 L62.45,405.05 L63.03,405.30 L63.60,405.56 L64.18,405.82 L64.76,406.09 L65.34,406.35 L65.92,406.62 L66.50,406.89 L67.08,407.16 L67.66,407.44 L68.24,407.72 L68.82,407.99 L69.40,408.28 L69.98,408.56 L70.56,408.84 L71.14,409.13 L71.71,409.42 L72.29,409.71 L72.87,410.00 L73.45,410.29 L74.03,410.58 L74.61,410.88 L75.19,411.17 L75.77,411.47 L76.35,411.77 L76.93,412.06 L77.51,412.36 L78.09,412.66 L78.67,412.96 L79.24,413.26 L79.82,413.56 L80.40,413.86 L80.98,414.16 L81.56,414.46 L82.14,414.76 L82.72,415.06 L83.30,415.35 L83.88,415.65 L84.46,415.95 L85.04,416.25 L85.62,416.54 L86.20,416.84 L86.78,417.13 L87.35,417.42 L87.93,417.72 L88.51,418.01 L89.09,418.29 L89.67,418.58 L90.25,418.87 L90.83,419.15 L91.41,419.43 L91.99,419.71 L92.57,419.99 L93.15,420.27 L93.73,420.54 L94.31,420.82 L94.88,421.09 L95.46,421.35 L96.04,421.62 L96.62,421.88 L97.20,422.14 L97.78,422.39 L98.36,422.65 L98.94,422.90 L99.52,423.15 L100.10,423.39 L100.68,423.63 L101.26,423.87 L101.84,424.10 L102.42,424.33 L102.99,424.56 L103.57,424.78 L104.15,425.00 L104.73,425.21 L105.31,425.42 L105.89,425.63 L106.47,425.83 L107.05,426.03 L107.63,426.22 L108.21,426.41 L108.79,426.59 L109.37,426.77 L109.95,426.94 L110.53,427.11 L111.10,427.28 L111.68,427.43 L112.26,427.59 L112.84,427.73 L113.42,427.88 L114.00,428.01 L114.58,428.14 L115.16,428.27 L115.74,428.39 L116.32,428.50 L116.90,428.61 L117.48,428.71 L118.06,428.80 L118.63,428.89 L119.21,428.97 L119.79,429.05 L120.37,429.12 L120.95,429.18 L121.53,429.23 L122.11,429.28 L122.69,429.32 L123.27,429.35 L123.85,429.38 L124.43,429.40 L125.01,429.41 L125.59,429.42 L126.17,429.41 L126.74,429.40 L127.32,429.39 L127.90,429.36 L128.48,429.33 L129.06,429.29 L129.64,429.25 L130.22,429.20 L130.80,429.14 L131.38,429.08 L131.96,429.01 L132.54,428.94 L133.12,428.85 L133.70,428.77 L134.27,428.67 L134.85,428.57 L135.43,428.47 L136.01,428.36 L136.59,428.24 L137.17,428.12 L137.75,427.99 L138.33,427.86 L138.91,427.73 L139.49,427.58 L140.07,427.44 L140.65,427.29 L141.23,427.13 L141.81,426.97 L142.38,426.80 L142.96,426.63 L143.54,426.46 L144.12,426.28 L144.70,426.10 L145.28,425.91 L145.86,425.72 L146.44,425.53 L147.02,425.33 L147.60,425.13 L148.18,424.92 L148.76,424.71 L149.34,424.50 L149.92,424.28 L150.49,424.06 L151.07,423.84 L151.65,423.61 L152.23,423.39 L152.81,423.16 L153.39,422.92 L153.97,422.68 L154.55,422.45 L155.13,422.20 L155.71,421.96 L156.29,421.71 L156.87,421.47 L157.45,421.21 L158.02,420.96 L158.60,420.71 L159.18,420.45 L159.76,420.19 L160.34,419.93 L160.92,419.67 L161.50,419.41 L162.08,419.14 L162.66,418.88 L163.24,418.61 L163.82,418.35 L164.40,418.08 L164.98,417.81 L165.56,417.54 L166.13,417.27 L166.71,416.99 L167.29,416.72 L167.87,416.45 L168.45,416.18 L169.03,415.90 L169.61,415.63 L170.19,415.36 L170.77,415.08 L171.35,414.81 L171.93,414.54 L172.51,414.27 L173.09,413.99 L173.66,413.72 L174.24,413.45 L174.82,413.18 L175.40,412.91 L175.98,412.64 L176.56,412.38 L177.14,412.11 L177.72,411.84 L178.30,411.58 L178.88,411.32 L179.46,411.06 L180.04,410.80 L180.62,410.54 L181.20,410.28 L181.77,410.03 L182.35,409.78 L182.93,409.53 L183.51,409.28 L184.09,409.03 L184.67,408.79 L185.25,408.55 L185.83,408.31 L186.41,408.07 L186.99,407.84 L187.57,407.61 L188.15,407.38 L188.73,407.15 L189.31,406.93 L189.88,406.71 L190.46,406.50 L191.04,406.28 L191.62,406.07 L192.20,405.87 L192.78,405.67 L193.36,405.47 L193.94,405.28 L194.52,405.09 L195.10,404.90 L195.68,404.72 L196.26,404.54 L196.84,404.36 L197.41,404.19 L197.99,404.03 L198.57,403.87 L199.15,403.71 L199.73,403.56 L200.31,403.42 L200.89,403.27 L201.47,403.14 L202.05,403.01 L202.63,402.88 L203.21,402.76 L203.79,402.65 L204.37,402.54 L204.95,402.43 L205.52,402.33 L206.10,402.24 L206.68,402.15 L207.26,402.07 L207.84,402.00 L208.42,401.93 L209.00,401.87" fill="none" stroke="#22d0e4" stroke-width="1.1" stroke-linejoin="round"/>
<line x1="124.10" y1="426.60" x2="124.10" y2="433.00" stroke="#222" stroke-width="0.7"/>
<text x="113.00" y="496.00" font-size="5.8" text-anchor="middle" fill="#1a1a1a" stroke="#1a1a1a" stroke-width="0.261">71.62</text>
<text x="125.00" y="487.20" font-size="5.8" text-anchor="middle" fill="#1a1a1a" stroke="#1a1a1a" stroke-width="0.261">77.38</text>
<text x="123.20" y="475.70" font-size="5.8" text-anchor="middle" fill="#1a1a1a" stroke="#1a1a1a" stroke-width="0.261">76.21</text>
<text x="129.60" y="463.40" font-size="5.8" text-anchor="middle" fill="#1a1a1a" stroke="#1a1a1a" stroke-width="0.261">79.72</text>
<text x="136.10" y="448.10" font-size="5.8" text-anchor="middle" fill="#1a1a1a" stroke="#1a1a1a" stroke-width="0.261">83.22</text>
<text x="138.30" y="435.20" font-size="5.8" text-anchor="middle" fill="#1a1a1a" stroke="#1a1a1a" stroke-width="0.261">80.88</text>
<text x="123.70" y="425.00" font-size="5.8" text-anchor="middle" fill="#1a1a1a" stroke="#1a1a1a" stroke-width="0.261">76.22</text>
<line x1="36.50" y1="373.80" x2="49.60" y2="373.80" stroke="#5c5c5c" stroke-width="1.3"/>
<text x="52.60" y="376.10" font-size="6.6" text-anchor="start" fill="#1a1a1a" stroke="#1a1a1a" stroke-width="0.297">WNPI/KC</text>
<line x1="85.30" y1="373.80" x2="98.70" y2="373.80" stroke="#f86262" stroke-width="1.3"/>
<text x="100.30" y="376.10" font-size="6.6" text-anchor="start" fill="#1a1a1a" stroke="#1a1a1a" stroke-width="0.297">U-200W</text>
<line x1="125.70" y1="373.80" x2="140.00" y2="373.80" stroke="#3a8eec" stroke-width="1.3"/>
<text x="141.80" y="376.10" font-size="6.6" text-anchor="start" fill="#1a1a1a" stroke="#1a1a1a" stroke-width="0.297">U-0W-TG</text>
<line x1="36.50" y1="381.80" x2="49.60" y2="381.80" stroke="#30b885" stroke-width="1.3"/>
<text x="53.00" y="384.10" font-size="6.6" text-anchor="start" fill="#1a1a1a" stroke="#1a1a1a" stroke-width="0.297">U-100W-TG</text>
<line x1="90.40" y1="381.80" x2="103.30" y2="381.80" stroke="#dc76f2" stroke-width="1.3"/>
<text x="106.00" y="384.10" font-size="6.6" text-anchor="start" fill="#1a1a1a" stroke="#1a1a1a" stroke-width="0.297">U-200W-TG</text>
<line x1="144.60" y1="381.80" x2="159.50" y2="381.80" stroke="#eea526" stroke-width="1.3"/>
<text x="161.20" y="384.10" font-size="6.6" text-anchor="start" fill="#1a1a1a" stroke="#1a1a1a" stroke-width="0.297">U-300W-TG</text>
<line x1="36.50" y1="390.30" x2="49.60" y2="390.30" stroke="#22d0e4" stroke-width="1.3"/>
<text x="53.00" y="392.60" font-size="6.6" text-anchor="start" fill="#1a1a1a" stroke="#1a1a1a" stroke-width="0.297">U-400W-TG</text>
<rect x="249.30" y="369.50" width="179.70" height="145.00" fill="none" stroke="#161616" stroke-width="1.35"/>
<line x1="249.30" y1="514.50" x2="247.10" y2="514.50" stroke="#161616" stroke-width="1.05"/>
<text x="244.60" y="517.20" font-size="7.6" text-anchor="end" fill="#1a1a1a" stroke="#1a1a1a" stroke-width="0.342">0</text>
<line x1="249.30" y1="503.35" x2="247.90" y2="503.35" stroke="#161616" stroke-width="1.05"/>
<line x1="249.30" y1="492.20" x2="247.10" y2="492.20" stroke="#161616" stroke-width="1.05"/>
<text x="244.60" y="494.90" font-size="7.6" text-anchor="end" fill="#1a1a1a" stroke="#1a1a1a" stroke-width="0.342">10</text>
<line x1="249.30" y1="481.05" x2="247.90" y2="481.05" stroke="#161616" stroke-width="1.05"/>
<line x1="249.30" y1="469.90" x2="247.10" y2="469.90" stroke="#161616" stroke-width="1.05"/>
<text x="244.60" y="472.60" font-size="7.6" text-anchor="end" fill="#1a1a1a" stroke="#1a1a1a" stroke-width="0.342">20</text>
<line x1="249.30" y1="458.75" x2="247.90" y2="458.75" stroke="#161616" stroke-width="1.05"/>
<line x1="249.30" y1="447.60" x2="247.10" y2="447.60" stroke="#161616" stroke-width="1.05"/>
<text x="244.60" y="450.30" font-size="7.6" text-anchor="end" fill="#1a1a1a" stroke="#1a1a1a" stroke-width="0.342">30</text>
<line x1="249.30" y1="436.45" x2="247.90" y2="436.45" stroke="#161616" stroke-width="1.05"/>
<line x1="249.30" y1="425.30" x2="247.10" y2="425.30" stroke="#161616" stroke-width="1.05"/>
<text x="244.60" y="428.00" font-size="7.6" text-anchor="end" fill="#1a1a1a" stroke="#1a1a1a" stroke-width="0.342">40</text>
<line x1="249.30" y1="414.15" x2="247.90" y2="414.15" stroke="#161616" stroke-width="1.05"/>
<line x1="249.30" y1="403.00" x2="247.10" y2="403.00" stroke="#161616" stroke-width="1.05"/>
<text x="244.60" y="405.70" font-size="7.6" text-anchor="end" fill="#1a1a1a" stroke="#1a1a1a" stroke-width="0.342">50</text>
<line x1="249.30" y1="391.85" x2="247.90" y2="391.85" stroke="#161616" stroke-width="1.05"/>
<line x1="249.30" y1="380.70" x2="247.10" y2="380.70" stroke="#161616" stroke-width="1.05"/>
<text x="244.60" y="383.40" font-size="7.6" text-anchor="end" fill="#1a1a1a" stroke="#1a1a1a" stroke-width="0.342">60</text>
<line x1="249.30" y1="369.55" x2="247.90" y2="369.55" stroke="#161616" stroke-width="1.05"/>
<text x="231.00" y="450.40" font-size="11.4" text-anchor="middle" fill="#1a1a1a" stroke="#1a1a1a" stroke-width="0.513" transform="rotate(-90 231.00 450.40)">Protein solubility(g/100g)</text>
<text x="226.80" y="367.50" font-size="13" text-anchor="start" fill="#1a1a1a" stroke="#1a1a1a" stroke-width="0.585">F</text>
<rect x="252.00" y="508.93" width="5.3" height="5.57" fill="#fad8b6" stroke="#2a2a2a" stroke-width="1.0"/>
<line x1="254.65" y1="508.03" x2="254.65" y2="509.82" stroke="#222" stroke-width="0.7"/>
<line x1="253.15" y1="508.03" x2="256.15" y2="508.03" stroke="#222" stroke-width="0.7"/>
<text x="254.65" y="506.43" font-size="7.4" text-anchor="middle" fill="#1a1a1a" stroke="#1a1a1a" stroke-width="0.333">e</text>
<rect x="257.30" y="443.81" width="5.3" height="70.69" fill="#8ee0f4" stroke="#2a2a2a" stroke-width="1.0"/>
<line x1="259.95" y1="441.58" x2="259.95" y2="446.04" stroke="#222" stroke-width="0.7"/>
<line x1="258.45" y1="441.58" x2="261.45" y2="441.58" stroke="#222" stroke-width="0.7"/>
<text x="259.95" y="439.98" font-size="7.4" text-anchor="middle" fill="#1a1a1a" stroke="#1a1a1a" stroke-width="0.333">e</text>
<rect x="262.60" y="496.66" width="5.3" height="17.84" fill="#b4b9f5" stroke="#2a2a2a" stroke-width="1.0"/>
<line x1="265.25" y1="495.32" x2="265.25" y2="498.00" stroke="#222" stroke-width="0.7"/>
<line x1="263.75" y1="495.32" x2="266.75" y2="495.32" stroke="#222" stroke-width="0.7"/>
<text x="265.25" y="493.72" font-size="7.4" text-anchor="middle" fill="#1a1a1a" stroke="#1a1a1a" stroke-width="0.333">g</text>
<rect x="267.90" y="506.69" width="5.3" height="7.81" fill="#fdf0c1" stroke="#2a2a2a" stroke-width="1.0"/>
<line x1="270.55" y1="504.91" x2="270.55" y2="508.48" stroke="#222" stroke-width="0.7"/>
<line x1="269.05" y1="504.91" x2="272.05" y2="504.91" stroke="#222" stroke-width="0.7"/>
<text x="270.55" y="503.31" font-size="7.4" text-anchor="middle" fill="#1a1a1a" stroke="#1a1a1a" stroke-width="0.333">f</text>
<line x1="262.60" y1="514.50" x2="262.60" y2="516.70" stroke="#161616" stroke-width="1.05"/>
<text x="266.10" y="527.00" font-size="7.6" text-anchor="end" fill="#1a1a1a" stroke="#1a1a1a" stroke-width="0.342" transform="rotate(-30 266.10 527.00)">WNPI/KC</text>
<rect x="277.60" y="505.58" width="5.3" height="8.92" fill="#fad8b6" stroke="#2a2a2a" stroke-width="1.0"/>
<line x1="280.25" y1="504.46" x2="280.25" y2="506.69" stroke="#222" stroke-width="0.7"/>
<line x1="278.75" y1="504.46" x2="281.75" y2="504.46" stroke="#222" stroke-width="0.7"/>
<text x="280.25" y="502.86" font-size="7.4" text-anchor="middle" fill="#1a1a1a" stroke="#1a1a1a" stroke-width="0.333">d</text>
<rect x="282.90" y="423.07" width="5.3" height="91.43" fill="#8ee0f4" stroke="#2a2a2a" stroke-width="1.0"/>
<line x1="285.55" y1="420.84" x2="285.55" y2="425.30" stroke="#222" stroke-width="0.7"/>
<line x1="284.05" y1="420.84" x2="287.05" y2="420.84" stroke="#222" stroke-width="0.7"/>
<text x="285.55" y="419.24" font-size="7.4" text-anchor="middle" fill="#1a1a1a" stroke="#1a1a1a" stroke-width="0.333">c</text>
<rect x="288.20" y="489.97" width="5.3" height="24.53" fill="#b4b9f5" stroke="#2a2a2a" stroke-width="1.0"/>
<line x1="290.85" y1="488.41" x2="290.85" y2="491.53" stroke="#222" stroke-width="0.7"/>
<line x1="289.35" y1="488.41" x2="292.35" y2="488.41" stroke="#222" stroke-width="0.7"/>
<text x="290.85" y="486.81" font-size="7.4" text-anchor="middle" fill="#1a1a1a" stroke="#1a1a1a" stroke-width="0.333">e</text>
<rect x="293.50" y="502.24" width="5.3" height="12.26" fill="#fdf0c1" stroke="#2a2a2a" stroke-width="1.0"/>
<line x1="296.15" y1="501.57" x2="296.15" y2="502.90" stroke="#222" stroke-width="0.7"/>
<line x1="294.65" y1="501.57" x2="297.65" y2="501.57" stroke="#222" stroke-width="0.7"/>
<text x="296.15" y="499.97" font-size="7.4" text-anchor="middle" fill="#1a1a1a" stroke="#1a1a1a" stroke-width="0.333">d</text>
<line x1="288.20" y1="514.50" x2="288.20" y2="516.70" stroke="#161616" stroke-width="1.05"/>
<text x="291.70" y="527.00" font-size="7.6" text-anchor="end" fill="#1a1a1a" stroke="#1a1a1a" stroke-width="0.342" transform="rotate(-30 291.70 527.00)">U-200W</text>
<rect x="303.20" y="507.81" width="5.3" height="6.69" fill="#fad8b6" stroke="#2a2a2a" stroke-width="1.0"/>
<line x1="305.85" y1="507.14" x2="305.85" y2="508.48" stroke="#222" stroke-width="0.7"/>
<line x1="304.35" y1="507.14" x2="307.35" y2="507.14" stroke="#222" stroke-width="0.7"/>
<text x="305.85" y="505.54" font-size="7.4" text-anchor="middle" fill="#1a1a1a" stroke="#1a1a1a" stroke-width="0.333">e</text>
<rect x="308.50" y="430.88" width="5.3" height="83.62" fill="#8ee0f4" stroke="#2a2a2a" stroke-width="1.0"/>
<line x1="311.15" y1="428.64" x2="311.15" y2="433.11" stroke="#222" stroke-width="0.7"/>
<line x1="309.65" y1="428.64" x2="312.65" y2="428.64" stroke="#222" stroke-width="0.7"/>
<text x="311.15" y="427.04" font-size="7.4" text-anchor="middle" fill="#1a1a1a" stroke="#1a1a1a" stroke-width="0.333">d</text>
<rect x="313.80" y="492.20" width="5.3" height="22.30" fill="#b4b9f5" stroke="#2a2a2a" stroke-width="1.0"/>
<line x1="316.45" y1="490.86" x2="316.45" y2="493.54" stroke="#222" stroke-width="0.7"/>
<line x1="314.95" y1="490.86" x2="317.95" y2="490.86" stroke="#222" stroke-width="0.7"/>
<text x="316.45" y="489.26" font-size="7.4" text-anchor="middle" fill="#1a1a1a" stroke="#1a1a1a" stroke-width="0.333">f</text>
<rect x="319.10" y="505.13" width="5.3" height="9.37" fill="#fdf0c1" stroke="#2a2a2a" stroke-width="1.0"/>
<line x1="321.75" y1="504.24" x2="321.75" y2="506.03" stroke="#222" stroke-width="0.7"/>
<line x1="320.25" y1="504.24" x2="323.25" y2="504.24" stroke="#222" stroke-width="0.7"/>
<text x="321.75" y="502.64" font-size="7.4" text-anchor="middle" fill="#1a1a1a" stroke="#1a1a1a" stroke-width="0.333">e</text>
<line x1="313.80" y1="514.50" x2="313.80" y2="516.70" stroke="#161616" stroke-width="1.05"/>
<text x="317.30" y="527.00" font-size="7.6" text-anchor="end" fill="#1a1a1a" stroke="#1a1a1a" stroke-width="0.342" transform="rotate(-30 317.30 527.00)">U-0W-TG</text>
<rect x="328.80" y="502.90" width="5.3" height="11.60" fill="#fad8b6" stroke="#2a2a2a" stroke-width="1.0"/>
<line x1="331.45" y1="502.24" x2="331.45" y2="503.57" stroke="#222" stroke-width="0.7"/>
<line x1="329.95" y1="502.24" x2="332.95" y2="502.24" stroke="#222" stroke-width="0.7"/>
<text x="331.45" y="500.63" font-size="7.4" text-anchor="middle" fill="#1a1a1a" stroke="#1a1a1a" stroke-width="0.333">c</text>
<rect x="334.10" y="407.91" width="5.3" height="106.59" fill="#8ee0f4" stroke="#2a2a2a" stroke-width="1.0"/>
<line x1="336.75" y1="407.01" x2="336.75" y2="408.80" stroke="#222" stroke-width="0.7"/>
<line x1="335.25" y1="407.01" x2="338.25" y2="407.01" stroke="#222" stroke-width="0.7"/>
<text x="336.75" y="405.41" font-size="7.4" text-anchor="middle" fill="#1a1a1a" stroke="#1a1a1a" stroke-width="0.333">b</text>
<rect x="339.40" y="481.05" width="5.3" height="33.45" fill="#b4b9f5" stroke="#2a2a2a" stroke-width="1.0"/>
<line x1="342.05" y1="480.16" x2="342.05" y2="481.94" stroke="#222" stroke-width="0.7"/>
<line x1="340.55" y1="480.16" x2="343.55" y2="480.16" stroke="#222" stroke-width="0.7"/>
<text x="342.05" y="478.56" font-size="7.4" text-anchor="middle" fill="#1a1a1a" stroke="#1a1a1a" stroke-width="0.333">c</text>
<rect x="344.70" y="498.67" width="5.3" height="15.83" fill="#fdf0c1" stroke="#2a2a2a" stroke-width="1.0"/>
<line x1="347.35" y1="497.77" x2="347.35" y2="499.56" stroke="#222" stroke-width="0.7"/>
<line x1="345.85" y1="497.77" x2="348.85" y2="497.77" stroke="#222" stroke-width="0.7"/>
<text x="347.35" y="496.17" font-size="7.4" text-anchor="middle" fill="#1a1a1a" stroke="#1a1a1a" stroke-width="0.333">c</text>
<line x1="339.40" y1="514.50" x2="339.40" y2="516.70" stroke="#161616" stroke-width="1.05"/>
<text x="342.90" y="527.00" font-size="7.6" text-anchor="end" fill="#1a1a1a" stroke="#1a1a1a" stroke-width="0.342" transform="rotate(-30 342.90 527.00)">U-100W-TG</text>
<rect x="354.40" y="493.54" width="5.3" height="20.96" fill="#fad8b6" stroke="#2a2a2a" stroke-width="1.0"/>
<line x1="357.05" y1="492.65" x2="357.05" y2="494.43" stroke="#222" stroke-width="0.7"/>
<line x1="355.55" y1="492.65" x2="358.55" y2="492.65" stroke="#222" stroke-width="0.7"/>
<text x="357.05" y="491.05" font-size="7.4" text-anchor="middle" fill="#1a1a1a" stroke="#1a1a1a" stroke-width="0.333">a</text>
<rect x="359.70" y="401.22" width="5.3" height="113.28" fill="#8ee0f4" stroke="#2a2a2a" stroke-width="1.0"/>
<line x1="362.35" y1="398.99" x2="362.35" y2="403.45" stroke="#222" stroke-width="0.7"/>
<line x1="360.85" y1="398.99" x2="363.85" y2="398.99" stroke="#222" stroke-width="0.7"/>
<text x="362.35" y="397.39" font-size="7.4" text-anchor="middle" fill="#1a1a1a" stroke="#1a1a1a" stroke-width="0.333">a</text>
<rect x="365.00" y="464.55" width="5.3" height="49.95" fill="#b4b9f5" stroke="#2a2a2a" stroke-width="1.0"/>
<line x1="367.65" y1="463.43" x2="367.65" y2="465.66" stroke="#222" stroke-width="0.7"/>
<line x1="366.15" y1="463.43" x2="369.15" y2="463.43" stroke="#222" stroke-width="0.7"/>
<text x="367.65" y="461.83" font-size="7.4" text-anchor="middle" fill="#1a1a1a" stroke="#1a1a1a" stroke-width="0.333">a</text>
<rect x="370.30" y="493.09" width="5.3" height="21.41" fill="#fdf0c1" stroke="#2a2a2a" stroke-width="1.0"/>
<line x1="372.95" y1="492.20" x2="372.95" y2="493.98" stroke="#222" stroke-width="0.7"/>
<line x1="371.45" y1="492.20" x2="374.45" y2="492.20" stroke="#222" stroke-width="0.7"/>
<text x="372.95" y="490.60" font-size="7.4" text-anchor="middle" fill="#1a1a1a" stroke="#1a1a1a" stroke-width="0.333">a</text>
<line x1="365.00" y1="514.50" x2="365.00" y2="516.70" stroke="#161616" stroke-width="1.05"/>
<text x="368.50" y="527.00" font-size="7.6" text-anchor="end" fill="#1a1a1a" stroke="#1a1a1a" stroke-width="0.342" transform="rotate(-30 368.50 527.00)">U-200W-TG</text>
<rect x="380.00" y="499.11" width="5.3" height="15.39" fill="#fad8b6" stroke="#2a2a2a" stroke-width="1.0"/>
<line x1="382.65" y1="498.44" x2="382.65" y2="499.78" stroke="#222" stroke-width="0.7"/>
<line x1="381.15" y1="498.44" x2="384.15" y2="498.44" stroke="#222" stroke-width="0.7"/>
<text x="382.65" y="496.84" font-size="7.4" text-anchor="middle" fill="#1a1a1a" stroke="#1a1a1a" stroke-width="0.333">b</text>
<rect x="385.30" y="403.45" width="5.3" height="111.05" fill="#8ee0f4" stroke="#2a2a2a" stroke-width="1.0"/>
<line x1="387.95" y1="401.22" x2="387.95" y2="405.68" stroke="#222" stroke-width="0.7"/>
<line x1="386.45" y1="401.22" x2="389.45" y2="401.22" stroke="#222" stroke-width="0.7"/>
<text x="387.95" y="399.62" font-size="7.4" text-anchor="middle" fill="#1a1a1a" stroke="#1a1a1a" stroke-width="0.333">a</text>
<rect x="390.60" y="473.69" width="5.3" height="40.81" fill="#b4b9f5" stroke="#2a2a2a" stroke-width="1.0"/>
<line x1="393.25" y1="472.80" x2="393.25" y2="474.58" stroke="#222" stroke-width="0.7"/>
<line x1="391.75" y1="472.80" x2="394.75" y2="472.80" stroke="#222" stroke-width="0.7"/>
<text x="393.25" y="471.20" font-size="7.4" text-anchor="middle" fill="#1a1a1a" stroke="#1a1a1a" stroke-width="0.333">b</text>
<rect x="395.90" y="496.44" width="5.3" height="18.06" fill="#fdf0c1" stroke="#2a2a2a" stroke-width="1.0"/>
<line x1="398.55" y1="495.77" x2="398.55" y2="497.11" stroke="#222" stroke-width="0.7"/>
<line x1="397.05" y1="495.77" x2="400.05" y2="495.77" stroke="#222" stroke-width="0.7"/>
<text x="398.55" y="494.17" font-size="7.4" text-anchor="middle" fill="#1a1a1a" stroke="#1a1a1a" stroke-width="0.333">b</text>
<line x1="390.60" y1="514.50" x2="390.60" y2="516.70" stroke="#161616" stroke-width="1.05"/>
<text x="394.10" y="527.00" font-size="7.6" text-anchor="end" fill="#1a1a1a" stroke="#1a1a1a" stroke-width="0.342" transform="rotate(-30 394.10 527.00)">U-300W-TG</text>
<rect x="405.60" y="504.24" width="5.3" height="10.26" fill="#fad8b6" stroke="#2a2a2a" stroke-width="1.0"/>
<line x1="408.25" y1="502.90" x2="408.25" y2="505.58" stroke="#222" stroke-width="0.7"/>
<line x1="406.75" y1="502.90" x2="409.75" y2="502.90" stroke="#222" stroke-width="0.7"/>
<text x="408.25" y="501.30" font-size="7.4" text-anchor="middle" fill="#1a1a1a" stroke="#1a1a1a" stroke-width="0.333">c</text>
<rect x="410.90" y="419.50" width="5.3" height="95.00" fill="#8ee0f4" stroke="#2a2a2a" stroke-width="1.0"/>
<line x1="413.55" y1="418.16" x2="413.55" y2="420.84" stroke="#222" stroke-width="0.7"/>
<line x1="412.05" y1="418.16" x2="415.05" y2="418.16" stroke="#222" stroke-width="0.7"/>
<text x="413.55" y="416.56" font-size="7.4" text-anchor="middle" fill="#1a1a1a" stroke="#1a1a1a" stroke-width="0.333">c</text>
<rect x="416.20" y="487.29" width="5.3" height="27.21" fill="#b4b9f5" stroke="#2a2a2a" stroke-width="1.0"/>
<line x1="418.85" y1="486.40" x2="418.85" y2="488.19" stroke="#222" stroke-width="0.7"/>
<line x1="417.35" y1="486.40" x2="420.35" y2="486.40" stroke="#222" stroke-width="0.7"/>
<text x="418.85" y="484.80" font-size="7.4" text-anchor="middle" fill="#1a1a1a" stroke="#1a1a1a" stroke-width="0.333">d</text>
<rect x="421.50" y="499.11" width="5.3" height="15.39" fill="#fdf0c1" stroke="#2a2a2a" stroke-width="1.0"/>
<line x1="424.15" y1="498.22" x2="424.15" y2="500.00" stroke="#222" stroke-width="0.7"/>
<line x1="422.65" y1="498.22" x2="425.65" y2="498.22" stroke="#222" stroke-width="0.7"/>
<text x="424.15" y="496.62" font-size="7.4" text-anchor="middle" fill="#1a1a1a" stroke="#1a1a1a" stroke-width="0.333">c</text>
<line x1="416.20" y1="514.50" x2="416.20" y2="516.70" stroke="#161616" stroke-width="1.05"/>
<text x="419.70" y="527.00" font-size="7.6" text-anchor="end" fill="#1a1a1a" stroke="#1a1a1a" stroke-width="0.342" transform="rotate(-30 419.70 527.00)">U-400W-TG</text>
<rect x="251.6" y="370.40" width="14.6" height="6.9" fill="#fad8b6" stroke="#3a3a3a" stroke-width="1.0"/>
<text x="270.40" y="377.10" font-size="7.3" text-anchor="start" fill="#1a1a1a" stroke="#1a1a1a" stroke-width="0.328" textLength="55.5" lengthAdjust="spacingAndGlyphs">Electrostatic forces</text>
<rect x="251.6" y="380.40" width="14.6" height="6.9" fill="#8ee0f4" stroke="#3a3a3a" stroke-width="1.0"/>
<text x="270.40" y="387.10" font-size="7.3" text-anchor="start" fill="#1a1a1a" stroke="#1a1a1a" stroke-width="0.328" textLength="74.5" lengthAdjust="spacingAndGlyphs">Hydrophobic interactions</text>
<rect x="251.6" y="389.60" width="14.6" height="6.9" fill="#b4b9f5" stroke="#3a3a3a" stroke-width="1.0"/>
<text x="270.40" y="396.30" font-size="7.3" text-anchor="start" fill="#1a1a1a" stroke="#1a1a1a" stroke-width="0.328" textLength="48.0" lengthAdjust="spacingAndGlyphs">Hydrogen bonds</text>
<rect x="251.6" y="398.80" width="14.6" height="6.9" fill="#fdf0c1" stroke="#3a3a3a" stroke-width="1.0"/>
<text x="270.40" y="405.50" font-size="7.3" text-anchor="start" fill="#1a1a1a" stroke="#1a1a1a" stroke-width="0.328" textLength="45.2" lengthAdjust="spacingAndGlyphs">Disulfide bonds</text>
</svg></body></html>
